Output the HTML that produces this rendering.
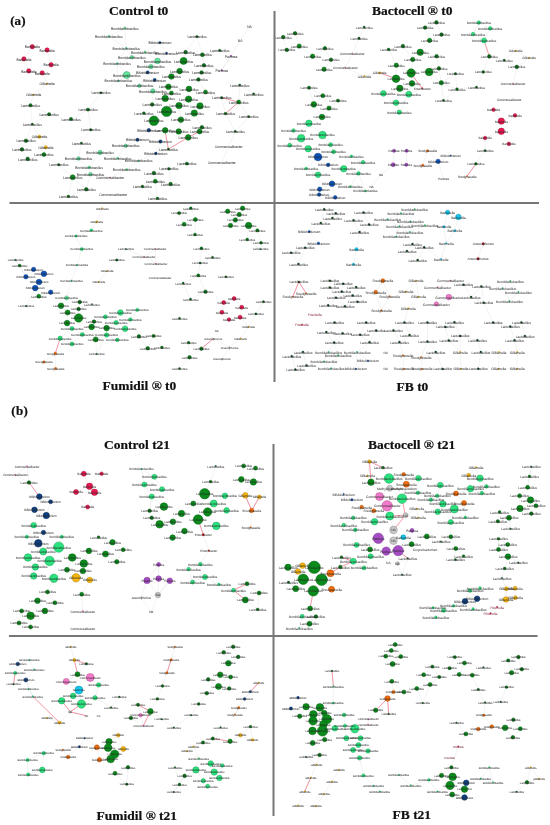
<!DOCTYPE html>
<html><head><meta charset="utf-8"><title>Network figure</title>
<style>html,body{margin:0;padding:0;background:#fff;width:550px;height:825px;overflow:hidden}svg{display:block}</style>
</head><body>
<svg width="550" height="825" viewBox="0 0 550 825">
<rect width="550" height="825" fill="#fff"/>
<g stroke="#d9d9d9" stroke-width="0.4" opacity="0.8">
<line x1="32.3" y1="46.7" x2="23.9" y2="58.9"/>
<line x1="32.3" y1="46.7" x2="47.1" y2="50"/>
<line x1="47.1" y1="50" x2="51.1" y2="64.8"/>
<line x1="23.9" y1="58.9" x2="28.8" y2="70.9"/>
<line x1="51.1" y1="64.8" x2="42.2" y2="72.9"/>
<line x1="28.8" y1="70.9" x2="42.2" y2="72.9"/>
<line x1="42.2" y1="72.9" x2="47.1" y2="83.6"/>
<line x1="47.1" y1="83.6" x2="33.6" y2="94.6"/>
<line x1="33.6" y1="94.6" x2="30.5" y2="105.2"/>
<line x1="39.4" y1="136.7" x2="45.8" y2="147.2"/>
<line x1="39.4" y1="136.7" x2="26" y2="140.8"/>
<line x1="45.8" y1="147.2" x2="43.9" y2="154.6"/>
<line x1="30.5" y1="105.2" x2="32.3" y2="124.2"/>
<line x1="49.1" y1="114.2" x2="32.3" y2="124.2"/>
<line x1="49.1" y1="114.2" x2="30.5" y2="105.2"/>
<line x1="88" y1="109.6" x2="71" y2="119"/>
<line x1="88" y1="109.6" x2="90.8" y2="129.8"/>
<line x1="101" y1="92.8" x2="118.4" y2="80.8"/>
<line x1="101" y1="92.8" x2="88" y2="109.6"/>
<line x1="32.3" y1="124.2" x2="39.4" y2="136.7"/>
<line x1="32.3" y1="124.2" x2="26" y2="140.8"/>
<line x1="90.8" y1="129.8" x2="81.4" y2="143.1"/>
<line x1="26" y1="140.8" x2="21.9" y2="149.4"/>
<line x1="21.9" y1="149.4" x2="27.7" y2="158.9"/>
<line x1="43.9" y1="154.6" x2="27.7" y2="158.9"/>
<line x1="81.4" y1="143.1" x2="78.5" y2="158.5"/>
<line x1="58.8" y1="164.7" x2="43.9" y2="154.6"/>
<line x1="58.8" y1="164.7" x2="72.7" y2="177.3"/>
<line x1="72.7" y1="177.3" x2="90.5" y2="174.2"/>
<line x1="72.7" y1="177.3" x2="86.3" y2="189.3"/>
<line x1="86.3" y1="189.3" x2="90.5" y2="174.2"/>
<line x1="68.4" y1="196.4" x2="86.3" y2="189.3"/>
<line x1="68.4" y1="196.4" x2="72.7" y2="177.3"/>
<line x1="124.8" y1="27.9" x2="108.9" y2="36.4"/>
<line x1="124.8" y1="27.9" x2="126.2" y2="48.2"/>
<line x1="108.9" y1="36.4" x2="126.2" y2="48.2"/>
<line x1="126.2" y1="48.2" x2="131.8" y2="57.3"/>
<line x1="126.2" y1="48.2" x2="117.1" y2="63.7"/>
<line x1="131.8" y1="57.3" x2="144.9" y2="51.9"/>
<line x1="117.1" y1="63.7" x2="126.7" y2="75"/>
<line x1="117.1" y1="63.7" x2="131.8" y2="57.3"/>
<line x1="126.7" y1="75" x2="118.4" y2="80.8"/>
<line x1="118.4" y1="80.8" x2="117.1" y2="63.7"/>
<line x1="144.9" y1="51.9" x2="157.5" y2="60.9"/>
<line x1="157.5" y1="60.9" x2="150.9" y2="66.6"/>
<line x1="157.5" y1="60.9" x2="166.5" y2="53.2"/>
<line x1="150.9" y1="66.6" x2="147.6" y2="72.4"/>
<line x1="139.5" y1="85.8" x2="152.9" y2="91"/>
<line x1="139.5" y1="85.8" x2="147.6" y2="72.4"/>
<line x1="152.9" y1="91" x2="154.7" y2="79.9"/>
<line x1="152.9" y1="91" x2="152.2" y2="104.5"/>
<line x1="100.1" y1="152.5" x2="89.1" y2="167.3"/>
<line x1="100.1" y1="152.5" x2="117.7" y2="158.2"/>
<line x1="78.5" y1="158.5" x2="89.1" y2="167.3"/>
<line x1="89.1" y1="167.3" x2="90.5" y2="174.2"/>
<line x1="117.7" y1="158.2" x2="126.6" y2="169.7"/>
<line x1="117.7" y1="158.2" x2="125.7" y2="145.8"/>
<line x1="125.7" y1="145.8" x2="137.5" y2="139.8"/>
<line x1="126.6" y1="169.7" x2="138.6" y2="160.8"/>
<line x1="138.6" y1="160.8" x2="155.8" y2="153.4"/>
<line x1="159.9" y1="42.6" x2="166.5" y2="53.2"/>
<line x1="159.9" y1="42.6" x2="144.9" y2="51.9"/>
<line x1="147.6" y1="72.4" x2="154.7" y2="79.9"/>
<line x1="148.8" y1="130.2" x2="153.9" y2="120.8"/>
<line x1="148.8" y1="130.2" x2="137.5" y2="139.8"/>
<line x1="160.4" y1="141.5" x2="168.4" y2="149.1"/>
<line x1="160.4" y1="141.5" x2="165.2" y2="130.3"/>
<line x1="155.8" y1="153.4" x2="160.4" y2="141.5"/>
<line x1="155.8" y1="153.4" x2="168.4" y2="149.1"/>
<line x1="197" y1="36.6" x2="202.4" y2="54.8"/>
<line x1="197" y1="36.6" x2="185.6" y2="52.1"/>
<line x1="185.6" y1="52.1" x2="183.6" y2="60.9"/>
<line x1="185.6" y1="52.1" x2="202.4" y2="54.8"/>
<line x1="183.6" y1="60.9" x2="179.6" y2="71.1"/>
<line x1="179.6" y1="71.1" x2="171.4" y2="76.5"/>
<line x1="171.4" y1="76.5" x2="168.4" y2="86.8"/>
<line x1="198.4" y1="79.5" x2="201.6" y2="72.5"/>
<line x1="198.4" y1="79.5" x2="189" y2="88.9"/>
<line x1="202.4" y1="54.8" x2="203.9" y2="65.3"/>
<line x1="219.8" y1="50.4" x2="231" y2="55.9"/>
<line x1="219.8" y1="50.4" x2="202.4" y2="54.8"/>
<line x1="203.9" y1="65.3" x2="201.6" y2="72.5"/>
<line x1="168.4" y1="86.8" x2="171.4" y2="93"/>
<line x1="189" y1="88.9" x2="188.6" y2="99.1"/>
<line x1="171.4" y1="93" x2="165.2" y2="98.4"/>
<line x1="165.2" y1="98.4" x2="168.4" y2="86.8"/>
<line x1="188.6" y1="99.1" x2="179" y2="105.6"/>
<line x1="152.2" y1="104.5" x2="143.9" y2="113.1"/>
<line x1="179" y1="105.6" x2="166.6" y2="111.4"/>
<line x1="166.6" y1="111.4" x2="165.2" y2="98.4"/>
<line x1="194.3" y1="113.1" x2="200" y2="105.9"/>
<line x1="194.3" y1="113.1" x2="180.9" y2="119.7"/>
<line x1="143.9" y1="113.1" x2="153.9" y2="120.8"/>
<line x1="180.9" y1="119.7" x2="178.7" y2="131.5"/>
<line x1="180.9" y1="119.7" x2="179" y2="105.6"/>
<line x1="165.2" y1="130.3" x2="178.7" y2="131.5"/>
<line x1="178.7" y1="131.5" x2="188.2" y2="137.4"/>
<line x1="205.5" y1="92" x2="198.4" y2="79.5"/>
<line x1="205.5" y1="92" x2="200" y2="105.9"/>
<line x1="200" y1="105.9" x2="188.6" y2="99.1"/>
<line x1="239.8" y1="85" x2="253.7" y2="93.9"/>
<line x1="239.8" y1="85" x2="238.7" y2="102"/>
<line x1="253.7" y1="93.9" x2="238.7" y2="102"/>
<line x1="221.7" y1="97.7" x2="225.5" y2="113.6"/>
<line x1="221.7" y1="97.7" x2="205.5" y2="92"/>
<line x1="225.5" y1="113.6" x2="238.7" y2="102"/>
<line x1="248.7" y1="116.7" x2="238.7" y2="102"/>
<line x1="248.7" y1="116.7" x2="235.3" y2="131.4"/>
<line x1="202" y1="127.2" x2="199.6" y2="131.4"/>
<line x1="202" y1="127.2" x2="194.3" y2="113.1"/>
<line x1="199.6" y1="131.4" x2="188.2" y2="137.4"/>
<line x1="235.3" y1="131.4" x2="225.5" y2="113.6"/>
<line x1="186.9" y1="163.6" x2="168.9" y2="168.8"/>
<line x1="168.9" y1="168.8" x2="170.6" y2="184"/>
<line x1="168.9" y1="168.8" x2="153.9" y2="173"/>
<line x1="153.9" y1="173" x2="155.3" y2="181.2"/>
<line x1="155.3" y1="181.2" x2="142.4" y2="186.5"/>
<line x1="170.6" y1="184" x2="155.3" y2="181.2"/>
<line x1="142.4" y1="186.5" x2="153.9" y2="173"/>
<line x1="157.5" y1="198.4" x2="155.3" y2="181.2"/>
<line x1="157.5" y1="198.4" x2="142.4" y2="186.5"/>
<line x1="231" y1="55.9" x2="221.7" y2="70.2"/>
<line x1="221.7" y1="70.2" x2="203.9" y2="65.3"/>
<line x1="110" y1="177.5" x2="126.6" y2="169.7"/>
<line x1="110" y1="177.5" x2="90.5" y2="174.2"/>
<line x1="295.1" y1="33.3" x2="283.2" y2="37.1"/>
<line x1="295.1" y1="33.3" x2="299.2" y2="46.1"/>
<line x1="283.2" y1="37.1" x2="286.8" y2="49.9"/>
<line x1="299.2" y1="46.1" x2="286.8" y2="49.9"/>
<line x1="324.9" y1="48.2" x2="331" y2="59.7"/>
<line x1="324.9" y1="48.2" x2="312.6" y2="56.2"/>
<line x1="312.6" y1="56.2" x2="299.2" y2="46.1"/>
<line x1="331" y1="59.7" x2="324.1" y2="69.3"/>
<line x1="324.1" y1="69.3" x2="312.6" y2="56.2"/>
<line x1="359" y1="38.2" x2="364.2" y2="27.1"/>
<line x1="359" y1="38.2" x2="352.3" y2="53.5"/>
<line x1="436.4" y1="22.4" x2="425.1" y2="27.6"/>
<line x1="436.4" y1="22.4" x2="441.5" y2="34.6"/>
<line x1="425.1" y1="27.6" x2="429.6" y2="40.4"/>
<line x1="441.5" y1="34.6" x2="429.6" y2="40.4"/>
<line x1="402.9" y1="46.1" x2="388.6" y2="49.4"/>
<line x1="402.9" y1="46.1" x2="412.7" y2="59.5"/>
<line x1="388.6" y1="49.4" x2="396.3" y2="65.2"/>
<line x1="420.2" y1="52.3" x2="412.7" y2="59.5"/>
<line x1="420.2" y1="52.3" x2="429.6" y2="40.4"/>
<line x1="436.6" y1="56.2" x2="438.9" y2="68.4"/>
<line x1="436.6" y1="56.2" x2="420.2" y2="52.3"/>
<line x1="412.7" y1="59.5" x2="411.1" y2="73"/>
<line x1="396.3" y1="65.2" x2="396" y2="78.7"/>
<line x1="396.3" y1="65.2" x2="411.1" y2="73"/>
<line x1="438.9" y1="68.4" x2="429.1" y2="72"/>
<line x1="411.1" y1="73" x2="412" y2="83.4"/>
<line x1="429.1" y1="72" x2="441.3" y2="82.8"/>
<line x1="396" y1="78.7" x2="399.8" y2="88.3"/>
<line x1="412" y1="83.4" x2="408.8" y2="94.2"/>
<line x1="399.8" y1="88.3" x2="408.8" y2="94.2"/>
<line x1="441.3" y1="82.8" x2="438.9" y2="68.4"/>
<line x1="443.5" y1="100.3" x2="457" y2="89.1"/>
<line x1="443.5" y1="100.3" x2="441.3" y2="82.8"/>
<line x1="489.3" y1="56.4" x2="504.2" y2="60.2"/>
<line x1="489.3" y1="56.4" x2="483.2" y2="72"/>
<line x1="504.2" y1="60.2" x2="516.8" y2="66.9"/>
<line x1="504.2" y1="60.2" x2="515.6" y2="50.9"/>
<line x1="516.8" y1="66.9" x2="529" y2="58"/>
<line x1="483.2" y1="72" x2="476.5" y2="87.2"/>
<line x1="455.5" y1="73.7" x2="457" y2="89.1"/>
<line x1="455.5" y1="73.7" x2="441.3" y2="82.8"/>
<line x1="457" y1="89.1" x2="441.3" y2="82.8"/>
<line x1="476.5" y1="87.2" x2="457" y2="89.1"/>
<line x1="309" y1="87.7" x2="322.8" y2="95.7"/>
<line x1="309" y1="87.7" x2="313.8" y2="104.4"/>
<line x1="322.8" y1="95.7" x2="313.8" y2="104.4"/>
<line x1="322.8" y1="95.7" x2="329" y2="108.1"/>
<line x1="338" y1="100.6" x2="329" y2="108.1"/>
<line x1="338" y1="100.6" x2="322.8" y2="95.7"/>
<line x1="313.8" y1="104.4" x2="322" y2="117"/>
<line x1="329" y1="108.1" x2="322" y2="117"/>
<line x1="322" y1="117" x2="308.9" y2="123.2"/>
<line x1="485.1" y1="150.6" x2="485.1" y2="138"/>
<line x1="485.1" y1="150.6" x2="475.9" y2="163.8"/>
<line x1="475.9" y1="163.8" x2="467" y2="176.2"/>
<line x1="478.8" y1="22.6" x2="490.2" y2="28.4"/>
<line x1="478.8" y1="22.6" x2="473.1" y2="34.1"/>
<line x1="490.2" y1="28.4" x2="484.1" y2="40.4"/>
<line x1="473.1" y1="34.1" x2="484.1" y2="40.4"/>
<line x1="308.9" y1="123.2" x2="301.2" y2="138.2"/>
<line x1="293.5" y1="130.5" x2="301.2" y2="138.2"/>
<line x1="293.5" y1="130.5" x2="289.7" y2="145.2"/>
<line x1="322.5" y1="135" x2="330.6" y2="144.7"/>
<line x1="322.5" y1="135" x2="308.9" y2="123.2"/>
<line x1="301.2" y1="138.2" x2="308.2" y2="148.8"/>
<line x1="289.7" y1="145.2" x2="301.2" y2="138.2"/>
<line x1="330.6" y1="144.7" x2="333.6" y2="151.8"/>
<line x1="308.2" y1="148.8" x2="318" y2="157"/>
<line x1="333.6" y1="151.8" x2="328.2" y2="164.9"/>
<line x1="351.4" y1="156.2" x2="363" y2="162.2"/>
<line x1="351.4" y1="156.2" x2="343.7" y2="168.8"/>
<line x1="306.1" y1="168.5" x2="318" y2="174.7"/>
<line x1="306.1" y1="168.5" x2="318" y2="157"/>
<line x1="343.7" y1="168.8" x2="358.5" y2="173.4"/>
<line x1="318" y1="174.7" x2="328.2" y2="164.9"/>
<line x1="358.5" y1="173.4" x2="363" y2="162.2"/>
<line x1="358.5" y1="173.4" x2="350.3" y2="186.5"/>
<line x1="350.3" y1="186.5" x2="365.4" y2="191"/>
<line x1="365.4" y1="191" x2="358.5" y2="173.4"/>
<line x1="383.4" y1="93.4" x2="396" y2="102.7"/>
<line x1="383.4" y1="93.4" x2="399.8" y2="88.3"/>
<line x1="396" y1="102.7" x2="399.3" y2="112.2"/>
<line x1="396" y1="102.7" x2="399.8" y2="88.3"/>
<line x1="399.3" y1="112.2" x2="408.8" y2="94.2"/>
<line x1="318" y1="157" x2="328.2" y2="164.9"/>
<line x1="332" y1="183.7" x2="319.7" y2="189.2"/>
<line x1="332" y1="183.7" x2="335.2" y2="197.4"/>
<line x1="319.7" y1="189.2" x2="319.2" y2="194.6"/>
<line x1="319.2" y1="194.6" x2="335.2" y2="197.4"/>
<line x1="438.1" y1="161.4" x2="450.7" y2="155.4"/>
<line x1="438.1" y1="161.4" x2="427.6" y2="150.8"/>
<line x1="394" y1="150.8" x2="406.6" y2="150.8"/>
<line x1="394" y1="150.8" x2="393.2" y2="164.7"/>
<line x1="406.6" y1="150.8" x2="406.3" y2="164.7"/>
<line x1="393.2" y1="164.7" x2="406.3" y2="164.7"/>
<line x1="427.6" y1="150.8" x2="422.7" y2="165.2"/>
<line x1="422.7" y1="165.2" x2="438.1" y2="161.4"/>
<line x1="379.6" y1="72.8" x2="364.5" y2="76.1"/>
<line x1="379.6" y1="72.8" x2="396" y2="78.7"/>
<line x1="364.5" y1="76.1" x2="345.4" y2="67.7"/>
<line x1="515.6" y1="50.9" x2="529" y2="58"/>
<line x1="493.5" y1="109.7" x2="501.3" y2="121.1"/>
<line x1="515" y1="115.4" x2="501.3" y2="121.1"/>
<line x1="515" y1="115.4" x2="501.3" y2="131.3"/>
<line x1="501.3" y1="121.1" x2="501.3" y2="131.3"/>
<line x1="501.3" y1="131.3" x2="508.9" y2="143.9"/>
<line x1="485.1" y1="138" x2="501.3" y2="131.3"/>
<line x1="352.3" y1="53.5" x2="345.4" y2="67.7"/>
<line x1="345.4" y1="67.7" x2="331" y2="59.7"/>
<line x1="513.1" y1="83.7" x2="516.8" y2="66.9"/>
<line x1="422.2" y1="88.3" x2="412" y2="83.4"/>
<line x1="422.2" y1="88.3" x2="408.8" y2="94.2"/>
<line x1="76.1" y1="236" x2="81.8" y2="249.1"/>
<line x1="76.1" y1="236" x2="91.3" y2="230.2"/>
<line x1="81.8" y1="249.1" x2="76.9" y2="265.1"/>
<line x1="91.3" y1="230.2" x2="96.7" y2="221.8"/>
<line x1="76.9" y1="265.1" x2="71.5" y2="280.7"/>
<line x1="71.5" y1="280.7" x2="66.6" y2="297.9"/>
<line x1="66.6" y1="297.9" x2="61" y2="305.7"/>
<line x1="66.6" y1="297.9" x2="79.7" y2="302.1"/>
<line x1="72" y1="328.5" x2="67.1" y2="323.1"/>
<line x1="72" y1="328.5" x2="82.3" y2="334.5"/>
<line x1="82.3" y1="334.5" x2="91.6" y2="326.9"/>
<line x1="60.1" y1="338.3" x2="72" y2="344"/>
<line x1="60.1" y1="338.3" x2="72" y2="328.5"/>
<line x1="72" y1="344" x2="82.3" y2="334.5"/>
<line x1="137.3" y1="309.9" x2="130.4" y2="319.5"/>
<line x1="137.3" y1="309.9" x2="120.4" y2="312.5"/>
<line x1="120.4" y1="312.5" x2="116.1" y2="322.6"/>
<line x1="120.4" y1="312.5" x2="130.4" y2="319.5"/>
<line x1="105.4" y1="316.8" x2="106.6" y2="328.1"/>
<line x1="105.4" y1="316.8" x2="116.1" y2="322.6"/>
<line x1="130.4" y1="319.5" x2="125.1" y2="328.7"/>
<line x1="116.1" y1="322.6" x2="125.1" y2="328.7"/>
<line x1="116.1" y1="322.6" x2="106.6" y2="328.1"/>
<line x1="106.6" y1="335" x2="106.6" y2="328.1"/>
<line x1="106.6" y1="335" x2="95.7" y2="339.4"/>
<line x1="117.3" y1="339.9" x2="106.6" y2="335"/>
<line x1="117.3" y1="339.9" x2="125.1" y2="328.7"/>
<line x1="15.5" y1="260" x2="19.6" y2="265.6"/>
<line x1="15.5" y1="260" x2="25.9" y2="276.8"/>
<line x1="19.6" y1="265.6" x2="25.9" y2="276.8"/>
<line x1="38.8" y1="296.2" x2="35.2" y2="288.1"/>
<line x1="38.8" y1="296.2" x2="50.7" y2="292.2"/>
<line x1="26.2" y1="306.1" x2="38.8" y2="296.2"/>
<line x1="26.2" y1="306.1" x2="35.2" y2="288.1"/>
<line x1="79.7" y1="302.1" x2="78.6" y2="309"/>
<line x1="79.7" y1="302.1" x2="91.9" y2="304.2"/>
<line x1="61" y1="305.7" x2="67.6" y2="312.5"/>
<line x1="78.6" y1="309" x2="78.6" y2="318"/>
<line x1="67.6" y1="312.5" x2="67.1" y2="323.1"/>
<line x1="78.6" y1="318" x2="67.6" y2="312.5"/>
<line x1="91.6" y1="326.9" x2="94" y2="321.6"/>
<line x1="94" y1="321.6" x2="105.4" y2="316.8"/>
<line x1="95.7" y1="339.4" x2="91.6" y2="326.9"/>
<line x1="138.9" y1="336.4" x2="153.6" y2="335.9"/>
<line x1="138.9" y1="336.4" x2="147.7" y2="348.3"/>
<line x1="153.6" y1="335.9" x2="147.7" y2="348.3"/>
<line x1="153.6" y1="335.9" x2="161.9" y2="347.5"/>
<line x1="147.7" y1="348.3" x2="161.9" y2="347.5"/>
<line x1="96.7" y1="354" x2="95.7" y2="339.4"/>
<line x1="96.7" y1="354" x2="106.6" y2="335"/>
<line x1="91.9" y1="304.2" x2="78.6" y2="309"/>
<line x1="126" y1="249.1" x2="116.8" y2="260"/>
<line x1="126" y1="249.1" x2="144" y2="256.9"/>
<line x1="116.8" y1="260" x2="107.1" y2="271.1"/>
<line x1="179.1" y1="213.1" x2="184.1" y2="224.2"/>
<line x1="179.1" y1="213.1" x2="190.8" y2="208.2"/>
<line x1="190.8" y1="208.2" x2="195.4" y2="219.6"/>
<line x1="195.4" y1="219.6" x2="184.1" y2="224.2"/>
<line x1="195" y1="234.5" x2="195.4" y2="219.6"/>
<line x1="195" y1="234.5" x2="184.1" y2="224.2"/>
<line x1="201.4" y1="248.2" x2="212.6" y2="257.3"/>
<line x1="201.4" y1="248.2" x2="200.1" y2="263"/>
<line x1="212.6" y1="257.3" x2="200.1" y2="263"/>
<line x1="200.1" y1="263" x2="198.3" y2="275.4"/>
<line x1="242.6" y1="208.2" x2="239.2" y2="214.5"/>
<line x1="242.6" y1="208.2" x2="235.4" y2="220"/>
<line x1="227.7" y1="211.3" x2="235.4" y2="220"/>
<line x1="227.7" y1="211.3" x2="239.2" y2="214.5"/>
<line x1="239.2" y1="214.5" x2="235.4" y2="220"/>
<line x1="235.4" y1="220" x2="230.5" y2="225.5"/>
<line x1="230.5" y1="225.5" x2="239.2" y2="214.5"/>
<line x1="248.6" y1="225.5" x2="257.4" y2="230.4"/>
<line x1="248.6" y1="225.5" x2="247.2" y2="239.5"/>
<line x1="257.4" y1="230.4" x2="261" y2="242.7"/>
<line x1="247.2" y1="239.5" x2="257.4" y2="230.4"/>
<line x1="261" y1="242.7" x2="260.5" y2="249.1"/>
<line x1="260.5" y1="249.1" x2="247.2" y2="239.5"/>
<line x1="198.3" y1="275.4" x2="183.2" y2="283.2"/>
<line x1="183.2" y1="283.2" x2="190.5" y2="299.2"/>
<line x1="205.5" y1="291.7" x2="190.5" y2="299.2"/>
<line x1="205.5" y1="291.7" x2="198.3" y2="275.4"/>
<line x1="263.5" y1="301.7" x2="255.9" y2="313.9"/>
<line x1="255.9" y1="313.9" x2="248.6" y2="326.7"/>
<line x1="188.6" y1="342.7" x2="201.4" y2="348.7"/>
<line x1="188.6" y1="342.7" x2="189.5" y2="357.3"/>
<line x1="201.4" y1="348.7" x2="189.5" y2="357.3"/>
<line x1="179.5" y1="368.5" x2="189.5" y2="357.3"/>
<line x1="33.6" y1="269.4" x2="25.9" y2="276.8"/>
<line x1="33.6" y1="269.4" x2="43.9" y2="273.8"/>
<line x1="43.9" y1="273.8" x2="39" y2="282"/>
<line x1="39" y1="282" x2="35.2" y2="288.1"/>
<line x1="50.7" y1="292.2" x2="39" y2="282"/>
<line x1="102.2" y1="208.2" x2="96.7" y2="221.8"/>
<line x1="107.1" y1="271.1" x2="98.8" y2="281.8"/>
<line x1="248.6" y1="326.7" x2="240.1" y2="317.2"/>
<line x1="248.6" y1="326.7" x2="240.5" y2="338.5"/>
<line x1="240.5" y1="338.5" x2="229.5" y2="347.3"/>
<line x1="155.1" y1="249.1" x2="144" y2="256.9"/>
<line x1="155.1" y1="249.1" x2="155.9" y2="263.8"/>
<line x1="144" y1="256.9" x2="155.9" y2="263.8"/>
<line x1="234.1" y1="298.6" x2="223.7" y2="302.6"/>
<line x1="234.1" y1="298.6" x2="241.7" y2="307.2"/>
<line x1="223.7" y1="302.6" x2="221.9" y2="312.3"/>
<line x1="241.7" y1="307.2" x2="240.1" y2="317.2"/>
<line x1="221.9" y1="312.3" x2="229" y2="319.6"/>
<line x1="240.1" y1="317.2" x2="229" y2="319.6"/>
<line x1="55.3" y1="353.4" x2="43.9" y2="362"/>
<line x1="55.3" y1="353.4" x2="55.6" y2="368.4"/>
<line x1="43.9" y1="362" x2="55.6" y2="368.4"/>
<line x1="213.2" y1="338.7" x2="201.4" y2="348.7"/>
<line x1="213.2" y1="338.7" x2="229.5" y2="347.3"/>
<line x1="229.5" y1="347.3" x2="221.9" y2="359.1"/>
<line x1="324.2" y1="209.2" x2="332.5" y2="218.1"/>
<line x1="324.2" y1="209.2" x2="335.8" y2="213.3"/>
<line x1="335.8" y1="213.3" x2="332.5" y2="218.1"/>
<line x1="320.8" y1="223" x2="332.5" y2="218.1"/>
<line x1="320.8" y1="223" x2="324.2" y2="209.2"/>
<line x1="353.6" y1="220.2" x2="363.6" y2="212.6"/>
<line x1="353.6" y1="220.2" x2="359.6" y2="232"/>
<line x1="363.6" y1="212.6" x2="369.1" y2="224.4"/>
<line x1="359.6" y1="232" x2="369.1" y2="224.4"/>
<line x1="305.2" y1="247.8" x2="318.5" y2="243.2"/>
<line x1="305.2" y1="247.8" x2="291.1" y2="252.7"/>
<line x1="291.1" y1="252.7" x2="298.5" y2="264"/>
<line x1="298.5" y1="264" x2="305.2" y2="247.8"/>
<line x1="412.5" y1="244" x2="407" y2="251"/>
<line x1="412.5" y1="244" x2="424.2" y2="247.2"/>
<line x1="424.2" y1="247.2" x2="417.7" y2="260.1"/>
<line x1="407" y1="251" x2="417.7" y2="260.1"/>
<line x1="298.8" y1="281.9" x2="306.1" y2="293.2"/>
<line x1="298.8" y1="281.9" x2="292.8" y2="296.6"/>
<line x1="329.9" y1="280.7" x2="329.9" y2="287.6"/>
<line x1="329.9" y1="280.7" x2="343.2" y2="283.7"/>
<line x1="343.2" y1="283.7" x2="341.8" y2="291.6"/>
<line x1="343.2" y1="283.7" x2="356.2" y2="287.1"/>
<line x1="329.9" y1="287.6" x2="336" y2="297.7"/>
<line x1="356.2" y1="287.1" x2="352.7" y2="295.4"/>
<line x1="341.8" y1="291.6" x2="336" y2="297.7"/>
<line x1="352.7" y1="295.4" x2="357.6" y2="301.8"/>
<line x1="336" y1="297.7" x2="328.2" y2="305.3"/>
<line x1="357.6" y1="301.8" x2="345" y2="306.3"/>
<line x1="328.2" y1="305.3" x2="345" y2="306.3"/>
<line x1="345" y1="306.3" x2="336" y2="297.7"/>
<line x1="345" y1="306.3" x2="352.7" y2="295.4"/>
<line x1="334.6" y1="322.5" x2="326.3" y2="332.1"/>
<line x1="334.6" y1="322.5" x2="342.7" y2="333.3"/>
<line x1="366.1" y1="322.4" x2="376.2" y2="330.4"/>
<line x1="366.1" y1="322.4" x2="360.1" y2="334.7"/>
<line x1="404.5" y1="322.4" x2="409.6" y2="335"/>
<line x1="404.5" y1="322.4" x2="393.5" y2="330.4"/>
<line x1="427.5" y1="322.4" x2="445.3" y2="326.9"/>
<line x1="427.5" y1="322.4" x2="427.5" y2="341.6"/>
<line x1="454.5" y1="322.2" x2="445.3" y2="326.9"/>
<line x1="454.5" y1="322.2" x2="460.2" y2="335.9"/>
<line x1="463.6" y1="284.7" x2="450.5" y2="280.7"/>
<line x1="463.6" y1="284.7" x2="471.1" y2="297.1"/>
<line x1="481.4" y1="286.4" x2="471.1" y2="297.1"/>
<line x1="481.4" y1="286.4" x2="483.8" y2="302.7"/>
<line x1="471.1" y1="297.1" x2="483.8" y2="302.7"/>
<line x1="493.2" y1="322.4" x2="510.3" y2="326.6"/>
<line x1="493.2" y1="322.4" x2="483.8" y2="302.7"/>
<line x1="521.5" y1="322.4" x2="510.3" y2="326.6"/>
<line x1="521.5" y1="322.4" x2="525" y2="336.1"/>
<line x1="445.3" y1="326.9" x2="448.8" y2="340.4"/>
<line x1="376.2" y1="330.4" x2="369.6" y2="342.2"/>
<line x1="393.5" y1="330.4" x2="399.5" y2="342.1"/>
<line x1="409.6" y1="335" x2="399.5" y2="342.1"/>
<line x1="369.6" y1="342.2" x2="360.1" y2="334.7"/>
<line x1="427.5" y1="341.6" x2="435.8" y2="352"/>
<line x1="427.5" y1="341.6" x2="421.1" y2="357.1"/>
<line x1="448.8" y1="340.4" x2="460.2" y2="335.9"/>
<line x1="435.8" y1="352" x2="421.1" y2="357.1"/>
<line x1="442.7" y1="368.9" x2="435.8" y2="352"/>
<line x1="442.7" y1="368.9" x2="461" y2="368.7"/>
<line x1="326.3" y1="332.1" x2="334.1" y2="342.5"/>
<line x1="342.7" y1="333.3" x2="334.1" y2="342.5"/>
<line x1="334.1" y1="342.5" x2="328.5" y2="352"/>
<line x1="303" y1="352" x2="291.8" y2="356.3"/>
<line x1="303" y1="352" x2="306.6" y2="365.4"/>
<line x1="291.8" y1="356.3" x2="295.4" y2="369.6"/>
<line x1="306.6" y1="365.4" x2="295.4" y2="369.6"/>
<line x1="510.3" y1="326.6" x2="514.6" y2="340.2"/>
<line x1="477.5" y1="340.2" x2="480.9" y2="352"/>
<line x1="477.5" y1="340.2" x2="460.2" y2="335.9"/>
<line x1="525" y1="336.1" x2="514.6" y2="340.2"/>
<line x1="514.6" y1="340.2" x2="517.2" y2="352"/>
<line x1="480.9" y1="352" x2="478.3" y2="368.7"/>
<line x1="478.3" y1="368.7" x2="461" y2="368.7"/>
<line x1="309.2" y1="231.6" x2="320.8" y2="223"/>
<line x1="309.2" y1="231.6" x2="318.5" y2="243.2"/>
<line x1="355.8" y1="368.9" x2="368" y2="360.6"/>
<line x1="355.8" y1="368.9" x2="357" y2="352"/>
<line x1="368" y1="360.6" x2="357" y2="352"/>
<line x1="356.5" y1="249.2" x2="353.6" y2="264.3"/>
<line x1="356.5" y1="249.2" x2="359.6" y2="232"/>
<line x1="447.6" y1="212.4" x2="458.4" y2="217"/>
<line x1="447.6" y1="212.4" x2="443.9" y2="226.8"/>
<line x1="458.4" y1="217" x2="454.8" y2="230.6"/>
<line x1="443.9" y1="226.8" x2="454.8" y2="230.6"/>
<line x1="446.2" y1="243.2" x2="454.8" y2="230.6"/>
<line x1="446.2" y1="243.2" x2="443.9" y2="226.8"/>
<line x1="441" y1="259.1" x2="446.2" y2="243.2"/>
<line x1="441" y1="259.1" x2="424.2" y2="247.2"/>
<line x1="414.6" y1="209.2" x2="410.4" y2="221.6"/>
<line x1="414.6" y1="209.2" x2="400.8" y2="213.3"/>
<line x1="400.8" y1="213.3" x2="410.4" y2="221.6"/>
<line x1="400.8" y1="213.3" x2="399.5" y2="226.3"/>
<line x1="387.5" y1="219.3" x2="399.5" y2="226.3"/>
<line x1="387.5" y1="219.3" x2="400.8" y2="213.3"/>
<line x1="410.4" y1="221.6" x2="409.9" y2="232"/>
<line x1="410.4" y1="221.6" x2="399.5" y2="226.3"/>
<line x1="399.5" y1="226.3" x2="396.1" y2="236.6"/>
<line x1="399.5" y1="226.3" x2="409.9" y2="232"/>
<line x1="424.9" y1="225.4" x2="410.4" y2="221.6"/>
<line x1="424.9" y1="225.4" x2="409.9" y2="232"/>
<line x1="396.1" y1="236.6" x2="409.9" y2="232"/>
<line x1="510.3" y1="281.1" x2="502.5" y2="288.2"/>
<line x1="510.3" y1="281.1" x2="518.4" y2="292"/>
<line x1="502.5" y1="288.2" x2="509.4" y2="301.1"/>
<line x1="518.4" y1="292" x2="509.4" y2="301.1"/>
<line x1="328.5" y1="352" x2="338" y2="355.4"/>
<line x1="328.5" y1="352" x2="323.9" y2="361.5"/>
<line x1="357" y1="352" x2="369.6" y2="342.2"/>
<line x1="338" y1="355.4" x2="334.1" y2="342.5"/>
<line x1="323.9" y1="361.5" x2="331.1" y2="368.4"/>
<line x1="331.1" y1="368.4" x2="338" y2="355.4"/>
<line x1="483.2" y1="243.7" x2="478" y2="258.7"/>
<line x1="306.1" y1="293.2" x2="292.8" y2="296.6"/>
<line x1="382.8" y1="280.7" x2="375.7" y2="292"/>
<line x1="382.8" y1="280.7" x2="389.5" y2="296.3"/>
<line x1="375.7" y1="292" x2="389.5" y2="296.3"/>
<line x1="389.5" y1="296.3" x2="381.4" y2="310.4"/>
<line x1="381.4" y1="310.4" x2="375.7" y2="292"/>
<line x1="403" y1="355.4" x2="403.9" y2="368.9"/>
<line x1="403" y1="355.4" x2="399.5" y2="342.1"/>
<line x1="421.1" y1="357.1" x2="422" y2="368.9"/>
<line x1="403.9" y1="368.9" x2="422" y2="368.9"/>
<line x1="416" y1="280.7" x2="405.9" y2="291.6"/>
<line x1="416" y1="280.7" x2="418.5" y2="296.8"/>
<line x1="405.9" y1="291.6" x2="418.5" y2="296.8"/>
<line x1="418.5" y1="296.8" x2="408.2" y2="308.4"/>
<line x1="408.2" y1="308.4" x2="404.5" y2="322.4"/>
<line x1="460.2" y1="352" x2="460.2" y2="335.9"/>
<line x1="460.2" y1="352" x2="448.8" y2="340.4"/>
<line x1="499" y1="352" x2="498.7" y2="368.7"/>
<line x1="499" y1="352" x2="480.9" y2="352"/>
<line x1="517.2" y1="352" x2="517.2" y2="368.7"/>
<line x1="461" y1="368.7" x2="460.2" y2="352"/>
<line x1="498.7" y1="368.7" x2="517.2" y2="368.7"/>
<line x1="448.8" y1="297.1" x2="436.3" y2="304"/>
<line x1="448.8" y1="297.1" x2="437.5" y2="287.3"/>
<line x1="436.3" y1="304" x2="437.5" y2="287.3"/>
<line x1="450.5" y1="280.7" x2="437.5" y2="287.3"/>
<line x1="27.1" y1="466.4" x2="15.5" y2="475"/>
<line x1="27.1" y1="466.4" x2="29" y2="482.5"/>
<line x1="15.5" y1="475" x2="29" y2="482.5"/>
<line x1="82.9" y1="611.1" x2="81.7" y2="594.2"/>
<line x1="163.9" y1="506.6" x2="149.6" y2="510.8"/>
<line x1="163.9" y1="506.6" x2="151.7" y2="496.6"/>
<line x1="149.6" y1="510.8" x2="151.7" y2="517.8"/>
<line x1="149.6" y1="510.8" x2="151.7" y2="496.6"/>
<line x1="181.5" y1="513.5" x2="172.9" y2="521.7"/>
<line x1="181.5" y1="513.5" x2="193.3" y2="503.5"/>
<line x1="215.8" y1="466.1" x2="210.6" y2="481.6"/>
<line x1="243.6" y1="465.9" x2="255.5" y2="468.1"/>
<line x1="243.6" y1="465.9" x2="241.3" y2="479.4"/>
<line x1="255.5" y1="468.1" x2="253.4" y2="482"/>
<line x1="210.6" y1="481.6" x2="204.7" y2="493.7"/>
<line x1="241.3" y1="479.4" x2="253.4" y2="482"/>
<line x1="204.7" y1="493.7" x2="213.7" y2="503.5"/>
<line x1="193.3" y1="503.5" x2="204.7" y2="493.7"/>
<line x1="207.6" y1="512" x2="213.7" y2="503.5"/>
<line x1="207.6" y1="512" x2="198.1" y2="519.5"/>
<line x1="198.1" y1="519.5" x2="203.3" y2="534.7"/>
<line x1="184.5" y1="531.1" x2="172.6" y2="537.6"/>
<line x1="184.5" y1="531.1" x2="172.9" y2="521.7"/>
<line x1="151.7" y1="517.8" x2="159.6" y2="524.3"/>
<line x1="159.6" y1="524.3" x2="172.9" y2="521.7"/>
<line x1="172.6" y1="537.6" x2="172.9" y2="521.7"/>
<line x1="98.6" y1="537.1" x2="112.5" y2="542.3"/>
<line x1="98.6" y1="537.1" x2="88.9" y2="550.9"/>
<line x1="112.5" y1="542.3" x2="123.2" y2="549.7"/>
<line x1="112.5" y1="542.3" x2="105.5" y2="554"/>
<line x1="123.2" y1="549.7" x2="116.8" y2="561.8"/>
<line x1="88.9" y1="550.9" x2="83.8" y2="563.5"/>
<line x1="105.5" y1="554" x2="116.8" y2="561.8"/>
<line x1="72.2" y1="557.5" x2="83.8" y2="563.5"/>
<line x1="72.2" y1="557.5" x2="67" y2="569.8"/>
<line x1="83.8" y1="563.5" x2="82.9" y2="571"/>
<line x1="67" y1="569.8" x2="76" y2="577.8"/>
<line x1="82.9" y1="571" x2="76" y2="577.8"/>
<line x1="81.7" y1="594.2" x2="89.8" y2="580"/>
<line x1="47.5" y1="591.9" x2="54.9" y2="602.8"/>
<line x1="47.5" y1="591.9" x2="37.5" y2="600.7"/>
<line x1="37.5" y1="600.7" x2="44.9" y2="610.9"/>
<line x1="54.9" y1="602.8" x2="44.9" y2="610.9"/>
<line x1="21.6" y1="610.9" x2="30.6" y2="615.8"/>
<line x1="21.6" y1="610.9" x2="19" y2="623"/>
<line x1="30.6" y1="615.8" x2="30.6" y2="627"/>
<line x1="19" y1="623" x2="30.6" y2="627"/>
<line x1="247" y1="583.8" x2="233.5" y2="590.2"/>
<line x1="247" y1="583.8" x2="259.1" y2="593"/>
<line x1="259.1" y1="593" x2="245.3" y2="599.9"/>
<line x1="245.3" y1="599.9" x2="233.5" y2="590.2"/>
<line x1="257.7" y1="609.4" x2="245.3" y2="599.9"/>
<line x1="257.7" y1="609.4" x2="259.1" y2="593"/>
<line x1="39.4" y1="496.6" x2="50.6" y2="501.8"/>
<line x1="39.4" y1="496.6" x2="34.5" y2="509.8"/>
<line x1="50.6" y1="501.8" x2="46.3" y2="515.5"/>
<line x1="34.5" y1="509.8" x2="46.3" y2="515.5"/>
<line x1="43.5" y1="532.5" x2="38.3" y2="543.3"/>
<line x1="43.5" y1="532.5" x2="33.7" y2="525.2"/>
<line x1="38.3" y1="543.3" x2="43.2" y2="551.5"/>
<line x1="83.8" y1="473.7" x2="89.5" y2="486.3"/>
<line x1="83.8" y1="473.7" x2="101.6" y2="473.7"/>
<line x1="89.5" y1="486.3" x2="94.5" y2="492.3"/>
<line x1="76" y1="492" x2="89.5" y2="486.3"/>
<line x1="76" y1="492" x2="94.5" y2="492.3"/>
<line x1="94.5" y1="492.3" x2="87.6" y2="507"/>
<line x1="87.6" y1="507" x2="76" y2="492"/>
<line x1="101.6" y1="473.7" x2="89.5" y2="486.3"/>
<line x1="141.5" y1="469" x2="154.4" y2="476.8"/>
<line x1="141.5" y1="469" x2="144.4" y2="484.5"/>
<line x1="154.4" y1="476.8" x2="144.4" y2="484.5"/>
<line x1="154.4" y1="476.8" x2="162" y2="489.2"/>
<line x1="144.4" y1="484.5" x2="151.7" y2="496.6"/>
<line x1="162" y1="489.2" x2="151.7" y2="496.6"/>
<line x1="224.9" y1="495.8" x2="213.7" y2="503.5"/>
<line x1="224.9" y1="495.8" x2="226.6" y2="510.4"/>
<line x1="226.6" y1="510.4" x2="213.7" y2="503.5"/>
<line x1="216.3" y1="525.9" x2="203.3" y2="534.7"/>
<line x1="216.3" y1="525.9" x2="207.6" y2="512"/>
<line x1="33.7" y1="525.2" x2="26.8" y2="536.8"/>
<line x1="26.8" y1="536.8" x2="38.3" y2="543.3"/>
<line x1="61.8" y1="536.8" x2="58.7" y2="547.1"/>
<line x1="61.8" y1="536.8" x2="43.5" y2="532.5"/>
<line x1="58.7" y1="547.1" x2="43.2" y2="551.5"/>
<line x1="43.2" y1="551.5" x2="49.6" y2="561"/>
<line x1="28" y1="557.5" x2="35.4" y2="567"/>
<line x1="28" y1="557.5" x2="43.2" y2="551.5"/>
<line x1="49.6" y1="561" x2="35.4" y2="567"/>
<line x1="35.4" y1="567" x2="33.7" y2="576"/>
<line x1="33.7" y1="576" x2="28" y2="557.5"/>
<line x1="53.9" y1="578.3" x2="47.5" y2="591.9"/>
<line x1="53.9" y1="578.3" x2="67" y2="569.8"/>
<line x1="200.4" y1="564.1" x2="188.6" y2="569.1"/>
<line x1="200.4" y1="564.1" x2="205" y2="577"/>
<line x1="188.6" y1="569.1" x2="192.6" y2="582.1"/>
<line x1="205" y1="577" x2="192.6" y2="582.1"/>
<line x1="218.9" y1="584.3" x2="205" y2="577"/>
<line x1="218.9" y1="584.3" x2="233.5" y2="590.2"/>
<line x1="245.3" y1="495.4" x2="259.4" y2="497"/>
<line x1="245.3" y1="495.4" x2="253.4" y2="482"/>
<line x1="259.4" y1="497" x2="251.7" y2="510.4"/>
<line x1="89.8" y1="580" x2="82.9" y2="571"/>
<line x1="89.8" y1="580" x2="76" y2="577.8"/>
<line x1="251.7" y1="510.4" x2="245.3" y2="495.4"/>
<line x1="250.8" y1="527.3" x2="251.7" y2="510.4"/>
<line x1="208.8" y1="550.6" x2="200.4" y2="564.1"/>
<line x1="208.8" y1="550.6" x2="203.3" y2="534.7"/>
<line x1="158.6" y1="564.4" x2="158.6" y2="578.6"/>
<line x1="158.6" y1="564.4" x2="147" y2="580.4"/>
<line x1="147" y1="580.4" x2="158.6" y2="578.6"/>
<line x1="147" y1="580.4" x2="141.3" y2="597.3"/>
<line x1="158.6" y1="578.6" x2="169.8" y2="580.7"/>
<line x1="169.8" y1="580.7" x2="157.9" y2="595"/>
<line x1="157.9" y1="595" x2="158.6" y2="578.6"/>
<line x1="157.9" y1="595" x2="141.3" y2="597.3"/>
<line x1="343.6" y1="494" x2="351.9" y2="499.7"/>
<line x1="351.9" y1="499.7" x2="361.7" y2="507"/>
<line x1="465" y1="601.3" x2="473.1" y2="609"/>
<line x1="465" y1="601.3" x2="470" y2="590.6"/>
<line x1="477.1" y1="598.7" x2="470" y2="590.6"/>
<line x1="477.1" y1="598.7" x2="473.1" y2="609"/>
<line x1="361.7" y1="507" x2="373.8" y2="510.8"/>
<line x1="403.7" y1="474.2" x2="406.3" y2="484.2"/>
<line x1="403.7" y1="474.2" x2="418.4" y2="478.2"/>
<line x1="406.3" y1="484.2" x2="418.4" y2="478.2"/>
<line x1="373.8" y1="510.8" x2="374.5" y2="521.7"/>
<line x1="456" y1="493.5" x2="464" y2="503.1"/>
<line x1="456" y1="493.5" x2="470.5" y2="488.7"/>
<line x1="464" y1="503.1" x2="454.3" y2="509"/>
<line x1="330.5" y1="573.3" x2="321.6" y2="579.7"/>
<line x1="330.5" y1="573.3" x2="340.3" y2="567"/>
<line x1="331.6" y1="589.2" x2="321.6" y2="579.7"/>
<line x1="331.6" y1="589.2" x2="330.5" y2="573.3"/>
<line x1="369.5" y1="461.6" x2="367.4" y2="475.9"/>
<line x1="369.5" y1="461.6" x2="383" y2="467.6"/>
<line x1="367.4" y1="475.9" x2="371" y2="482.2"/>
<line x1="416.7" y1="508.7" x2="418.2" y2="517.8"/>
<line x1="416.7" y1="508.7" x2="405.6" y2="515.2"/>
<line x1="418.2" y1="517.8" x2="405.6" y2="515.2"/>
<line x1="476" y1="467.3" x2="468.7" y2="475.1"/>
<line x1="476" y1="467.3" x2="480" y2="478.2"/>
<line x1="468.7" y1="475.1" x2="480" y2="478.2"/>
<line x1="302.6" y1="565.6" x2="298" y2="571.5"/>
<line x1="302.6" y1="565.6" x2="314.2" y2="567.3"/>
<line x1="298" y1="571.5" x2="303.2" y2="579.2"/>
<line x1="506.3" y1="588.8" x2="515.1" y2="588.3"/>
<line x1="506.3" y1="588.8" x2="506" y2="599.5"/>
<line x1="515.1" y1="588.3" x2="515.4" y2="597.8"/>
<line x1="506" y1="599.5" x2="515.4" y2="597.8"/>
<line x1="371" y1="482.2" x2="379.5" y2="496.6"/>
<line x1="383" y1="467.6" x2="389" y2="478.5"/>
<line x1="531.3" y1="466.7" x2="529.5" y2="476.4"/>
<line x1="531.3" y1="466.7" x2="527.6" y2="487.3"/>
<line x1="529.5" y1="476.4" x2="527.6" y2="487.3"/>
<line x1="527.6" y1="487.3" x2="519.6" y2="495.8"/>
<line x1="519.6" y1="495.8" x2="530.5" y2="500"/>
<line x1="530.5" y1="500" x2="536" y2="505.8"/>
<line x1="536" y1="505.8" x2="531.3" y2="513.6"/>
<line x1="520" y1="508.5" x2="531.3" y2="513.6"/>
<line x1="520" y1="508.5" x2="519.6" y2="495.8"/>
<line x1="499.6" y1="512" x2="497.8" y2="521.2"/>
<line x1="499.6" y1="512" x2="509" y2="517.8"/>
<line x1="509" y1="517.8" x2="510.6" y2="528.7"/>
<line x1="497.8" y1="521.2" x2="509" y2="517.8"/>
<line x1="510.6" y1="528.7" x2="497.8" y2="521.2"/>
<line x1="498.5" y1="538.8" x2="498.5" y2="549.4"/>
<line x1="498.5" y1="538.8" x2="507.7" y2="544.5"/>
<line x1="507.7" y1="544.5" x2="498.5" y2="549.4"/>
<line x1="508" y1="556.6" x2="498.5" y2="549.4"/>
<line x1="508" y1="556.6" x2="518.4" y2="562.7"/>
<line x1="518.4" y1="562.7" x2="504.7" y2="568.4"/>
<line x1="504.7" y1="568.4" x2="502" y2="578"/>
<line x1="504.7" y1="568.4" x2="508" y2="556.6"/>
<line x1="463.6" y1="556.1" x2="455.5" y2="559.7"/>
<line x1="463.6" y1="556.1" x2="455.8" y2="548.6"/>
<line x1="455.8" y1="548.6" x2="455.5" y2="559.7"/>
<line x1="426.8" y1="536.4" x2="441" y2="541.6"/>
<line x1="426.8" y1="536.4" x2="412" y2="530.4"/>
<line x1="450.8" y1="536.8" x2="441" y2="541.6"/>
<line x1="450.8" y1="536.8" x2="455.8" y2="548.6"/>
<line x1="411.6" y1="544.2" x2="403.3" y2="537.3"/>
<line x1="411.6" y1="544.2" x2="412" y2="530.4"/>
<line x1="370" y1="549.4" x2="370.6" y2="556.3"/>
<line x1="370" y1="549.4" x2="378.3" y2="538.2"/>
<line x1="407.8" y1="558.4" x2="397.5" y2="563.5"/>
<line x1="407.8" y1="558.4" x2="398.2" y2="550.6"/>
<line x1="341.5" y1="557.2" x2="340.3" y2="567"/>
<line x1="341.5" y1="557.2" x2="353.2" y2="561.3"/>
<line x1="288" y1="567.3" x2="298" y2="571.5"/>
<line x1="288" y1="567.3" x2="302.6" y2="565.6"/>
<line x1="314.2" y1="567.3" x2="321.6" y2="579.7"/>
<line x1="303.2" y1="579.2" x2="295.7" y2="588.7"/>
<line x1="288.5" y1="582.3" x2="295.7" y2="588.7"/>
<line x1="288.5" y1="582.3" x2="298" y2="571.5"/>
<line x1="313.3" y1="590.9" x2="321.6" y2="579.7"/>
<line x1="313.3" y1="590.9" x2="303.2" y2="579.2"/>
<line x1="310.1" y1="608.5" x2="315.9" y2="616.5"/>
<line x1="310.1" y1="608.5" x2="302.1" y2="616.3"/>
<line x1="315.9" y1="616.5" x2="309.5" y2="623.7"/>
<line x1="309.5" y1="623.7" x2="302.1" y2="616.3"/>
<line x1="402.1" y1="574.8" x2="397.5" y2="563.5"/>
<line x1="402.1" y1="574.8" x2="407.8" y2="558.4"/>
<line x1="502" y1="578" x2="506.3" y2="588.8"/>
<line x1="389" y1="478.5" x2="389.7" y2="488.3"/>
<line x1="418.4" y1="478.2" x2="417.9" y2="492.8"/>
<line x1="440.3" y1="485.1" x2="437.2" y2="495.8"/>
<line x1="440.3" y1="485.1" x2="430.8" y2="499.7"/>
<line x1="417.9" y1="492.8" x2="406.3" y2="484.2"/>
<line x1="437.2" y1="495.8" x2="430.8" y2="499.7"/>
<line x1="437.2" y1="495.8" x2="442.9" y2="503.9"/>
<line x1="430.8" y1="499.7" x2="442.9" y2="503.9"/>
<line x1="402" y1="498.7" x2="406.3" y2="484.2"/>
<line x1="402" y1="498.7" x2="389.7" y2="488.3"/>
<line x1="442.9" y1="503.9" x2="437.7" y2="511.8"/>
<line x1="437.7" y1="511.8" x2="430.8" y2="499.7"/>
<line x1="454.3" y1="509" x2="442.9" y2="503.9"/>
<line x1="480" y1="478.2" x2="486.4" y2="486.4"/>
<line x1="486.4" y1="486.4" x2="481.8" y2="493.1"/>
<line x1="470.5" y1="488.7" x2="481.8" y2="493.1"/>
<line x1="470.5" y1="488.7" x2="468.7" y2="475.1"/>
<line x1="389.8" y1="516" x2="387.1" y2="505.8"/>
<line x1="389.8" y1="516" x2="393.5" y2="529.9"/>
<line x1="374.5" y1="521.7" x2="389.8" y2="516"/>
<line x1="450.8" y1="522.1" x2="454.3" y2="509"/>
<line x1="450.8" y1="522.1" x2="450.8" y2="536.8"/>
<line x1="465.4" y1="517.4" x2="454.3" y2="509"/>
<line x1="465.4" y1="517.4" x2="464" y2="503.1"/>
<line x1="353.2" y1="517.8" x2="343.7" y2="525"/>
<line x1="353.2" y1="517.8" x2="355.3" y2="529.9"/>
<line x1="343.7" y1="525" x2="355.3" y2="529.9"/>
<line x1="356.5" y1="544.9" x2="370" y2="549.4"/>
<line x1="356.5" y1="544.9" x2="355.3" y2="529.9"/>
<line x1="370.6" y1="556.3" x2="364" y2="567.9"/>
<line x1="353.2" y1="561.3" x2="364" y2="567.9"/>
<line x1="299.2" y1="628" x2="309.5" y2="623.7"/>
<line x1="299.2" y1="628" x2="302.1" y2="616.3"/>
<line x1="432.9" y1="607.7" x2="435.8" y2="617.3"/>
<line x1="432.9" y1="607.7" x2="443.6" y2="610.4"/>
<line x1="453.6" y1="605.9" x2="443.6" y2="610.4"/>
<line x1="453.6" y1="605.9" x2="465" y2="601.3"/>
<line x1="443.6" y1="610.4" x2="435.8" y2="617.3"/>
<line x1="480" y1="588" x2="470" y2="590.6"/>
<line x1="480" y1="588" x2="477.1" y2="598.7"/>
<line x1="379.5" y1="496.6" x2="387.1" y2="505.8"/>
<line x1="379.5" y1="496.6" x2="389.7" y2="488.3"/>
<line x1="393.5" y1="529.9" x2="393.5" y2="540.7"/>
<line x1="393.5" y1="529.9" x2="403.3" y2="537.3"/>
<line x1="393.5" y1="540.7" x2="403.3" y2="537.3"/>
<line x1="412" y1="530.4" x2="403.3" y2="537.3"/>
<line x1="378.3" y1="538.2" x2="386.2" y2="551.1"/>
<line x1="386.2" y1="551.1" x2="398.2" y2="550.6"/>
<line x1="386.2" y1="551.1" x2="393.5" y2="540.7"/>
<line x1="398.2" y1="550.6" x2="393.5" y2="540.7"/>
<line x1="497" y1="607" x2="490.4" y2="613.4"/>
<line x1="497" y1="607" x2="506" y2="599.5"/>
<line x1="490.4" y1="613.4" x2="473.1" y2="609"/>
<line x1="70.8" y1="646.7" x2="74.3" y2="660"/>
<line x1="74.3" y1="660" x2="86.4" y2="663.8"/>
<line x1="59.6" y1="722.6" x2="47" y2="718"/>
<line x1="59.6" y1="722.6" x2="70.3" y2="711.9"/>
<line x1="118.2" y1="735.2" x2="109" y2="741.6"/>
<line x1="118.2" y1="735.2" x2="123.3" y2="748.9"/>
<line x1="123.3" y1="748.9" x2="114.7" y2="754.1"/>
<line x1="258.6" y1="682.8" x2="250.3" y2="691.6"/>
<line x1="258.6" y1="682.8" x2="244.6" y2="699"/>
<line x1="240.4" y1="735.2" x2="230.1" y2="741.3"/>
<line x1="240.4" y1="735.2" x2="252.5" y2="739.9"/>
<line x1="252.5" y1="739.9" x2="250.5" y2="726.6"/>
<line x1="193.5" y1="746.5" x2="186.9" y2="751.1"/>
<line x1="193.5" y1="746.5" x2="203" y2="742.5"/>
<line x1="186.9" y1="751.1" x2="198.7" y2="758.4"/>
<line x1="86.4" y1="663.8" x2="77.5" y2="674.3"/>
<line x1="77.5" y1="674.3" x2="90.2" y2="677.4"/>
<line x1="77.5" y1="674.3" x2="66.2" y2="681.4"/>
<line x1="13.5" y1="684.2" x2="15.2" y2="673"/>
<line x1="13.5" y1="684.2" x2="25.9" y2="679.9"/>
<line x1="162.5" y1="686" x2="157.4" y2="698.9"/>
<line x1="162.5" y1="686" x2="166.9" y2="672.7"/>
<line x1="157.4" y1="698.9" x2="150.4" y2="711.4"/>
<line x1="119.4" y1="696.9" x2="111.1" y2="707.4"/>
<line x1="119.4" y1="696.9" x2="138" y2="704.8"/>
<line x1="233.2" y1="646.7" x2="223.7" y2="652.3"/>
<line x1="233.2" y1="646.7" x2="238.2" y2="656.9"/>
<line x1="223.7" y1="652.3" x2="228.4" y2="663.2"/>
<line x1="238.2" y1="656.9" x2="228.4" y2="663.2"/>
<line x1="220.2" y1="674.7" x2="230.6" y2="677"/>
<line x1="220.2" y1="674.7" x2="218.5" y2="686.5"/>
<line x1="230.6" y1="677" x2="229.2" y2="688.5"/>
<line x1="208.2" y1="679.4" x2="218.5" y2="686.5"/>
<line x1="208.2" y1="679.4" x2="220.2" y2="674.7"/>
<line x1="218.5" y1="686.5" x2="229.2" y2="688.5"/>
<line x1="206.8" y1="693.2" x2="218.5" y2="686.5"/>
<line x1="206.8" y1="693.2" x2="198.7" y2="704"/>
<line x1="111.1" y1="707.4" x2="95" y2="697.8"/>
<line x1="138" y1="704.8" x2="140.6" y2="715.2"/>
<line x1="138" y1="704.8" x2="150.4" y2="711.4"/>
<line x1="150.4" y1="711.4" x2="140.6" y2="715.2"/>
<line x1="150.4" y1="711.4" x2="161.7" y2="719.2"/>
<line x1="130.9" y1="718" x2="140.6" y2="715.2"/>
<line x1="130.9" y1="718" x2="143.5" y2="725.6"/>
<line x1="161.7" y1="719.2" x2="173.8" y2="727.5"/>
<line x1="173.8" y1="727.5" x2="191.2" y2="715.2"/>
<line x1="109" y1="741.6" x2="108.1" y2="747.7"/>
<line x1="108.1" y1="747.7" x2="114.7" y2="754.1"/>
<line x1="114.7" y1="754.1" x2="110.7" y2="759"/>
<line x1="110.7" y1="759" x2="99.5" y2="759.8"/>
<line x1="128" y1="767.3" x2="115" y2="773.3"/>
<line x1="128" y1="767.3" x2="126.8" y2="784.2"/>
<line x1="115" y1="773.3" x2="110.7" y2="759"/>
<line x1="126.8" y1="784.2" x2="115" y2="773.3"/>
<line x1="175.1" y1="767.3" x2="184.6" y2="775.9"/>
<line x1="175.1" y1="767.3" x2="179.5" y2="784.5"/>
<line x1="184.6" y1="775.9" x2="179.5" y2="784.5"/>
<line x1="184.6" y1="775.9" x2="195.9" y2="769.9"/>
<line x1="179.5" y1="784.5" x2="173.8" y2="792"/>
<line x1="173.8" y1="792" x2="184.6" y2="775.9"/>
<line x1="198.7" y1="704" x2="191.2" y2="715.2"/>
<line x1="220.6" y1="727.3" x2="212.8" y2="738.5"/>
<line x1="220.6" y1="727.3" x2="230.1" y2="741.3"/>
<line x1="250.5" y1="726.6" x2="240.4" y2="735.2"/>
<line x1="212.8" y1="738.5" x2="203" y2="742.5"/>
<line x1="90.2" y1="677.4" x2="98.6" y2="684.9"/>
<line x1="66.2" y1="681.4" x2="78.9" y2="690.1"/>
<line x1="143.5" y1="725.6" x2="140.6" y2="715.2"/>
<line x1="78.9" y1="690.1" x2="73.1" y2="695.9"/>
<line x1="78.9" y1="690.1" x2="81.5" y2="704"/>
<line x1="73.1" y1="695.9" x2="81.5" y2="704"/>
<line x1="61.7" y1="700.8" x2="73.1" y2="695.9"/>
<line x1="61.7" y1="700.8" x2="70.3" y2="711.9"/>
<line x1="81.5" y1="704" x2="70.3" y2="711.9"/>
<line x1="95" y1="697.8" x2="98.6" y2="684.9"/>
<line x1="95" y1="697.8" x2="81.5" y2="704"/>
<line x1="29.4" y1="660" x2="34.2" y2="669.5"/>
<line x1="29.4" y1="660" x2="17.8" y2="664"/>
<line x1="34.2" y1="669.5" x2="25.9" y2="679.9"/>
<line x1="15.2" y1="673" x2="17.8" y2="664"/>
<line x1="28.5" y1="689.1" x2="32.8" y2="696.4"/>
<line x1="28.5" y1="689.1" x2="25.9" y2="679.9"/>
<line x1="32.8" y1="696.4" x2="25.9" y2="679.9"/>
<line x1="43.7" y1="753.2" x2="42.3" y2="769.9"/>
<line x1="43.7" y1="753.2" x2="27.6" y2="760"/>
<line x1="27.6" y1="760" x2="28.2" y2="774.5"/>
<line x1="42.3" y1="769.9" x2="28.2" y2="774.5"/>
<line x1="198.7" y1="758.4" x2="195.9" y2="769.9"/>
<line x1="198.7" y1="758.4" x2="193.5" y2="746.5"/>
<line x1="210.7" y1="763.5" x2="214.2" y2="772.1"/>
<line x1="210.7" y1="763.5" x2="222.3" y2="765.5"/>
<line x1="222.3" y1="765.5" x2="214.2" y2="772.1"/>
<line x1="214.2" y1="772.1" x2="219.4" y2="778"/>
<line x1="219.4" y1="778" x2="222.3" y2="765.5"/>
<line x1="203.3" y1="780.7" x2="207.6" y2="786.3"/>
<line x1="203.3" y1="780.7" x2="195.9" y2="769.9"/>
<line x1="207.6" y1="786.3" x2="219.4" y2="778"/>
<line x1="25.9" y1="679.9" x2="15.2" y2="673"/>
<line x1="84.6" y1="738.2" x2="79.4" y2="746.8"/>
<line x1="84.6" y1="738.2" x2="96.9" y2="747.3"/>
<line x1="79.4" y1="746.8" x2="68.2" y2="757"/>
<line x1="250.3" y1="691.6" x2="244.6" y2="699"/>
<line x1="244.6" y1="699" x2="238.7" y2="707.6"/>
<line x1="175" y1="646.7" x2="171.2" y2="659.7"/>
<line x1="171.2" y1="659.7" x2="166.9" y2="672.7"/>
<line x1="63" y1="749.8" x2="68.2" y2="757"/>
<line x1="63" y1="749.8" x2="79.4" y2="746.8"/>
<line x1="96.9" y1="747.3" x2="108.1" y2="747.7"/>
<line x1="96.9" y1="747.3" x2="99.5" y2="759.8"/>
<line x1="238.7" y1="707.6" x2="234.9" y2="714.5"/>
<line x1="234.9" y1="714.5" x2="244.6" y2="699"/>
<line x1="332" y1="670.9" x2="333.4" y2="686.3"/>
<line x1="395.2" y1="644.5" x2="391.3" y2="650.5"/>
<line x1="395.2" y1="644.5" x2="400.8" y2="656.6"/>
<line x1="391.3" y1="650.5" x2="385.7" y2="656.2"/>
<line x1="385.7" y1="656.2" x2="392.6" y2="664"/>
<line x1="400.8" y1="656.6" x2="392.6" y2="664"/>
<line x1="400.8" y1="656.6" x2="391.3" y2="650.5"/>
<line x1="391.8" y1="681.3" x2="393.5" y2="692"/>
<line x1="391.8" y1="681.3" x2="403.9" y2="692"/>
<line x1="432.4" y1="666.6" x2="423.7" y2="674.7"/>
<line x1="432.4" y1="666.6" x2="439.3" y2="677"/>
<line x1="423.7" y1="674.7" x2="430.1" y2="684.6"/>
<line x1="439.3" y1="677" x2="430.1" y2="684.6"/>
<line x1="416.8" y1="688.5" x2="403.9" y2="692"/>
<line x1="416.8" y1="688.5" x2="430.1" y2="684.6"/>
<line x1="403.9" y1="692" x2="393.5" y2="692"/>
<line x1="454.8" y1="657.1" x2="464.5" y2="663"/>
<line x1="454.8" y1="657.1" x2="449.6" y2="668.2"/>
<line x1="449.6" y1="668.2" x2="459.2" y2="674.4"/>
<line x1="459.2" y1="674.4" x2="464.5" y2="663"/>
<line x1="483.5" y1="667.3" x2="472.3" y2="675.2"/>
<line x1="483.5" y1="667.3" x2="464.5" y2="663"/>
<line x1="472.3" y1="675.2" x2="459.2" y2="674.4"/>
<line x1="478.3" y1="689.4" x2="485.2" y2="702.4"/>
<line x1="478.3" y1="689.4" x2="472.3" y2="675.2"/>
<line x1="518.4" y1="657.1" x2="508.2" y2="660.4"/>
<line x1="518.4" y1="657.1" x2="521.8" y2="669.2"/>
<line x1="508.2" y1="660.4" x2="511.6" y2="672.7"/>
<line x1="521.8" y1="669.2" x2="511.6" y2="672.7"/>
<line x1="506.5" y1="687.2" x2="511.6" y2="672.7"/>
<line x1="506.5" y1="687.2" x2="500.8" y2="701.9"/>
<line x1="306.1" y1="706.7" x2="313.3" y2="714.3"/>
<line x1="306.1" y1="706.7" x2="299.7" y2="716.2"/>
<line x1="319.9" y1="707.4" x2="324.2" y2="713.1"/>
<line x1="319.9" y1="707.4" x2="313.3" y2="714.3"/>
<line x1="299.7" y1="716.2" x2="290.9" y2="708.5"/>
<line x1="313.3" y1="714.3" x2="313" y2="720.9"/>
<line x1="324.2" y1="713.1" x2="326.8" y2="719.2"/>
<line x1="313" y1="720.9" x2="312.5" y2="730.9"/>
<line x1="326.8" y1="719.2" x2="323.4" y2="724.4"/>
<line x1="323.4" y1="724.4" x2="322.5" y2="730.9"/>
<line x1="312.5" y1="730.9" x2="322.5" y2="730.9"/>
<line x1="322.5" y1="730.9" x2="324.7" y2="739.6"/>
<line x1="324.7" y1="739.6" x2="312.7" y2="743"/>
<line x1="312.7" y1="743" x2="312.5" y2="730.9"/>
<line x1="319.6" y1="755" x2="316.5" y2="764.7"/>
<line x1="319.6" y1="755" x2="306.1" y2="757"/>
<line x1="306.1" y1="757" x2="316.5" y2="764.7"/>
<line x1="375.7" y1="710.2" x2="368.3" y2="719.2"/>
<line x1="375.7" y1="710.2" x2="388.7" y2="714"/>
<line x1="388.7" y1="714" x2="387.5" y2="698.5"/>
<line x1="422.9" y1="703.1" x2="416.8" y2="688.5"/>
<line x1="422.9" y1="703.1" x2="430.1" y2="684.6"/>
<line x1="456.6" y1="722.8" x2="465.9" y2="733.9"/>
<line x1="485.2" y1="702.4" x2="483.8" y2="715.2"/>
<line x1="500.8" y1="701.9" x2="485.2" y2="702.4"/>
<line x1="505.1" y1="727.8" x2="513.4" y2="719.7"/>
<line x1="505.1" y1="727.8" x2="512.9" y2="737.3"/>
<line x1="513.4" y1="719.7" x2="520.3" y2="728.7"/>
<line x1="520.3" y1="728.7" x2="512.9" y2="737.3"/>
<line x1="465.9" y1="733.9" x2="478.3" y2="729"/>
<line x1="451.4" y1="767.3" x2="452.6" y2="776.8"/>
<line x1="451.4" y1="767.3" x2="441.5" y2="775.4"/>
<line x1="441.5" y1="775.4" x2="452.6" y2="776.8"/>
<line x1="452.6" y1="776.8" x2="450" y2="785.4"/>
<line x1="450" y1="785.4" x2="452.2" y2="794.6"/>
<line x1="452.2" y1="794.6" x2="464.5" y2="797.5"/>
<line x1="464.5" y1="789.2" x2="466.2" y2="782.8"/>
<line x1="464.5" y1="789.2" x2="464.5" y2="797.5"/>
<line x1="516.7" y1="791.8" x2="527" y2="782.3"/>
<line x1="527" y1="782.3" x2="539.1" y2="778.8"/>
<line x1="333.4" y1="686.3" x2="333.2" y2="703.1"/>
<line x1="333.2" y1="703.1" x2="324.2" y2="713.1"/>
<line x1="333.2" y1="703.1" x2="319.9" y2="707.4"/>
<line x1="344.1" y1="714.9" x2="344.9" y2="725.7"/>
<line x1="344.1" y1="714.9" x2="333.2" y2="703.1"/>
<line x1="334.9" y1="728.3" x2="344.9" y2="725.7"/>
<line x1="334.9" y1="728.3" x2="323.4" y2="724.4"/>
<line x1="344.9" y1="725.7" x2="354.8" y2="728.7"/>
<line x1="354.8" y1="728.7" x2="360.5" y2="738.2"/>
<line x1="346.3" y1="738.2" x2="344.9" y2="725.7"/>
<line x1="346.3" y1="738.2" x2="354.8" y2="728.7"/>
<line x1="360.5" y1="738.2" x2="358.4" y2="745.1"/>
<line x1="358.4" y1="745.1" x2="353.1" y2="749.9"/>
<line x1="353.1" y1="749.9" x2="359.6" y2="757.9"/>
<line x1="368" y1="751" x2="359.6" y2="757.9"/>
<line x1="368" y1="751" x2="358.4" y2="745.1"/>
<line x1="363.4" y1="775.4" x2="373.6" y2="785.9"/>
<line x1="363.4" y1="775.4" x2="359.6" y2="757.9"/>
<line x1="398.7" y1="775" x2="410.8" y2="785.4"/>
<line x1="428.9" y1="779.9" x2="441.5" y2="775.4"/>
<line x1="428.9" y1="779.9" x2="437.5" y2="791.5"/>
<line x1="373.6" y1="785.9" x2="379.7" y2="791.5"/>
<line x1="410.8" y1="785.4" x2="428.9" y2="779.9"/>
<line x1="437.5" y1="791.5" x2="450" y2="785.4"/>
<line x1="489.2" y1="767.3" x2="480.6" y2="778.5"/>
<line x1="489.2" y1="767.3" x2="493" y2="782.3"/>
<line x1="480.6" y1="778.5" x2="493" y2="782.3"/>
<line x1="298" y1="697.7" x2="306.1" y2="706.7"/>
<line x1="298" y1="697.7" x2="290.9" y2="708.5"/>
<line x1="466.2" y1="782.8" x2="464.5" y2="797.5"/>
<line x1="393.5" y1="692" x2="387.5" y2="698.5"/>
<line x1="483.8" y1="715.2" x2="491.8" y2="726.6"/>
<line x1="478.3" y1="729" x2="491.8" y2="726.6"/>
<line x1="491.8" y1="726.6" x2="505.1" y2="727.8"/>
<line x1="368.3" y1="719.2" x2="368.1" y2="724.7"/>
<line x1="368.1" y1="724.7" x2="354.8" y2="728.7"/>
<line x1="458.3" y1="746.5" x2="465.9" y2="733.9"/>
<line x1="458.3" y1="746.5" x2="451.4" y2="767.3"/>
<line x1="338.9" y1="769.9" x2="332" y2="781.6"/>
<line x1="310.8" y1="777.6" x2="316.5" y2="764.7"/>
<line x1="310.8" y1="777.6" x2="304.7" y2="791.5"/>
<line x1="332" y1="781.6" x2="323.9" y2="794"/>
<line x1="304.7" y1="791.5" x2="298" y2="805.6"/>
<line x1="323.9" y1="794" x2="315.9" y2="806.1"/>
<line x1="298" y1="805.6" x2="315.9" y2="806.1"/>
<line x1="530.6" y1="767.3" x2="539.1" y2="778.8"/>
<line x1="530.6" y1="767.3" x2="527" y2="782.3"/>
<line x1="249.5" y1="26.5" x2="240.2" y2="40.6"/>
<line x1="240.2" y1="40.6" x2="231" y2="55.9"/>
<line x1="231" y1="55.9" x2="221.7" y2="70.2"/>
<line x1="228.6" y1="146.7" x2="235.3" y2="131.4"/>
<line x1="221.7" y1="162.8" x2="228.6" y2="146.7"/>
<line x1="381" y1="174.5" x2="393.2" y2="164.7"/>
<line x1="371.5" y1="186.1" x2="381" y2="174.5"/>
<line x1="443.5" y1="178.8" x2="438.1" y2="161.4"/>
<line x1="151.3" y1="611.8" x2="141.3" y2="597.3"/>
<line x1="151.3" y1="611.8" x2="157.9" y2="595"/>
<line x1="157.9" y1="595" x2="147" y2="580.4"/>
<line x1="157.9" y1="595" x2="169.8" y2="580.7"/>
<line x1="86.4" y1="715.7" x2="70.3" y2="711.9"/>
</g>
<g stroke="#f0506a" stroke-width="0.6">
<line x1="221.7" y1="97.7" x2="238.7" y2="102"/>
<line x1="225.5" y1="113.6" x2="238.7" y2="102"/>
<line x1="168.4" y1="149.1" x2="165.2" y2="131.6"/>
<line x1="168.4" y1="149.1" x2="188.2" y2="137.4"/>
<line x1="188.2" y1="137.4" x2="199.6" y2="131.4"/>
<line x1="484.1" y1="40.4" x2="489.3" y2="56.4"/>
<line x1="379.6" y1="72.8" x2="396" y2="78.7"/>
<line x1="412" y1="75" x2="422.2" y2="88.3"/>
<line x1="475.9" y1="163.8" x2="467" y2="176.2"/>
<line x1="60.1" y1="338.3" x2="55.3" y2="353.4"/>
<line x1="201.4" y1="348.7" x2="213.2" y2="338.7"/>
<line x1="298.8" y1="281.9" x2="306.1" y2="293.2"/>
<line x1="298.8" y1="281.9" x2="292.8" y2="296.6"/>
<line x1="29" y1="482.5" x2="39.4" y2="496.6"/>
<line x1="245.3" y1="495.4" x2="251.7" y2="510.4"/>
<line x1="259.4" y1="497" x2="251.7" y2="510.4"/>
<line x1="198.1" y1="519.5" x2="203.3" y2="534.7"/>
<line x1="233.5" y1="590.2" x2="247" y2="583.8"/>
<line x1="233.5" y1="590.2" x2="245.3" y2="599.9"/>
<line x1="369.5" y1="461.6" x2="383" y2="467.6"/>
<line x1="369.5" y1="461.6" x2="371" y2="482.2"/>
<line x1="402" y1="498.7" x2="405.2" y2="514.2"/>
<line x1="389.8" y1="516" x2="405.6" y2="515.2"/>
<line x1="405.6" y1="515.2" x2="393.5" y2="529.9"/>
<line x1="398.2" y1="550.6" x2="407.8" y2="558.4"/>
<line x1="341.5" y1="557.2" x2="353.2" y2="561.3"/>
<line x1="340.3" y1="567" x2="353.2" y2="561.3"/>
<line x1="330.5" y1="573.3" x2="340.3" y2="567"/>
<line x1="313.3" y1="590.9" x2="310.1" y2="608.5"/>
<line x1="74.3" y1="660" x2="86.4" y2="663.8"/>
<line x1="74.3" y1="660" x2="77.5" y2="674.3"/>
<line x1="15.2" y1="673" x2="13.5" y2="684.2"/>
<line x1="32.8" y1="696.4" x2="59.6" y2="722.6"/>
<line x1="61.7" y1="700.8" x2="70.3" y2="711.9"/>
<line x1="81.5" y1="704" x2="70.3" y2="711.9"/>
<line x1="70.3" y1="711.9" x2="86.4" y2="715.7"/>
<line x1="171.2" y1="659.7" x2="166.9" y2="672.7"/>
<line x1="250.3" y1="691.6" x2="258.6" y2="682.8"/>
<line x1="138" y1="704.8" x2="150.4" y2="711.4"/>
<line x1="150.4" y1="711.4" x2="143.5" y2="725.6"/>
<line x1="212.8" y1="738.5" x2="230.1" y2="741.3"/>
<line x1="332" y1="670.9" x2="333.4" y2="686.3"/>
<line x1="387.5" y1="698.5" x2="375.7" y2="710.2"/>
<line x1="387.5" y1="698.5" x2="388.7" y2="714"/>
<line x1="310.8" y1="777.6" x2="304.7" y2="791.5"/>
</g>
<g>
<circle cx="32.3" cy="46.7" r="2.2" fill="#e8174f" stroke="#a71038" stroke-width="0.5"/>
<circle cx="47.1" cy="50" r="2.2" fill="#e8174f" stroke="#a71038" stroke-width="0.5"/>
<circle cx="23.9" cy="58.9" r="2.2" fill="#e8174f" stroke="#a71038" stroke-width="0.5"/>
<circle cx="51.1" cy="64.8" r="2.2" fill="#e8174f" stroke="#a71038" stroke-width="0.5"/>
<circle cx="28.8" cy="70.9" r="2.2" fill="#e8174f" stroke="#a71038" stroke-width="0.5"/>
<circle cx="42.2" cy="72.9" r="2.2" fill="#e8174f" stroke="#a71038" stroke-width="0.5"/>
<circle cx="47.1" cy="83.6" r="0.8" fill="#f6b611" stroke="#b1830c" stroke-width="0.3"/>
<circle cx="33.6" cy="94.6" r="0.8" fill="#f6b611" stroke="#b1830c" stroke-width="0.3"/>
<circle cx="39.4" cy="136.7" r="1.7" fill="#f6b611" stroke="#b1830c" stroke-width="0.3"/>
<circle cx="45.8" cy="147.2" r="1.7" fill="#f6b611" stroke="#b1830c" stroke-width="0.3"/>
<circle cx="30.5" cy="105.2" r="1.7" fill="#0a7218" stroke="#075211" stroke-width="0.3"/>
<circle cx="49.1" cy="114.2" r="1.7" fill="#0a7218" stroke="#075211" stroke-width="0.3"/>
<circle cx="88" cy="109.6" r="1.7" fill="#0a7218" stroke="#075211" stroke-width="0.3"/>
<circle cx="101" cy="92.8" r="1.1" fill="#0a5a18" stroke="#074011" stroke-width="0.3"/>
<circle cx="71" cy="119" r="1.7" fill="#0a7218" stroke="#075211" stroke-width="0.3"/>
<circle cx="32.3" cy="124.2" r="1.1" fill="#0a5a18" stroke="#074011" stroke-width="0.3"/>
<circle cx="90.8" cy="129.8" r="1.2" fill="#0a5a18" stroke="#074011" stroke-width="0.3"/>
<circle cx="26" cy="140.8" r="1.8" fill="#0a7218" stroke="#075211" stroke-width="0.5"/>
<circle cx="21.9" cy="149.4" r="1.8" fill="#0a7218" stroke="#075211" stroke-width="0.5"/>
<circle cx="43.9" cy="154.6" r="2" fill="#0b8a1c" stroke="#076314" stroke-width="0.5"/>
<circle cx="27.7" cy="158.9" r="1.8" fill="#0a7218" stroke="#075211" stroke-width="0.5"/>
<circle cx="81.4" cy="143.1" r="1.1" fill="#0a5a18" stroke="#074011" stroke-width="0.3"/>
<circle cx="58.8" cy="164.7" r="1.2" fill="#0a5a18" stroke="#074011" stroke-width="0.3"/>
<circle cx="72.7" cy="177.3" r="2.5" fill="#0b8a1c" stroke="#076314" stroke-width="0.5"/>
<circle cx="86.3" cy="189.3" r="1.8" fill="#0a7218" stroke="#075211" stroke-width="0.5"/>
<circle cx="68.4" cy="196.4" r="1.4" fill="#0a7218" stroke="#075211" stroke-width="0.3"/>
<circle cx="124.8" cy="27.9" r="1.1" fill="#62e29c" stroke="#46a270" stroke-width="0.3"/>
<circle cx="108.9" cy="36.4" r="1.1" fill="#62e29c" stroke="#46a270" stroke-width="0.3"/>
<circle cx="126.2" cy="48.2" r="1.1" fill="#62e29c" stroke="#46a270" stroke-width="0.3"/>
<circle cx="131.8" cy="57.3" r="1.8" fill="#62e29c" stroke="#46a270" stroke-width="0.5"/>
<circle cx="117.1" cy="63.7" r="1.1" fill="#62e29c" stroke="#46a270" stroke-width="0.3"/>
<circle cx="126.7" cy="75" r="3.5" fill="#62e29c" stroke="#46a270" stroke-width="0.5"/>
<circle cx="118.4" cy="80.8" r="1.1" fill="#62e29c" stroke="#46a270" stroke-width="0.3"/>
<circle cx="144.9" cy="51.9" r="1.1" fill="#62e29c" stroke="#46a270" stroke-width="0.3"/>
<circle cx="157.5" cy="60.9" r="2.8" fill="#62e29c" stroke="#46a270" stroke-width="0.5"/>
<circle cx="150.9" cy="66.6" r="2.2" fill="#62e29c" stroke="#46a270" stroke-width="0.5"/>
<circle cx="139.5" cy="85.8" r="1.8" fill="#62e29c" stroke="#46a270" stroke-width="0.5"/>
<circle cx="152.9" cy="91" r="2.2" fill="#62e29c" stroke="#46a270" stroke-width="0.5"/>
<circle cx="100.1" cy="152.5" r="2.2" fill="#62e29c" stroke="#46a270" stroke-width="0.5"/>
<circle cx="78.5" cy="158.5" r="1.8" fill="#62e29c" stroke="#46a270" stroke-width="0.5"/>
<circle cx="89.1" cy="167.3" r="1.4" fill="#62e29c" stroke="#46a270" stroke-width="0.3"/>
<circle cx="90.5" cy="174.2" r="1.8" fill="#62e29c" stroke="#46a270" stroke-width="0.5"/>
<circle cx="117.7" cy="158.2" r="1.1" fill="#62e29c" stroke="#46a270" stroke-width="0.3"/>
<circle cx="125.7" cy="145.8" r="1.8" fill="#62e29c" stroke="#46a270" stroke-width="0.5"/>
<circle cx="126.6" cy="169.7" r="1.1" fill="#62e29c" stroke="#46a270" stroke-width="0.3"/>
<circle cx="138.6" cy="160.8" r="1.1" fill="#62e29c" stroke="#46a270" stroke-width="0.3"/>
<circle cx="159.9" cy="42.6" r="1.2" fill="#0f3f7d" stroke="#0a2d5a" stroke-width="0.3"/>
<circle cx="166.5" cy="53.2" r="1.1" fill="#0f3f7d" stroke="#0a2d5a" stroke-width="0.3"/>
<circle cx="147.6" cy="72.4" r="1.7" fill="#0f3f7d" stroke="#0a2d5a" stroke-width="0.3"/>
<circle cx="154.7" cy="79.9" r="1.7" fill="#0f3f7d" stroke="#0a2d5a" stroke-width="0.3"/>
<circle cx="148.8" cy="130.2" r="1.8" fill="#0f3f7d" stroke="#0a2d5a" stroke-width="0.5"/>
<circle cx="137.5" cy="139.8" r="1.7" fill="#0f3f7d" stroke="#0a2d5a" stroke-width="0.3"/>
<circle cx="160.4" cy="141.5" r="1.7" fill="#0f3f7d" stroke="#0a2d5a" stroke-width="0.3"/>
<circle cx="155.8" cy="153.4" r="1.4" fill="#0f3f7d" stroke="#0a2d5a" stroke-width="0.3"/>
<circle cx="197" cy="36.6" r="1.2" fill="#0a5a18" stroke="#074011" stroke-width="0.3"/>
<circle cx="185.6" cy="52.1" r="1.8" fill="#0a7218" stroke="#075211" stroke-width="0.5"/>
<circle cx="183.6" cy="60.9" r="3.5" fill="#0b8a1c" stroke="#076314" stroke-width="0.5"/>
<circle cx="179.6" cy="71.1" r="2.8" fill="#0b8a1c" stroke="#076314" stroke-width="0.5"/>
<circle cx="171.4" cy="76.5" r="2.8" fill="#0b8a1c" stroke="#076314" stroke-width="0.5"/>
<circle cx="198.4" cy="79.5" r="1.8" fill="#0a7218" stroke="#075211" stroke-width="0.5"/>
<circle cx="202.4" cy="54.8" r="2" fill="#0b8a1c" stroke="#076314" stroke-width="0.5"/>
<circle cx="219.8" cy="50.4" r="1.2" fill="#0a5a18" stroke="#074011" stroke-width="0.3"/>
<circle cx="203.9" cy="65.3" r="1.8" fill="#0a7218" stroke="#075211" stroke-width="0.5"/>
<circle cx="201.6" cy="72.5" r="1.8" fill="#0a7218" stroke="#075211" stroke-width="0.5"/>
<circle cx="168.4" cy="86.8" r="2.8" fill="#0b8a1c" stroke="#076314" stroke-width="0.5"/>
<circle cx="189" cy="88.9" r="2.8" fill="#0b8a1c" stroke="#076314" stroke-width="0.5"/>
<circle cx="171.4" cy="93" r="2" fill="#0b8a1c" stroke="#076314" stroke-width="0.5"/>
<circle cx="165.2" cy="98.4" r="3.2" fill="#0b8a1c" stroke="#076314" stroke-width="0.5"/>
<circle cx="188.6" cy="99.1" r="3.2" fill="#0b8a1c" stroke="#076314" stroke-width="0.5"/>
<circle cx="152.2" cy="104.5" r="1.8" fill="#0a7218" stroke="#075211" stroke-width="0.5"/>
<circle cx="179" cy="105.6" r="3.2" fill="#0b8a1c" stroke="#076314" stroke-width="0.5"/>
<circle cx="166.6" cy="111.4" r="5.2" fill="#0b8a1c" stroke="#076314" stroke-width="0.5"/>
<circle cx="194.3" cy="113.1" r="3.2" fill="#0b8a1c" stroke="#076314" stroke-width="0.5"/>
<circle cx="143.9" cy="113.1" r="1.4" fill="#0a7218" stroke="#075211" stroke-width="0.3"/>
<circle cx="153.9" cy="120.8" r="4.8" fill="#0b8a1c" stroke="#076314" stroke-width="0.5"/>
<circle cx="180.9" cy="119.7" r="2.8" fill="#0b8a1c" stroke="#076314" stroke-width="0.5"/>
<circle cx="165.2" cy="130.3" r="2.8" fill="#0b8a1c" stroke="#076314" stroke-width="0.5"/>
<circle cx="178.7" cy="131.5" r="2.8" fill="#0b8a1c" stroke="#076314" stroke-width="0.5"/>
<circle cx="205.5" cy="92" r="2" fill="#0b8a1c" stroke="#076314" stroke-width="0.5"/>
<circle cx="200" cy="105.9" r="3.2" fill="#0b8a1c" stroke="#076314" stroke-width="0.5"/>
<circle cx="239.8" cy="85" r="1.1" fill="#0a5a18" stroke="#074011" stroke-width="0.3"/>
<circle cx="253.7" cy="93.9" r="1.1" fill="#0a5a18" stroke="#074011" stroke-width="0.3"/>
<circle cx="221.7" cy="97.7" r="1.2" fill="#0a5a18" stroke="#074011" stroke-width="0.3"/>
<circle cx="238.7" cy="102" r="2" fill="#0b8a1c" stroke="#076314" stroke-width="0.5"/>
<circle cx="225.5" cy="113.6" r="1.4" fill="#0a7218" stroke="#075211" stroke-width="0.3"/>
<circle cx="248.7" cy="116.7" r="1.1" fill="#0a5a18" stroke="#074011" stroke-width="0.3"/>
<circle cx="202" cy="127.2" r="1.8" fill="#0a7218" stroke="#075211" stroke-width="0.5"/>
<circle cx="199.6" cy="131.4" r="2.5" fill="#0b8a1c" stroke="#076314" stroke-width="0.5"/>
<circle cx="235.3" cy="131.4" r="1.1" fill="#0a5a18" stroke="#074011" stroke-width="0.3"/>
<circle cx="188.2" cy="137.4" r="2.8" fill="#0b8a1c" stroke="#076314" stroke-width="0.5"/>
<circle cx="168.4" cy="149.1" r="1.1" fill="#0a5a18" stroke="#074011" stroke-width="0.3"/>
<circle cx="186.9" cy="163.6" r="1.7" fill="#0a7218" stroke="#075211" stroke-width="0.3"/>
<circle cx="168.9" cy="168.8" r="1.4" fill="#0a7218" stroke="#075211" stroke-width="0.3"/>
<circle cx="153.9" cy="173" r="1.8" fill="#0a7218" stroke="#075211" stroke-width="0.5"/>
<circle cx="155.3" cy="181.2" r="2" fill="#0b8a1c" stroke="#076314" stroke-width="0.5"/>
<circle cx="170.6" cy="184" r="1.8" fill="#0a7218" stroke="#075211" stroke-width="0.5"/>
<circle cx="142.4" cy="186.5" r="1.4" fill="#0a7218" stroke="#075211" stroke-width="0.3"/>
<circle cx="157.5" cy="198.4" r="1.4" fill="#0a7218" stroke="#075211" stroke-width="0.3"/>
<circle cx="231" cy="55.9" r="0.8" fill="#a54cc4" stroke="#76368d" stroke-width="0.3"/>
<circle cx="221.7" cy="70.2" r="0.8" fill="#a54cc4" stroke="#76368d" stroke-width="0.3"/>
<circle cx="110" cy="177.5" r="0.7" fill="#f27acb" stroke="#ae5792" stroke-width="0.3"/>
<circle cx="295.1" cy="33.3" r="1.8" fill="#0a7218" stroke="#075211" stroke-width="0.5"/>
<circle cx="283.2" cy="37.1" r="1.8" fill="#0a7218" stroke="#075211" stroke-width="0.5"/>
<circle cx="299.2" cy="46.1" r="2.2" fill="#0b8a1c" stroke="#076314" stroke-width="0.5"/>
<circle cx="286.8" cy="49.9" r="1.8" fill="#0a7218" stroke="#075211" stroke-width="0.5"/>
<circle cx="324.9" cy="48.2" r="1.8" fill="#0a7218" stroke="#075211" stroke-width="0.5"/>
<circle cx="312.6" cy="56.2" r="2.2" fill="#0b8a1c" stroke="#076314" stroke-width="0.5"/>
<circle cx="331" cy="59.7" r="1.8" fill="#0a7218" stroke="#075211" stroke-width="0.5"/>
<circle cx="324.1" cy="69.3" r="2.2" fill="#0b8a1c" stroke="#076314" stroke-width="0.5"/>
<circle cx="359" cy="38.2" r="1.2" fill="#0a5a18" stroke="#074011" stroke-width="0.3"/>
<circle cx="364.2" cy="27.1" r="1.1" fill="#0a5a18" stroke="#074011" stroke-width="0.3"/>
<circle cx="436.4" cy="22.4" r="1.8" fill="#0a7218" stroke="#075211" stroke-width="0.5"/>
<circle cx="425.1" cy="27.6" r="1.8" fill="#0a7218" stroke="#075211" stroke-width="0.5"/>
<circle cx="441.5" cy="34.6" r="1.8" fill="#0a7218" stroke="#075211" stroke-width="0.5"/>
<circle cx="429.6" cy="40.4" r="2.2" fill="#0b8a1c" stroke="#076314" stroke-width="0.5"/>
<circle cx="402.9" cy="46.1" r="1.8" fill="#0a7218" stroke="#075211" stroke-width="0.5"/>
<circle cx="388.6" cy="49.4" r="1.4" fill="#0a7218" stroke="#075211" stroke-width="0.3"/>
<circle cx="420.2" cy="52.3" r="3.2" fill="#0b8a1c" stroke="#076314" stroke-width="0.5"/>
<circle cx="436.6" cy="56.2" r="1.8" fill="#0a7218" stroke="#075211" stroke-width="0.5"/>
<circle cx="412.7" cy="59.5" r="2.2" fill="#0b8a1c" stroke="#076314" stroke-width="0.5"/>
<circle cx="396.3" cy="65.2" r="2.2" fill="#0b8a1c" stroke="#076314" stroke-width="0.5"/>
<circle cx="438.9" cy="68.4" r="1.8" fill="#0a7218" stroke="#075211" stroke-width="0.5"/>
<circle cx="411.1" cy="73" r="4.2" fill="#0b8a1c" stroke="#076314" stroke-width="0.5"/>
<circle cx="429.1" cy="72" r="3.8" fill="#0b8a1c" stroke="#076314" stroke-width="0.5"/>
<circle cx="396" cy="78.7" r="3.8" fill="#0b8a1c" stroke="#076314" stroke-width="0.5"/>
<circle cx="412" cy="83.4" r="2.8" fill="#0b8a1c" stroke="#076314" stroke-width="0.5"/>
<circle cx="399.8" cy="88.3" r="3.2" fill="#0b8a1c" stroke="#076314" stroke-width="0.5"/>
<circle cx="441.3" cy="82.8" r="2.2" fill="#0b8a1c" stroke="#076314" stroke-width="0.5"/>
<circle cx="443.5" cy="100.3" r="1.1" fill="#0a5a18" stroke="#074011" stroke-width="0.3"/>
<circle cx="489.3" cy="56.4" r="1.8" fill="#0a7218" stroke="#075211" stroke-width="0.5"/>
<circle cx="504.2" cy="60.2" r="1.1" fill="#0a5a18" stroke="#074011" stroke-width="0.3"/>
<circle cx="516.8" cy="66.9" r="1.8" fill="#0a7218" stroke="#075211" stroke-width="0.5"/>
<circle cx="483.2" cy="72" r="1.4" fill="#0a7218" stroke="#075211" stroke-width="0.3"/>
<circle cx="455.5" cy="73.7" r="1.2" fill="#0a5a18" stroke="#074011" stroke-width="0.3"/>
<circle cx="457" cy="89.1" r="1.4" fill="#0a7218" stroke="#075211" stroke-width="0.3"/>
<circle cx="476.5" cy="87.2" r="1.1" fill="#0a5a18" stroke="#074011" stroke-width="0.3"/>
<circle cx="309" cy="87.7" r="1.7" fill="#0a7218" stroke="#075211" stroke-width="0.3"/>
<circle cx="322.8" cy="95.7" r="2" fill="#0b8a1c" stroke="#076314" stroke-width="0.5"/>
<circle cx="338" cy="100.6" r="1.7" fill="#0a7218" stroke="#075211" stroke-width="0.3"/>
<circle cx="313.8" cy="104.4" r="2.8" fill="#0b8a1c" stroke="#076314" stroke-width="0.5"/>
<circle cx="329" cy="108.1" r="2.2" fill="#0b8a1c" stroke="#076314" stroke-width="0.5"/>
<circle cx="322" cy="117" r="2.8" fill="#0b8a1c" stroke="#076314" stroke-width="0.5"/>
<circle cx="485.1" cy="150.6" r="1.1" fill="#0a5a18" stroke="#074011" stroke-width="0.3"/>
<circle cx="475.9" cy="163.8" r="1.4" fill="#0a7218" stroke="#075211" stroke-width="0.3"/>
<circle cx="478.8" cy="22.6" r="1.8" fill="#2be27e" stroke="#1ea25a" stroke-width="0.5"/>
<circle cx="490.2" cy="28.4" r="1.8" fill="#2be27e" stroke="#1ea25a" stroke-width="0.5"/>
<circle cx="473.1" cy="34.1" r="1.8" fill="#2be27e" stroke="#1ea25a" stroke-width="0.5"/>
<circle cx="484.1" cy="40.4" r="2.5" fill="#2be27e" stroke="#1ea25a" stroke-width="0.5"/>
<circle cx="308.9" cy="123.2" r="3.2" fill="#2be27e" stroke="#1ea25a" stroke-width="0.5"/>
<circle cx="293.5" cy="130.5" r="1.8" fill="#2be27e" stroke="#1ea25a" stroke-width="0.5"/>
<circle cx="322.5" cy="135" r="3.8" fill="#2be27e" stroke="#1ea25a" stroke-width="0.5"/>
<circle cx="301.2" cy="138.2" r="3.8" fill="#2be27e" stroke="#1ea25a" stroke-width="0.5"/>
<circle cx="289.7" cy="145.2" r="2" fill="#2be27e" stroke="#1ea25a" stroke-width="0.5"/>
<circle cx="330.6" cy="144.7" r="2" fill="#2be27e" stroke="#1ea25a" stroke-width="0.5"/>
<circle cx="308.2" cy="148.8" r="3.2" fill="#2be27e" stroke="#1ea25a" stroke-width="0.5"/>
<circle cx="333.6" cy="151.8" r="2" fill="#2be27e" stroke="#1ea25a" stroke-width="0.5"/>
<circle cx="351.4" cy="156.2" r="1.4" fill="#2be27e" stroke="#1ea25a" stroke-width="0.3"/>
<circle cx="306.1" cy="168.5" r="1.4" fill="#2be27e" stroke="#1ea25a" stroke-width="0.3"/>
<circle cx="343.7" cy="168.8" r="3.2" fill="#2be27e" stroke="#1ea25a" stroke-width="0.5"/>
<circle cx="318" cy="174.7" r="2.8" fill="#2be27e" stroke="#1ea25a" stroke-width="0.5"/>
<circle cx="358.5" cy="173.4" r="1.8" fill="#2be27e" stroke="#1ea25a" stroke-width="0.5"/>
<circle cx="350.3" cy="186.5" r="1.1" fill="#2be27e" stroke="#1ea25a" stroke-width="0.3"/>
<circle cx="363" cy="162.2" r="1.8" fill="#2be27e" stroke="#1ea25a" stroke-width="0.5"/>
<circle cx="365.4" cy="191" r="1.1" fill="#2be27e" stroke="#1ea25a" stroke-width="0.3"/>
<circle cx="383.4" cy="93.4" r="2.8" fill="#2be27e" stroke="#1ea25a" stroke-width="0.5"/>
<circle cx="408.8" cy="94.2" r="3" fill="#2be27e" stroke="#1ea25a" stroke-width="0.5"/>
<circle cx="396" cy="102.7" r="2.8" fill="#2be27e" stroke="#1ea25a" stroke-width="0.5"/>
<circle cx="399.3" cy="112.2" r="2.2" fill="#2be27e" stroke="#1ea25a" stroke-width="0.5"/>
<circle cx="318" cy="157" r="3.8" fill="#0d52b8" stroke="#093b84" stroke-width="0.5"/>
<circle cx="328.2" cy="164.9" r="1.8" fill="#0d52b8" stroke="#093b84" stroke-width="0.5"/>
<circle cx="332" cy="183.7" r="2.8" fill="#0d52b8" stroke="#093b84" stroke-width="0.5"/>
<circle cx="319.7" cy="189.2" r="2.2" fill="#0d52b8" stroke="#093b84" stroke-width="0.5"/>
<circle cx="319.2" cy="194.6" r="1.8" fill="#0d52b8" stroke="#093b84" stroke-width="0.5"/>
<circle cx="335.2" cy="197.4" r="1.8" fill="#0d52b8" stroke="#093b84" stroke-width="0.5"/>
<circle cx="438.1" cy="161.4" r="2.2" fill="#0d52b8" stroke="#093b84" stroke-width="0.5"/>
<circle cx="450.7" cy="155.4" r="0.7" fill="#0d52b8" stroke="#093b84" stroke-width="0.3"/>
<circle cx="394" cy="150.8" r="1.7" fill="#a54cc4" stroke="#76368d" stroke-width="0.3"/>
<circle cx="406.6" cy="150.8" r="1.7" fill="#a54cc4" stroke="#76368d" stroke-width="0.3"/>
<circle cx="393.2" cy="164.7" r="2" fill="#a54cc4" stroke="#76368d" stroke-width="0.5"/>
<circle cx="406.3" cy="164.7" r="1.7" fill="#a54cc4" stroke="#76368d" stroke-width="0.3"/>
<circle cx="427.6" cy="150.8" r="1.2" fill="#f26d0d" stroke="#ae4e09" stroke-width="0.3"/>
<circle cx="422.7" cy="165.2" r="1.2" fill="#f26d0d" stroke="#ae4e09" stroke-width="0.3"/>
<circle cx="467" cy="176.2" r="0.7" fill="#f26d0d" stroke="#ae4e09" stroke-width="0.3"/>
<circle cx="379.6" cy="72.8" r="1.1" fill="#f6b611" stroke="#b1830c" stroke-width="0.3"/>
<circle cx="364.5" cy="76.1" r="0.8" fill="#f6b611" stroke="#b1830c" stroke-width="0.3"/>
<circle cx="515.6" cy="50.9" r="0.8" fill="#f6b611" stroke="#b1830c" stroke-width="0.3"/>
<circle cx="529" cy="58" r="0.8" fill="#f6b611" stroke="#b1830c" stroke-width="0.3"/>
<circle cx="493.5" cy="109.7" r="1.8" fill="#e8174f" stroke="#a71038" stroke-width="0.5"/>
<circle cx="515" cy="115.4" r="1.8" fill="#e8174f" stroke="#a71038" stroke-width="0.5"/>
<circle cx="501.3" cy="121.1" r="3.2" fill="#e8174f" stroke="#a71038" stroke-width="0.5"/>
<circle cx="501.3" cy="131.3" r="3.2" fill="#e8174f" stroke="#a71038" stroke-width="0.5"/>
<circle cx="485.1" cy="138" r="1.8" fill="#e8174f" stroke="#a71038" stroke-width="0.5"/>
<circle cx="508.9" cy="143.9" r="1.8" fill="#e8174f" stroke="#a71038" stroke-width="0.5"/>
<circle cx="352.3" cy="53.5" r="0.7" fill="#f27acb" stroke="#ae5792" stroke-width="0.3"/>
<circle cx="345.4" cy="67.7" r="0.7" fill="#f27acb" stroke="#ae5792" stroke-width="0.3"/>
<circle cx="513.1" cy="83.7" r="0.7" fill="#f27acb" stroke="#ae5792" stroke-width="0.3"/>
<circle cx="422.2" cy="88.3" r="0.7" fill="#e01b1b" stroke="#a11313" stroke-width="0.3"/>
<circle cx="76.1" cy="236" r="1.2" fill="#2be27e" stroke="#1ea25a" stroke-width="0.3"/>
<circle cx="81.8" cy="249.1" r="1.7" fill="#2be27e" stroke="#1ea25a" stroke-width="0.3"/>
<circle cx="91.3" cy="230.2" r="1.4" fill="#2be27e" stroke="#1ea25a" stroke-width="0.3"/>
<circle cx="76.9" cy="265.1" r="0.8" fill="#2be27e" stroke="#1ea25a" stroke-width="0.3"/>
<circle cx="71.5" cy="280.7" r="0.8" fill="#2be27e" stroke="#1ea25a" stroke-width="0.3"/>
<circle cx="66.6" cy="297.9" r="2" fill="#62e29c" stroke="#46a270" stroke-width="0.5"/>
<circle cx="72" cy="328.5" r="2" fill="#2be27e" stroke="#1ea25a" stroke-width="0.5"/>
<circle cx="82.3" cy="334.5" r="2" fill="#2be27e" stroke="#1ea25a" stroke-width="0.5"/>
<circle cx="60.1" cy="338.3" r="2.2" fill="#2be27e" stroke="#1ea25a" stroke-width="0.5"/>
<circle cx="72" cy="344" r="2" fill="#2be27e" stroke="#1ea25a" stroke-width="0.5"/>
<circle cx="137.3" cy="309.9" r="1.7" fill="#2be27e" stroke="#1ea25a" stroke-width="0.3"/>
<circle cx="120.4" cy="312.5" r="2.8" fill="#2be27e" stroke="#1ea25a" stroke-width="0.5"/>
<circle cx="105.4" cy="316.8" r="2" fill="#2be27e" stroke="#1ea25a" stroke-width="0.5"/>
<circle cx="130.4" cy="319.5" r="1.8" fill="#2be27e" stroke="#1ea25a" stroke-width="0.5"/>
<circle cx="116.1" cy="322.6" r="2.2" fill="#2be27e" stroke="#1ea25a" stroke-width="0.5"/>
<circle cx="125.1" cy="328.7" r="2.8" fill="#2be27e" stroke="#1ea25a" stroke-width="0.5"/>
<circle cx="106.6" cy="335" r="2.2" fill="#2be27e" stroke="#1ea25a" stroke-width="0.5"/>
<circle cx="117.3" cy="339.9" r="1.8" fill="#2be27e" stroke="#1ea25a" stroke-width="0.5"/>
<circle cx="15.5" cy="260" r="0.8" fill="#0a5a18" stroke="#074011" stroke-width="0.3"/>
<circle cx="19.6" cy="265.6" r="1.5" fill="#0a7218" stroke="#075211" stroke-width="0.3"/>
<circle cx="38.8" cy="296.2" r="2" fill="#0b8a1c" stroke="#076314" stroke-width="0.5"/>
<circle cx="26.2" cy="306.1" r="0.8" fill="#0a5a18" stroke="#074011" stroke-width="0.3"/>
<circle cx="79.7" cy="302.1" r="1.8" fill="#0a7218" stroke="#075211" stroke-width="0.5"/>
<circle cx="61" cy="305.7" r="2.8" fill="#0b8a1c" stroke="#076314" stroke-width="0.5"/>
<circle cx="78.6" cy="309" r="1.8" fill="#0a7218" stroke="#075211" stroke-width="0.5"/>
<circle cx="67.6" cy="312.5" r="2.5" fill="#0b8a1c" stroke="#076314" stroke-width="0.5"/>
<circle cx="78.6" cy="318" r="4.2" fill="#0b8a1c" stroke="#076314" stroke-width="0.5"/>
<circle cx="67.1" cy="323.1" r="2.8" fill="#0b8a1c" stroke="#076314" stroke-width="0.5"/>
<circle cx="91.6" cy="326.9" r="2.8" fill="#0b8a1c" stroke="#076314" stroke-width="0.5"/>
<circle cx="94" cy="321.6" r="1.8" fill="#0a7218" stroke="#075211" stroke-width="0.5"/>
<circle cx="106.6" cy="328.1" r="2.8" fill="#0b8a1c" stroke="#076314" stroke-width="0.5"/>
<circle cx="95.7" cy="339.4" r="2.5" fill="#0b8a1c" stroke="#076314" stroke-width="0.5"/>
<circle cx="138.9" cy="336.4" r="1.8" fill="#0a7218" stroke="#075211" stroke-width="0.5"/>
<circle cx="153.6" cy="335.9" r="1.7" fill="#0a7218" stroke="#075211" stroke-width="0.3"/>
<circle cx="147.7" cy="348.3" r="1.8" fill="#0a7218" stroke="#075211" stroke-width="0.5"/>
<circle cx="161.9" cy="347.5" r="1.4" fill="#0a7218" stroke="#075211" stroke-width="0.3"/>
<circle cx="96.7" cy="354" r="0.7" fill="#0a5a18" stroke="#074011" stroke-width="0.3"/>
<circle cx="91.9" cy="304.2" r="0.7" fill="#0a5a18" stroke="#074011" stroke-width="0.3"/>
<circle cx="126" cy="249.1" r="0.7" fill="#0a5a18" stroke="#074011" stroke-width="0.3"/>
<circle cx="116.8" cy="260" r="1.2" fill="#0a5a18" stroke="#074011" stroke-width="0.3"/>
<circle cx="179.1" cy="213.1" r="1.7" fill="#0a7218" stroke="#075211" stroke-width="0.3"/>
<circle cx="190.8" cy="208.2" r="1.4" fill="#0a7218" stroke="#075211" stroke-width="0.3"/>
<circle cx="195.4" cy="219.6" r="2" fill="#0b8a1c" stroke="#076314" stroke-width="0.5"/>
<circle cx="184.1" cy="224.2" r="2" fill="#0b8a1c" stroke="#076314" stroke-width="0.5"/>
<circle cx="195" cy="234.5" r="1.5" fill="#0a7218" stroke="#075211" stroke-width="0.3"/>
<circle cx="201.4" cy="248.2" r="1.5" fill="#0a7218" stroke="#075211" stroke-width="0.3"/>
<circle cx="212.6" cy="257.3" r="1.1" fill="#0a5a18" stroke="#074011" stroke-width="0.3"/>
<circle cx="200.1" cy="263" r="1.1" fill="#0a5a18" stroke="#074011" stroke-width="0.3"/>
<circle cx="242.6" cy="208.2" r="2.2" fill="#0b8a1c" stroke="#076314" stroke-width="0.5"/>
<circle cx="227.7" cy="211.3" r="2.2" fill="#0b8a1c" stroke="#076314" stroke-width="0.5"/>
<circle cx="239.2" cy="214.5" r="2.2" fill="#0b8a1c" stroke="#076314" stroke-width="0.5"/>
<circle cx="235.4" cy="220" r="2.2" fill="#0b8a1c" stroke="#076314" stroke-width="0.5"/>
<circle cx="230.5" cy="225.5" r="2.2" fill="#0b8a1c" stroke="#076314" stroke-width="0.5"/>
<circle cx="248.6" cy="225.5" r="3.2" fill="#0b8a1c" stroke="#076314" stroke-width="0.5"/>
<circle cx="257.4" cy="230.4" r="1.7" fill="#0a7218" stroke="#075211" stroke-width="0.3"/>
<circle cx="247.2" cy="239.5" r="1.4" fill="#0a7218" stroke="#075211" stroke-width="0.3"/>
<circle cx="261" cy="242.7" r="1.5" fill="#0a7218" stroke="#075211" stroke-width="0.3"/>
<circle cx="260.5" cy="249.1" r="0.7" fill="#0a5a18" stroke="#074011" stroke-width="0.3"/>
<circle cx="198.3" cy="275.4" r="1.7" fill="#0a7218" stroke="#075211" stroke-width="0.3"/>
<circle cx="225.9" cy="276.8" r="1.1" fill="#0a5a18" stroke="#074011" stroke-width="0.3"/>
<circle cx="183.2" cy="283.2" r="1.1" fill="#0a5a18" stroke="#074011" stroke-width="0.3"/>
<circle cx="205.5" cy="291.7" r="1.8" fill="#0a7218" stroke="#075211" stroke-width="0.5"/>
<circle cx="190.5" cy="299.2" r="1.1" fill="#0a5a18" stroke="#074011" stroke-width="0.3"/>
<circle cx="179.5" cy="318.3" r="1.1" fill="#0a5a18" stroke="#074011" stroke-width="0.3"/>
<circle cx="263.5" cy="301.7" r="1.1" fill="#0a5a18" stroke="#074011" stroke-width="0.3"/>
<circle cx="255.9" cy="313.9" r="1.1" fill="#0a5a18" stroke="#074011" stroke-width="0.3"/>
<circle cx="188.6" cy="342.7" r="1.4" fill="#0a7218" stroke="#075211" stroke-width="0.3"/>
<circle cx="201.4" cy="348.7" r="1.8" fill="#0a7218" stroke="#075211" stroke-width="0.5"/>
<circle cx="189.5" cy="357.3" r="1.8" fill="#0a7218" stroke="#075211" stroke-width="0.5"/>
<circle cx="179.5" cy="368.5" r="1.1" fill="#0a5a18" stroke="#074011" stroke-width="0.3"/>
<circle cx="33.6" cy="269.4" r="2.2" fill="#0d52b8" stroke="#093b84" stroke-width="0.5"/>
<circle cx="43.9" cy="273.8" r="2.8" fill="#0d52b8" stroke="#093b84" stroke-width="0.5"/>
<circle cx="25.9" cy="276.8" r="2.2" fill="#0d52b8" stroke="#093b84" stroke-width="0.5"/>
<circle cx="39" cy="282" r="2.8" fill="#0d52b8" stroke="#093b84" stroke-width="0.5"/>
<circle cx="35.2" cy="288.1" r="2.8" fill="#0d52b8" stroke="#093b84" stroke-width="0.5"/>
<circle cx="50.7" cy="292.2" r="2.2" fill="#0d52b8" stroke="#093b84" stroke-width="0.5"/>
<circle cx="102.2" cy="208.2" r="0.7" fill="#f6b611" stroke="#b1830c" stroke-width="0.3"/>
<circle cx="96.7" cy="221.8" r="1.1" fill="#f6b611" stroke="#b1830c" stroke-width="0.3"/>
<circle cx="107.1" cy="271.1" r="0.7" fill="#f6b611" stroke="#b1830c" stroke-width="0.3"/>
<circle cx="98.8" cy="281.8" r="0.7" fill="#f6b611" stroke="#b1830c" stroke-width="0.3"/>
<circle cx="248.6" cy="326.7" r="0.7" fill="#f6b611" stroke="#b1830c" stroke-width="0.3"/>
<circle cx="240.5" cy="338.5" r="0.7" fill="#f6b611" stroke="#b1830c" stroke-width="0.3"/>
<circle cx="155.1" cy="249.1" r="0.7" fill="#f27acb" stroke="#ae5792" stroke-width="0.3"/>
<circle cx="144" cy="256.9" r="0.7" fill="#f27acb" stroke="#ae5792" stroke-width="0.3"/>
<circle cx="155.9" cy="263.8" r="0.7" fill="#f27acb" stroke="#ae5792" stroke-width="0.3"/>
<circle cx="234.1" cy="298.6" r="2" fill="#e8174f" stroke="#a71038" stroke-width="0.5"/>
<circle cx="223.7" cy="302.6" r="2" fill="#e8174f" stroke="#a71038" stroke-width="0.5"/>
<circle cx="241.7" cy="307.2" r="2" fill="#e8174f" stroke="#a71038" stroke-width="0.5"/>
<circle cx="221.9" cy="312.3" r="2" fill="#e8174f" stroke="#a71038" stroke-width="0.5"/>
<circle cx="240.1" cy="317.2" r="2" fill="#e8174f" stroke="#a71038" stroke-width="0.5"/>
<circle cx="229" cy="319.6" r="1.8" fill="#e8174f" stroke="#a71038" stroke-width="0.5"/>
<circle cx="55.3" cy="353.4" r="1.4" fill="#f26d0d" stroke="#ae4e09" stroke-width="0.3"/>
<circle cx="43.9" cy="362" r="1.2" fill="#f26d0d" stroke="#ae4e09" stroke-width="0.3"/>
<circle cx="55.6" cy="368.4" r="1.2" fill="#f26d0d" stroke="#ae4e09" stroke-width="0.3"/>
<circle cx="213.2" cy="338.7" r="0.7" fill="#bdbdbd" stroke="#888888" stroke-width="0.3"/>
<circle cx="229.5" cy="347.3" r="0.7" fill="#bdbdbd" stroke="#888888" stroke-width="0.3"/>
<circle cx="221.9" cy="359.1" r="0.7" fill="#bdbdbd" stroke="#888888" stroke-width="0.3"/>
<circle cx="324.2" cy="209.2" r="1" fill="#073f14" stroke="#052d0e" stroke-width="0.3"/>
<circle cx="335.8" cy="213.3" r="1" fill="#073f14" stroke="#052d0e" stroke-width="0.3"/>
<circle cx="332.5" cy="218.1" r="1" fill="#073f14" stroke="#052d0e" stroke-width="0.3"/>
<circle cx="320.8" cy="223" r="1" fill="#073f14" stroke="#052d0e" stroke-width="0.3"/>
<circle cx="353.6" cy="220.2" r="1" fill="#073f14" stroke="#052d0e" stroke-width="0.3"/>
<circle cx="363.6" cy="212.6" r="1" fill="#073f14" stroke="#052d0e" stroke-width="0.3"/>
<circle cx="359.6" cy="232" r="1" fill="#073f14" stroke="#052d0e" stroke-width="0.3"/>
<circle cx="369.1" cy="224.4" r="1" fill="#073f14" stroke="#052d0e" stroke-width="0.3"/>
<circle cx="305.2" cy="247.8" r="1" fill="#073f14" stroke="#052d0e" stroke-width="0.3"/>
<circle cx="291.1" cy="252.7" r="1" fill="#073f14" stroke="#052d0e" stroke-width="0.3"/>
<circle cx="298.5" cy="264" r="1" fill="#073f14" stroke="#052d0e" stroke-width="0.3"/>
<circle cx="412.5" cy="244" r="1" fill="#073f14" stroke="#052d0e" stroke-width="0.3"/>
<circle cx="424.2" cy="247.2" r="1" fill="#073f14" stroke="#052d0e" stroke-width="0.3"/>
<circle cx="407" cy="251" r="1" fill="#073f14" stroke="#052d0e" stroke-width="0.3"/>
<circle cx="417.7" cy="260.1" r="1" fill="#073f14" stroke="#052d0e" stroke-width="0.3"/>
<circle cx="298.8" cy="281.9" r="1" fill="#073f14" stroke="#052d0e" stroke-width="0.3"/>
<circle cx="329.9" cy="280.7" r="1" fill="#073f14" stroke="#052d0e" stroke-width="0.3"/>
<circle cx="343.2" cy="283.7" r="1" fill="#073f14" stroke="#052d0e" stroke-width="0.3"/>
<circle cx="329.9" cy="287.6" r="1" fill="#073f14" stroke="#052d0e" stroke-width="0.3"/>
<circle cx="356.2" cy="287.1" r="1" fill="#073f14" stroke="#052d0e" stroke-width="0.3"/>
<circle cx="341.8" cy="291.6" r="1" fill="#073f14" stroke="#052d0e" stroke-width="0.3"/>
<circle cx="352.7" cy="295.4" r="1" fill="#073f14" stroke="#052d0e" stroke-width="0.3"/>
<circle cx="336" cy="297.7" r="1" fill="#073f14" stroke="#052d0e" stroke-width="0.3"/>
<circle cx="357.6" cy="301.8" r="1" fill="#073f14" stroke="#052d0e" stroke-width="0.3"/>
<circle cx="328.2" cy="305.3" r="1" fill="#073f14" stroke="#052d0e" stroke-width="0.3"/>
<circle cx="345" cy="306.3" r="1" fill="#073f14" stroke="#052d0e" stroke-width="0.3"/>
<circle cx="334.6" cy="322.5" r="1" fill="#073f14" stroke="#052d0e" stroke-width="0.3"/>
<circle cx="366.1" cy="322.4" r="1" fill="#073f14" stroke="#052d0e" stroke-width="0.3"/>
<circle cx="404.5" cy="322.4" r="1" fill="#073f14" stroke="#052d0e" stroke-width="0.3"/>
<circle cx="427.5" cy="322.4" r="1" fill="#073f14" stroke="#052d0e" stroke-width="0.3"/>
<circle cx="454.5" cy="322.2" r="1" fill="#073f14" stroke="#052d0e" stroke-width="0.3"/>
<circle cx="463.6" cy="284.7" r="1" fill="#073f14" stroke="#052d0e" stroke-width="0.3"/>
<circle cx="481.4" cy="286.4" r="1" fill="#073f14" stroke="#052d0e" stroke-width="0.3"/>
<circle cx="471.1" cy="297.1" r="1" fill="#073f14" stroke="#052d0e" stroke-width="0.3"/>
<circle cx="483.8" cy="302.7" r="1" fill="#073f14" stroke="#052d0e" stroke-width="0.3"/>
<circle cx="493.2" cy="322.4" r="1" fill="#073f14" stroke="#052d0e" stroke-width="0.3"/>
<circle cx="521.5" cy="322.4" r="1" fill="#073f14" stroke="#052d0e" stroke-width="0.3"/>
<circle cx="445.3" cy="326.9" r="1" fill="#073f14" stroke="#052d0e" stroke-width="0.3"/>
<circle cx="376.2" cy="330.4" r="1" fill="#073f14" stroke="#052d0e" stroke-width="0.3"/>
<circle cx="393.5" cy="330.4" r="1" fill="#073f14" stroke="#052d0e" stroke-width="0.3"/>
<circle cx="409.6" cy="335" r="1" fill="#073f14" stroke="#052d0e" stroke-width="0.3"/>
<circle cx="369.6" cy="342.2" r="1" fill="#073f14" stroke="#052d0e" stroke-width="0.3"/>
<circle cx="399.5" cy="342.1" r="1" fill="#073f14" stroke="#052d0e" stroke-width="0.3"/>
<circle cx="427.5" cy="341.6" r="1" fill="#073f14" stroke="#052d0e" stroke-width="0.3"/>
<circle cx="448.8" cy="340.4" r="1" fill="#073f14" stroke="#052d0e" stroke-width="0.3"/>
<circle cx="435.8" cy="352" r="1" fill="#073f14" stroke="#052d0e" stroke-width="0.3"/>
<circle cx="442.7" cy="368.9" r="1" fill="#073f14" stroke="#052d0e" stroke-width="0.3"/>
<circle cx="326.3" cy="332.1" r="1" fill="#073f14" stroke="#052d0e" stroke-width="0.3"/>
<circle cx="342.7" cy="333.3" r="1" fill="#073f14" stroke="#052d0e" stroke-width="0.3"/>
<circle cx="360.1" cy="334.7" r="1" fill="#073f14" stroke="#052d0e" stroke-width="0.3"/>
<circle cx="334.1" cy="342.5" r="1" fill="#073f14" stroke="#052d0e" stroke-width="0.3"/>
<circle cx="303" cy="352" r="1" fill="#073f14" stroke="#052d0e" stroke-width="0.3"/>
<circle cx="291.8" cy="356.3" r="1" fill="#073f14" stroke="#052d0e" stroke-width="0.3"/>
<circle cx="306.6" cy="365.4" r="1" fill="#073f14" stroke="#052d0e" stroke-width="0.3"/>
<circle cx="295.4" cy="369.6" r="1" fill="#073f14" stroke="#052d0e" stroke-width="0.3"/>
<circle cx="510.3" cy="326.6" r="1" fill="#073f14" stroke="#052d0e" stroke-width="0.3"/>
<circle cx="460.2" cy="335.9" r="1" fill="#073f14" stroke="#052d0e" stroke-width="0.3"/>
<circle cx="477.5" cy="340.2" r="1" fill="#073f14" stroke="#052d0e" stroke-width="0.3"/>
<circle cx="525" cy="336.1" r="1" fill="#073f14" stroke="#052d0e" stroke-width="0.3"/>
<circle cx="514.6" cy="340.2" r="1" fill="#073f14" stroke="#052d0e" stroke-width="0.3"/>
<circle cx="480.9" cy="352" r="1" fill="#073f14" stroke="#052d0e" stroke-width="0.3"/>
<circle cx="478.3" cy="368.7" r="1" fill="#073f14" stroke="#052d0e" stroke-width="0.3"/>
<circle cx="309.2" cy="231.6" r="1.2" fill="#0d52b8" stroke="#093b84" stroke-width="0.3"/>
<circle cx="318.5" cy="243.2" r="1.2" fill="#0d52b8" stroke="#093b84" stroke-width="0.3"/>
<circle cx="355.8" cy="368.9" r="0.8" fill="#0d52b8" stroke="#093b84" stroke-width="0.3"/>
<circle cx="368" cy="360.6" r="0.8" fill="#0d52b8" stroke="#093b84" stroke-width="0.3"/>
<circle cx="356.5" cy="249.2" r="1.7" fill="#14c6ec" stroke="#0e8ea9" stroke-width="0.3"/>
<circle cx="353.6" cy="264.3" r="1.2" fill="#14c6ec" stroke="#0e8ea9" stroke-width="0.3"/>
<circle cx="447.6" cy="212.4" r="2.2" fill="#14c6ec" stroke="#0e8ea9" stroke-width="0.5"/>
<circle cx="458.4" cy="217" r="2.8" fill="#14c6ec" stroke="#0e8ea9" stroke-width="0.5"/>
<circle cx="443.9" cy="226.8" r="1.2" fill="#14c6ec" stroke="#0e8ea9" stroke-width="0.3"/>
<circle cx="454.8" cy="230.6" r="1.2" fill="#14c6ec" stroke="#0e8ea9" stroke-width="0.3"/>
<circle cx="446.2" cy="243.2" r="0.8" fill="#14c6ec" stroke="#0e8ea9" stroke-width="0.3"/>
<circle cx="441" cy="259.1" r="0.8" fill="#14c6ec" stroke="#0e8ea9" stroke-width="0.3"/>
<circle cx="414.6" cy="209.2" r="0.8" fill="#2be27e" stroke="#1ea25a" stroke-width="0.3"/>
<circle cx="400.8" cy="213.3" r="0.8" fill="#2be27e" stroke="#1ea25a" stroke-width="0.3"/>
<circle cx="387.5" cy="219.3" r="0.8" fill="#2be27e" stroke="#1ea25a" stroke-width="0.3"/>
<circle cx="410.4" cy="221.6" r="0.8" fill="#2be27e" stroke="#1ea25a" stroke-width="0.3"/>
<circle cx="399.5" cy="226.3" r="0.8" fill="#2be27e" stroke="#1ea25a" stroke-width="0.3"/>
<circle cx="424.9" cy="225.4" r="0.8" fill="#2be27e" stroke="#1ea25a" stroke-width="0.3"/>
<circle cx="409.9" cy="232" r="0.8" fill="#2be27e" stroke="#1ea25a" stroke-width="0.3"/>
<circle cx="396.1" cy="236.6" r="0.8" fill="#2be27e" stroke="#1ea25a" stroke-width="0.3"/>
<circle cx="510.3" cy="281.1" r="0.8" fill="#2be27e" stroke="#1ea25a" stroke-width="0.3"/>
<circle cx="502.5" cy="288.2" r="0.8" fill="#2be27e" stroke="#1ea25a" stroke-width="0.3"/>
<circle cx="518.4" cy="292" r="0.8" fill="#2be27e" stroke="#1ea25a" stroke-width="0.3"/>
<circle cx="509.4" cy="301.1" r="0.8" fill="#2be27e" stroke="#1ea25a" stroke-width="0.3"/>
<circle cx="328.5" cy="352" r="0.8" fill="#2be27e" stroke="#1ea25a" stroke-width="0.3"/>
<circle cx="357" cy="352" r="0.8" fill="#2be27e" stroke="#1ea25a" stroke-width="0.3"/>
<circle cx="338" cy="355.4" r="0.8" fill="#2be27e" stroke="#1ea25a" stroke-width="0.3"/>
<circle cx="323.9" cy="361.5" r="0.8" fill="#2be27e" stroke="#1ea25a" stroke-width="0.3"/>
<circle cx="331.1" cy="368.4" r="0.8" fill="#2be27e" stroke="#1ea25a" stroke-width="0.3"/>
<circle cx="483.2" cy="243.7" r="1.2" fill="#a3101c" stroke="#750b14" stroke-width="0.3"/>
<circle cx="478" cy="258.7" r="1.2" fill="#a3101c" stroke="#750b14" stroke-width="0.3"/>
<circle cx="306.1" cy="293.2" r="0.7" fill="#f26d0d" stroke="#ae4e09" stroke-width="0.3"/>
<circle cx="292.8" cy="296.6" r="0.7" fill="#f26d0d" stroke="#ae4e09" stroke-width="0.3"/>
<circle cx="382.8" cy="280.7" r="2" fill="#f26d0d" stroke="#ae4e09" stroke-width="0.5"/>
<circle cx="375.7" cy="292" r="1.8" fill="#f26d0d" stroke="#ae4e09" stroke-width="0.5"/>
<circle cx="389.5" cy="296.3" r="0.8" fill="#f26d0d" stroke="#ae4e09" stroke-width="0.3"/>
<circle cx="381.4" cy="310.4" r="0.8" fill="#f26d0d" stroke="#ae4e09" stroke-width="0.3"/>
<circle cx="403" cy="355.4" r="0.8" fill="#f26d0d" stroke="#ae4e09" stroke-width="0.3"/>
<circle cx="421.1" cy="357.1" r="0.8" fill="#f26d0d" stroke="#ae4e09" stroke-width="0.3"/>
<circle cx="403.9" cy="368.9" r="0.8" fill="#f26d0d" stroke="#ae4e09" stroke-width="0.3"/>
<circle cx="422" cy="368.9" r="0.8" fill="#f26d0d" stroke="#ae4e09" stroke-width="0.3"/>
<circle cx="416" cy="280.7" r="0.8" fill="#f6b611" stroke="#b1830c" stroke-width="0.3"/>
<circle cx="405.9" cy="291.6" r="0.8" fill="#f6b611" stroke="#b1830c" stroke-width="0.3"/>
<circle cx="418.5" cy="296.8" r="0.8" fill="#f6b611" stroke="#b1830c" stroke-width="0.3"/>
<circle cx="408.2" cy="308.4" r="0.8" fill="#f6b611" stroke="#b1830c" stroke-width="0.3"/>
<circle cx="460.2" cy="352" r="0.8" fill="#f6b611" stroke="#b1830c" stroke-width="0.3"/>
<circle cx="499" cy="352" r="0.8" fill="#f6b611" stroke="#b1830c" stroke-width="0.3"/>
<circle cx="517.2" cy="352" r="0.8" fill="#f6b611" stroke="#b1830c" stroke-width="0.3"/>
<circle cx="461" cy="368.7" r="0.8" fill="#f6b611" stroke="#b1830c" stroke-width="0.3"/>
<circle cx="498.7" cy="368.7" r="0.8" fill="#f6b611" stroke="#b1830c" stroke-width="0.3"/>
<circle cx="517.2" cy="368.7" r="0.8" fill="#f6b611" stroke="#b1830c" stroke-width="0.3"/>
<circle cx="448.8" cy="297.1" r="2.8" fill="#f27acb" stroke="#ae5792" stroke-width="0.5"/>
<circle cx="436.3" cy="304" r="2.2" fill="#f27acb" stroke="#ae5792" stroke-width="0.5"/>
<circle cx="450.5" cy="280.7" r="0.7" fill="#f27acb" stroke="#ae5792" stroke-width="0.3"/>
<circle cx="437.5" cy="287.3" r="0.7" fill="#f27acb" stroke="#ae5792" stroke-width="0.3"/>
<circle cx="301.8" cy="324.8" r="0.7" fill="#e03060" stroke="#a12245" stroke-width="0.3"/>
<circle cx="27.1" cy="466.4" r="0.8" fill="#f27acb" stroke="#ae5792" stroke-width="0.3"/>
<circle cx="15.5" cy="475" r="0.8" fill="#f27acb" stroke="#ae5792" stroke-width="0.3"/>
<circle cx="82.9" cy="611.1" r="0.8" fill="#f27acb" stroke="#ae5792" stroke-width="0.3"/>
<circle cx="29" cy="482.5" r="1.8" fill="#0a7218" stroke="#075211" stroke-width="0.5"/>
<circle cx="163.9" cy="506.6" r="3.8" fill="#0b8a1c" stroke="#076314" stroke-width="0.5"/>
<circle cx="149.6" cy="510.8" r="1.8" fill="#0a7218" stroke="#075211" stroke-width="0.5"/>
<circle cx="181.5" cy="513.5" r="3.2" fill="#0b8a1c" stroke="#076314" stroke-width="0.5"/>
<circle cx="215.8" cy="466.1" r="0.8" fill="#0a5a18" stroke="#074011" stroke-width="0.3"/>
<circle cx="243.6" cy="465.9" r="2" fill="#0b8a1c" stroke="#076314" stroke-width="0.5"/>
<circle cx="255.5" cy="468.1" r="2" fill="#0b8a1c" stroke="#076314" stroke-width="0.5"/>
<circle cx="210.6" cy="481.6" r="1.4" fill="#0a7218" stroke="#075211" stroke-width="0.3"/>
<circle cx="241.3" cy="479.4" r="2.8" fill="#0b8a1c" stroke="#076314" stroke-width="0.5"/>
<circle cx="253.4" cy="482" r="3.2" fill="#0b8a1c" stroke="#076314" stroke-width="0.5"/>
<circle cx="204.7" cy="493.7" r="5.2" fill="#0b8a1c" stroke="#076314" stroke-width="0.5"/>
<circle cx="193.3" cy="503.5" r="2.5" fill="#0b8a1c" stroke="#076314" stroke-width="0.5"/>
<circle cx="207.6" cy="512" r="4.2" fill="#0b8a1c" stroke="#076314" stroke-width="0.5"/>
<circle cx="198.1" cy="519.5" r="4.8" fill="#0b8a1c" stroke="#076314" stroke-width="0.5"/>
<circle cx="184.5" cy="531.1" r="2.8" fill="#0b8a1c" stroke="#076314" stroke-width="0.5"/>
<circle cx="151.7" cy="517.8" r="1.8" fill="#0a7218" stroke="#075211" stroke-width="0.5"/>
<circle cx="159.6" cy="524.3" r="3.8" fill="#0b8a1c" stroke="#076314" stroke-width="0.5"/>
<circle cx="172.9" cy="521.7" r="2.8" fill="#0b8a1c" stroke="#076314" stroke-width="0.5"/>
<circle cx="172.6" cy="537.6" r="2.8" fill="#0b8a1c" stroke="#076314" stroke-width="0.5"/>
<circle cx="98.6" cy="537.1" r="1.4" fill="#0a7218" stroke="#075211" stroke-width="0.3"/>
<circle cx="112.5" cy="542.3" r="2.8" fill="#0b8a1c" stroke="#076314" stroke-width="0.5"/>
<circle cx="123.2" cy="549.7" r="2" fill="#0b8a1c" stroke="#076314" stroke-width="0.5"/>
<circle cx="88.9" cy="550.9" r="2.8" fill="#0b8a1c" stroke="#076314" stroke-width="0.5"/>
<circle cx="105.5" cy="554" r="3" fill="#0b8a1c" stroke="#076314" stroke-width="0.5"/>
<circle cx="116.8" cy="561.8" r="2.2" fill="#0b8a1c" stroke="#076314" stroke-width="0.5"/>
<circle cx="72.2" cy="557.5" r="3.8" fill="#0b8a1c" stroke="#076314" stroke-width="0.5"/>
<circle cx="83.8" cy="563.5" r="3.8" fill="#0b8a1c" stroke="#076314" stroke-width="0.5"/>
<circle cx="67" cy="569.8" r="2.5" fill="#0b8a1c" stroke="#076314" stroke-width="0.5"/>
<circle cx="82.9" cy="571" r="2.8" fill="#0b8a1c" stroke="#076314" stroke-width="0.5"/>
<circle cx="81.7" cy="594.2" r="2" fill="#0b8a1c" stroke="#076314" stroke-width="0.5"/>
<circle cx="47.5" cy="591.9" r="2" fill="#0b8a1c" stroke="#076314" stroke-width="0.5"/>
<circle cx="37.5" cy="600.7" r="2.8" fill="#0b8a1c" stroke="#076314" stroke-width="0.5"/>
<circle cx="54.9" cy="602.8" r="2" fill="#0b8a1c" stroke="#076314" stroke-width="0.5"/>
<circle cx="21.6" cy="610.9" r="2" fill="#0b8a1c" stroke="#076314" stroke-width="0.5"/>
<circle cx="44.9" cy="610.9" r="2.8" fill="#0b8a1c" stroke="#076314" stroke-width="0.5"/>
<circle cx="30.6" cy="615.8" r="3.8" fill="#0b8a1c" stroke="#076314" stroke-width="0.5"/>
<circle cx="19" cy="623" r="2" fill="#0b8a1c" stroke="#076314" stroke-width="0.5"/>
<circle cx="30.6" cy="627" r="2" fill="#0b8a1c" stroke="#076314" stroke-width="0.5"/>
<circle cx="247" cy="583.8" r="2" fill="#0b8a1c" stroke="#076314" stroke-width="0.5"/>
<circle cx="259.1" cy="593" r="2" fill="#0b8a1c" stroke="#076314" stroke-width="0.5"/>
<circle cx="245.3" cy="599.9" r="3" fill="#0b8a1c" stroke="#076314" stroke-width="0.5"/>
<circle cx="257.7" cy="609.4" r="1.4" fill="#0a7218" stroke="#075211" stroke-width="0.3"/>
<circle cx="39.4" cy="496.6" r="2.8" fill="#0f3f7d" stroke="#0a2d5a" stroke-width="0.5"/>
<circle cx="50.6" cy="501.8" r="2" fill="#0f3f7d" stroke="#0a2d5a" stroke-width="0.5"/>
<circle cx="34.5" cy="509.8" r="2.8" fill="#0f3f7d" stroke="#0a2d5a" stroke-width="0.5"/>
<circle cx="46.3" cy="515.5" r="3.2" fill="#0f3f7d" stroke="#0a2d5a" stroke-width="0.5"/>
<circle cx="43.5" cy="532.5" r="2.2" fill="#0f3f7d" stroke="#0a2d5a" stroke-width="0.5"/>
<circle cx="38.3" cy="543.3" r="3.8" fill="#0f3f7d" stroke="#0a2d5a" stroke-width="0.5"/>
<circle cx="83.8" cy="473.7" r="2.5" fill="#e8174f" stroke="#a71038" stroke-width="0.5"/>
<circle cx="89.5" cy="486.3" r="3.2" fill="#e8174f" stroke="#a71038" stroke-width="0.5"/>
<circle cx="76" cy="492" r="2.5" fill="#e8174f" stroke="#a71038" stroke-width="0.5"/>
<circle cx="94.5" cy="492.3" r="3.2" fill="#e8174f" stroke="#a71038" stroke-width="0.5"/>
<circle cx="87.6" cy="507" r="2" fill="#e8174f" stroke="#a71038" stroke-width="0.5"/>
<circle cx="101.6" cy="473.7" r="1.8" fill="#e8174f" stroke="#a71038" stroke-width="0.5"/>
<circle cx="141.5" cy="469" r="0.8" fill="#2be27e" stroke="#1ea25a" stroke-width="0.3"/>
<circle cx="154.4" cy="476.8" r="2.5" fill="#2be27e" stroke="#1ea25a" stroke-width="0.5"/>
<circle cx="144.4" cy="484.5" r="2.5" fill="#2be27e" stroke="#1ea25a" stroke-width="0.5"/>
<circle cx="162" cy="489.2" r="2.5" fill="#2be27e" stroke="#1ea25a" stroke-width="0.5"/>
<circle cx="151.7" cy="496.6" r="2.5" fill="#2be27e" stroke="#1ea25a" stroke-width="0.5"/>
<circle cx="224.9" cy="495.8" r="2.8" fill="#2be27e" stroke="#1ea25a" stroke-width="0.5"/>
<circle cx="213.7" cy="503.5" r="3.5" fill="#2be27e" stroke="#1ea25a" stroke-width="0.5"/>
<circle cx="226.6" cy="510.4" r="2.8" fill="#2be27e" stroke="#1ea25a" stroke-width="0.5"/>
<circle cx="216.3" cy="525.9" r="3.8" fill="#2be27e" stroke="#1ea25a" stroke-width="0.5"/>
<circle cx="33.7" cy="525.2" r="2.8" fill="#2be27e" stroke="#1ea25a" stroke-width="0.5"/>
<circle cx="26.8" cy="536.8" r="1.7" fill="#2be27e" stroke="#1ea25a" stroke-width="0.3"/>
<circle cx="61.8" cy="536.8" r="1.7" fill="#2be27e" stroke="#1ea25a" stroke-width="0.3"/>
<circle cx="58.7" cy="547.1" r="5.2" fill="#2be27e" stroke="#1ea25a" stroke-width="0.5"/>
<circle cx="43.2" cy="551.5" r="3.5" fill="#2be27e" stroke="#1ea25a" stroke-width="0.5"/>
<circle cx="28" cy="557.5" r="3.8" fill="#2be27e" stroke="#1ea25a" stroke-width="0.5"/>
<circle cx="49.6" cy="561" r="4.8" fill="#2be27e" stroke="#1ea25a" stroke-width="0.5"/>
<circle cx="35.4" cy="567" r="3.2" fill="#2be27e" stroke="#1ea25a" stroke-width="0.5"/>
<circle cx="33.7" cy="576" r="3.2" fill="#2be27e" stroke="#1ea25a" stroke-width="0.5"/>
<circle cx="53.9" cy="578.3" r="4.2" fill="#2be27e" stroke="#1ea25a" stroke-width="0.5"/>
<circle cx="200.4" cy="564.1" r="1.8" fill="#2be27e" stroke="#1ea25a" stroke-width="0.5"/>
<circle cx="188.6" cy="569.1" r="1.8" fill="#2be27e" stroke="#1ea25a" stroke-width="0.5"/>
<circle cx="205" cy="577" r="2.5" fill="#2be27e" stroke="#1ea25a" stroke-width="0.5"/>
<circle cx="192.6" cy="582.1" r="2" fill="#2be27e" stroke="#1ea25a" stroke-width="0.5"/>
<circle cx="218.9" cy="584.3" r="1.4" fill="#2be27e" stroke="#1ea25a" stroke-width="0.3"/>
<circle cx="233.5" cy="590.2" r="2" fill="#2be27e" stroke="#1ea25a" stroke-width="0.5"/>
<circle cx="245.3" cy="495.4" r="2.8" fill="#f6b611" stroke="#b1830c" stroke-width="0.5"/>
<circle cx="259.4" cy="497" r="2" fill="#f6b611" stroke="#b1830c" stroke-width="0.5"/>
<circle cx="76" cy="577.8" r="4.2" fill="#f6b611" stroke="#b1830c" stroke-width="0.5"/>
<circle cx="89.8" cy="580" r="2.8" fill="#f6b611" stroke="#b1830c" stroke-width="0.5"/>
<circle cx="251.7" cy="510.4" r="2.2" fill="#f26d0d" stroke="#ae4e09" stroke-width="0.5"/>
<circle cx="250.8" cy="527.3" r="0.8" fill="#f26d0d" stroke="#ae4e09" stroke-width="0.3"/>
<circle cx="203.3" cy="534.7" r="1.2" fill="#e01b1b" stroke="#a11313" stroke-width="0.3"/>
<circle cx="208.8" cy="550.6" r="0.8" fill="#e01b1b" stroke="#a11313" stroke-width="0.3"/>
<circle cx="158.6" cy="564.4" r="2" fill="#a54cc4" stroke="#76368d" stroke-width="0.5"/>
<circle cx="147" cy="580.4" r="3.2" fill="#a54cc4" stroke="#76368d" stroke-width="0.5"/>
<circle cx="158.6" cy="578.6" r="2.8" fill="#a54cc4" stroke="#76368d" stroke-width="0.5"/>
<circle cx="169.8" cy="580.7" r="2.8" fill="#a54cc4" stroke="#76368d" stroke-width="0.5"/>
<circle cx="157.9" cy="595" r="2.8" fill="#c9c9c9" stroke="#909090" stroke-width="0.5"/>
<circle cx="141.3" cy="597.3" r="0.7" fill="#bdbdbd" stroke="#888888" stroke-width="0.3"/>
<circle cx="343.6" cy="494" r="0.8" fill="#0d52b8" stroke="#093b84" stroke-width="0.3"/>
<circle cx="351.9" cy="499.7" r="1.2" fill="#0d52b8" stroke="#093b84" stroke-width="0.3"/>
<circle cx="465" cy="601.3" r="2.8" fill="#0f3f7d" stroke="#0a2d5a" stroke-width="0.5"/>
<circle cx="477.1" cy="598.7" r="2.8" fill="#0f3f7d" stroke="#0a2d5a" stroke-width="0.5"/>
<circle cx="361.7" cy="507" r="1.8" fill="#f26d0d" stroke="#ae4e09" stroke-width="0.5"/>
<circle cx="403.7" cy="474.2" r="1.8" fill="#f26d0d" stroke="#ae4e09" stroke-width="0.5"/>
<circle cx="406.3" cy="484.2" r="3" fill="#f26d0d" stroke="#ae4e09" stroke-width="0.5"/>
<circle cx="373.8" cy="510.8" r="2" fill="#f26d0d" stroke="#ae4e09" stroke-width="0.5"/>
<circle cx="456" cy="493.5" r="2.5" fill="#f26d0d" stroke="#ae4e09" stroke-width="0.5"/>
<circle cx="464" cy="503.1" r="2.5" fill="#f26d0d" stroke="#ae4e09" stroke-width="0.5"/>
<circle cx="330.5" cy="573.3" r="3.5" fill="#f26d0d" stroke="#ae4e09" stroke-width="0.5"/>
<circle cx="331.6" cy="589.2" r="3" fill="#f26d0d" stroke="#ae4e09" stroke-width="0.5"/>
<circle cx="369.5" cy="461.6" r="1.8" fill="#f6b611" stroke="#b1830c" stroke-width="0.5"/>
<circle cx="367.4" cy="475.9" r="0.8" fill="#f6b611" stroke="#b1830c" stroke-width="0.3"/>
<circle cx="416.7" cy="508.7" r="0.8" fill="#f6b611" stroke="#b1830c" stroke-width="0.3"/>
<circle cx="418.2" cy="517.8" r="0.8" fill="#f6b611" stroke="#b1830c" stroke-width="0.3"/>
<circle cx="476" cy="467.3" r="0.8" fill="#f6b611" stroke="#b1830c" stroke-width="0.3"/>
<circle cx="468.7" cy="475.1" r="1.8" fill="#f6b611" stroke="#b1830c" stroke-width="0.5"/>
<circle cx="302.6" cy="565.6" r="2.8" fill="#f6b611" stroke="#b1830c" stroke-width="0.5"/>
<circle cx="298" cy="571.5" r="2.8" fill="#f6b611" stroke="#b1830c" stroke-width="0.5"/>
<circle cx="506.3" cy="588.8" r="2" fill="#f6b611" stroke="#b1830c" stroke-width="0.5"/>
<circle cx="515.1" cy="588.3" r="2" fill="#f6b611" stroke="#b1830c" stroke-width="0.5"/>
<circle cx="506" cy="599.5" r="2.8" fill="#f6b611" stroke="#b1830c" stroke-width="0.5"/>
<circle cx="515.4" cy="597.8" r="2" fill="#f6b611" stroke="#b1830c" stroke-width="0.5"/>
<circle cx="371" cy="482.2" r="3.2" fill="#0b8a1c" stroke="#076314" stroke-width="0.5"/>
<circle cx="383" cy="467.6" r="1.4" fill="#0a7218" stroke="#075211" stroke-width="0.3"/>
<circle cx="531.3" cy="466.7" r="0.8" fill="#0a5a18" stroke="#074011" stroke-width="0.3"/>
<circle cx="529.5" cy="476.4" r="1.4" fill="#0a7218" stroke="#075211" stroke-width="0.3"/>
<circle cx="527.6" cy="487.3" r="2" fill="#0b8a1c" stroke="#076314" stroke-width="0.5"/>
<circle cx="519.6" cy="495.8" r="2" fill="#0b8a1c" stroke="#076314" stroke-width="0.5"/>
<circle cx="530.5" cy="500" r="3.2" fill="#0b8a1c" stroke="#076314" stroke-width="0.5"/>
<circle cx="536" cy="505.8" r="2" fill="#0b8a1c" stroke="#076314" stroke-width="0.5"/>
<circle cx="520" cy="508.5" r="3.2" fill="#0b8a1c" stroke="#076314" stroke-width="0.5"/>
<circle cx="499.6" cy="512" r="1.4" fill="#0a7218" stroke="#075211" stroke-width="0.3"/>
<circle cx="531.3" cy="513.6" r="1.8" fill="#0a7218" stroke="#075211" stroke-width="0.5"/>
<circle cx="509" cy="517.8" r="2.5" fill="#0b8a1c" stroke="#076314" stroke-width="0.5"/>
<circle cx="497.8" cy="521.2" r="1.7" fill="#0a7218" stroke="#075211" stroke-width="0.3"/>
<circle cx="510.6" cy="528.7" r="0.8" fill="#0a5a18" stroke="#074011" stroke-width="0.3"/>
<circle cx="498.5" cy="538.8" r="1.4" fill="#0a7218" stroke="#075211" stroke-width="0.3"/>
<circle cx="507.7" cy="544.5" r="2" fill="#0b8a1c" stroke="#076314" stroke-width="0.5"/>
<circle cx="498.5" cy="549.4" r="2" fill="#0b8a1c" stroke="#076314" stroke-width="0.5"/>
<circle cx="508" cy="556.6" r="2.8" fill="#0b8a1c" stroke="#076314" stroke-width="0.5"/>
<circle cx="518.4" cy="562.7" r="0.8" fill="#0a5a18" stroke="#074011" stroke-width="0.3"/>
<circle cx="504.7" cy="568.4" r="1.4" fill="#0a7218" stroke="#075211" stroke-width="0.3"/>
<circle cx="463.6" cy="556.1" r="1.4" fill="#0a7218" stroke="#075211" stroke-width="0.3"/>
<circle cx="455.8" cy="548.6" r="2" fill="#0b8a1c" stroke="#076314" stroke-width="0.5"/>
<circle cx="455.5" cy="559.7" r="1.1" fill="#0a5a18" stroke="#074011" stroke-width="0.3"/>
<circle cx="426.8" cy="536.4" r="2.5" fill="#0b8a1c" stroke="#076314" stroke-width="0.5"/>
<circle cx="450.8" cy="536.8" r="2" fill="#0b8a1c" stroke="#076314" stroke-width="0.5"/>
<circle cx="441" cy="541.6" r="0.8" fill="#0a5a18" stroke="#074011" stroke-width="0.3"/>
<circle cx="411.6" cy="544.2" r="2.5" fill="#0b8a1c" stroke="#076314" stroke-width="0.5"/>
<circle cx="370" cy="549.4" r="2.5" fill="#0b8a1c" stroke="#076314" stroke-width="0.5"/>
<circle cx="407.8" cy="558.4" r="0.8" fill="#0a5a18" stroke="#074011" stroke-width="0.3"/>
<circle cx="341.5" cy="557.2" r="1.4" fill="#0a7218" stroke="#075211" stroke-width="0.3"/>
<circle cx="340.3" cy="567" r="1.8" fill="#0a7218" stroke="#075211" stroke-width="0.5"/>
<circle cx="288" cy="567.3" r="3.2" fill="#0b8a1c" stroke="#076314" stroke-width="0.5"/>
<circle cx="314.2" cy="567.3" r="6.2" fill="#0b8a1c" stroke="#076314" stroke-width="0.5"/>
<circle cx="303.2" cy="579.2" r="5.2" fill="#0b8a1c" stroke="#076314" stroke-width="0.5"/>
<circle cx="321.6" cy="579.7" r="5.8" fill="#0b8a1c" stroke="#076314" stroke-width="0.5"/>
<circle cx="288.5" cy="582.3" r="1.2" fill="#0a5a18" stroke="#074011" stroke-width="0.3"/>
<circle cx="295.7" cy="588.7" r="3" fill="#0b8a1c" stroke="#076314" stroke-width="0.5"/>
<circle cx="313.3" cy="590.9" r="5.2" fill="#0b8a1c" stroke="#076314" stroke-width="0.5"/>
<circle cx="310.1" cy="608.5" r="2.5" fill="#0b8a1c" stroke="#076314" stroke-width="0.5"/>
<circle cx="315.9" cy="616.5" r="1.8" fill="#0a7218" stroke="#075211" stroke-width="0.5"/>
<circle cx="309.5" cy="623.7" r="2.5" fill="#0b8a1c" stroke="#076314" stroke-width="0.5"/>
<circle cx="402.1" cy="574.8" r="0.8" fill="#0a5a18" stroke="#074011" stroke-width="0.3"/>
<circle cx="502" cy="578" r="0.8" fill="#0a5a18" stroke="#074011" stroke-width="0.3"/>
<circle cx="389" cy="478.5" r="4.8" fill="#2be27e" stroke="#1ea25a" stroke-width="0.5"/>
<circle cx="418.4" cy="478.2" r="2.8" fill="#2be27e" stroke="#1ea25a" stroke-width="0.5"/>
<circle cx="440.3" cy="485.1" r="2.8" fill="#2be27e" stroke="#1ea25a" stroke-width="0.5"/>
<circle cx="417.9" cy="492.8" r="1.8" fill="#2be27e" stroke="#1ea25a" stroke-width="0.5"/>
<circle cx="437.2" cy="495.8" r="1.8" fill="#2be27e" stroke="#1ea25a" stroke-width="0.5"/>
<circle cx="430.8" cy="499.7" r="1.8" fill="#2be27e" stroke="#1ea25a" stroke-width="0.5"/>
<circle cx="402" cy="498.7" r="4.8" fill="#2be27e" stroke="#1ea25a" stroke-width="0.5"/>
<circle cx="442.9" cy="503.9" r="3.2" fill="#2be27e" stroke="#1ea25a" stroke-width="0.5"/>
<circle cx="437.7" cy="511.8" r="2.8" fill="#2be27e" stroke="#1ea25a" stroke-width="0.5"/>
<circle cx="454.3" cy="509" r="4" fill="#2be27e" stroke="#1ea25a" stroke-width="0.5"/>
<circle cx="480" cy="478.2" r="3.2" fill="#2be27e" stroke="#1ea25a" stroke-width="0.5"/>
<circle cx="486.4" cy="486.4" r="1.8" fill="#2be27e" stroke="#1ea25a" stroke-width="0.5"/>
<circle cx="470.5" cy="488.7" r="3.2" fill="#2be27e" stroke="#1ea25a" stroke-width="0.5"/>
<circle cx="481.8" cy="493.1" r="1.8" fill="#2be27e" stroke="#1ea25a" stroke-width="0.5"/>
<circle cx="389.8" cy="516" r="4" fill="#2be27e" stroke="#1ea25a" stroke-width="0.5"/>
<circle cx="374.5" cy="521.7" r="3.2" fill="#2be27e" stroke="#1ea25a" stroke-width="0.5"/>
<circle cx="450.8" cy="522.1" r="2.5" fill="#2be27e" stroke="#1ea25a" stroke-width="0.5"/>
<circle cx="465.4" cy="517.4" r="1.4" fill="#2be27e" stroke="#1ea25a" stroke-width="0.3"/>
<circle cx="353.2" cy="517.8" r="1.8" fill="#2be27e" stroke="#1ea25a" stroke-width="0.5"/>
<circle cx="343.7" cy="525" r="1.8" fill="#2be27e" stroke="#1ea25a" stroke-width="0.5"/>
<circle cx="355.3" cy="529.9" r="1.8" fill="#2be27e" stroke="#1ea25a" stroke-width="0.5"/>
<circle cx="356.5" cy="544.9" r="2.5" fill="#2be27e" stroke="#1ea25a" stroke-width="0.5"/>
<circle cx="370.6" cy="556.3" r="2.5" fill="#2be27e" stroke="#1ea25a" stroke-width="0.5"/>
<circle cx="353.2" cy="561.3" r="3" fill="#2be27e" stroke="#1ea25a" stroke-width="0.5"/>
<circle cx="364" cy="567.9" r="2" fill="#2be27e" stroke="#1ea25a" stroke-width="0.5"/>
<circle cx="302.1" cy="616.3" r="2" fill="#2be27e" stroke="#1ea25a" stroke-width="0.5"/>
<circle cx="299.2" cy="628" r="0.8" fill="#2be27e" stroke="#1ea25a" stroke-width="0.3"/>
<circle cx="432.9" cy="607.7" r="1.2" fill="#2be27e" stroke="#1ea25a" stroke-width="0.3"/>
<circle cx="453.6" cy="605.9" r="1.4" fill="#2be27e" stroke="#1ea25a" stroke-width="0.3"/>
<circle cx="443.6" cy="610.4" r="2" fill="#2be27e" stroke="#1ea25a" stroke-width="0.5"/>
<circle cx="435.8" cy="617.3" r="1.4" fill="#2be27e" stroke="#1ea25a" stroke-width="0.3"/>
<circle cx="480" cy="588" r="1.4" fill="#2be27e" stroke="#1ea25a" stroke-width="0.3"/>
<circle cx="470" cy="590.6" r="1.8" fill="#2be27e" stroke="#1ea25a" stroke-width="0.5"/>
<circle cx="473.1" cy="609" r="1.4" fill="#2be27e" stroke="#1ea25a" stroke-width="0.3"/>
<circle cx="379.5" cy="496.6" r="4" fill="#f27acb" stroke="#ae5792" stroke-width="0.5"/>
<circle cx="387.1" cy="505.8" r="5.2" fill="#f27acb" stroke="#ae5792" stroke-width="0.5"/>
<circle cx="389.7" cy="488.3" r="3" fill="#c9c9c9" stroke="#909090" stroke-width="0.5"/>
<circle cx="405.6" cy="515.2" r="2.5" fill="#c9c9c9" stroke="#909090" stroke-width="0.5"/>
<circle cx="393.5" cy="529.9" r="3.8" fill="#c9c9c9" stroke="#909090" stroke-width="0.5"/>
<circle cx="393.5" cy="540.7" r="3.8" fill="#c9c9c9" stroke="#909090" stroke-width="0.5"/>
<circle cx="397.5" cy="563.5" r="1.8" fill="#c9c9c9" stroke="#909090" stroke-width="0.5"/>
<circle cx="412" cy="530.4" r="2" fill="#a54cc4" stroke="#76368d" stroke-width="0.5"/>
<circle cx="378.3" cy="538.2" r="5.2" fill="#a54cc4" stroke="#76368d" stroke-width="0.5"/>
<circle cx="386.2" cy="551.1" r="4.2" fill="#a54cc4" stroke="#76368d" stroke-width="0.5"/>
<circle cx="398.2" cy="550.6" r="5.2" fill="#a54cc4" stroke="#76368d" stroke-width="0.5"/>
<circle cx="403.3" cy="537.3" r="2.5" fill="#14c6ec" stroke="#0e8ea9" stroke-width="0.5"/>
<circle cx="497" cy="607" r="0.8" fill="#e03060" stroke="#a12245" stroke-width="0.3"/>
<circle cx="490.4" cy="613.4" r="0.8" fill="#e03060" stroke="#a12245" stroke-width="0.3"/>
<circle cx="70.8" cy="646.7" r="0.8" fill="#f6b611" stroke="#b1830c" stroke-width="0.3"/>
<circle cx="74.3" cy="660" r="1.7" fill="#f6b611" stroke="#b1830c" stroke-width="0.3"/>
<circle cx="59.6" cy="722.6" r="1.7" fill="#f6b611" stroke="#b1830c" stroke-width="0.3"/>
<circle cx="47" cy="718" r="0.8" fill="#f6b611" stroke="#b1830c" stroke-width="0.3"/>
<circle cx="118.2" cy="735.2" r="1.8" fill="#f6b611" stroke="#b1830c" stroke-width="0.5"/>
<circle cx="123.3" cy="748.9" r="2.5" fill="#f6b611" stroke="#b1830c" stroke-width="0.5"/>
<circle cx="258.6" cy="682.8" r="0.8" fill="#f6b611" stroke="#b1830c" stroke-width="0.3"/>
<circle cx="240.4" cy="735.2" r="1.8" fill="#f6b611" stroke="#b1830c" stroke-width="0.5"/>
<circle cx="252.5" cy="739.9" r="1.4" fill="#f6b611" stroke="#b1830c" stroke-width="0.3"/>
<circle cx="193.5" cy="746.5" r="0.8" fill="#f6b611" stroke="#b1830c" stroke-width="0.3"/>
<circle cx="186.9" cy="751.1" r="0.8" fill="#f6b611" stroke="#b1830c" stroke-width="0.3"/>
<circle cx="86.4" cy="663.8" r="1.2" fill="#0a5a18" stroke="#074011" stroke-width="0.3"/>
<circle cx="77.5" cy="674.3" r="2.5" fill="#0b8a1c" stroke="#076314" stroke-width="0.5"/>
<circle cx="13.5" cy="684.2" r="0.8" fill="#0a5a18" stroke="#074011" stroke-width="0.3"/>
<circle cx="162.5" cy="686" r="1.4" fill="#0a7218" stroke="#075211" stroke-width="0.3"/>
<circle cx="157.4" cy="698.9" r="1.4" fill="#0a7218" stroke="#075211" stroke-width="0.3"/>
<circle cx="119.4" cy="696.9" r="0.8" fill="#0a5a18" stroke="#074011" stroke-width="0.3"/>
<circle cx="233.2" cy="646.7" r="1.8" fill="#0a7218" stroke="#075211" stroke-width="0.5"/>
<circle cx="223.7" cy="652.3" r="1.8" fill="#0a7218" stroke="#075211" stroke-width="0.5"/>
<circle cx="238.2" cy="656.9" r="1.8" fill="#0a7218" stroke="#075211" stroke-width="0.5"/>
<circle cx="228.4" cy="663.2" r="2.8" fill="#0b8a1c" stroke="#076314" stroke-width="0.5"/>
<circle cx="220.2" cy="674.7" r="2.8" fill="#0b8a1c" stroke="#076314" stroke-width="0.5"/>
<circle cx="230.6" cy="677" r="2" fill="#0b8a1c" stroke="#076314" stroke-width="0.5"/>
<circle cx="208.2" cy="679.4" r="1.8" fill="#0a7218" stroke="#075211" stroke-width="0.5"/>
<circle cx="218.5" cy="686.5" r="3" fill="#0b8a1c" stroke="#076314" stroke-width="0.5"/>
<circle cx="229.2" cy="688.5" r="1.8" fill="#0a7218" stroke="#075211" stroke-width="0.5"/>
<circle cx="206.8" cy="693.2" r="1.8" fill="#0a7218" stroke="#075211" stroke-width="0.5"/>
<circle cx="111.1" cy="707.4" r="0.8" fill="#0a5a18" stroke="#074011" stroke-width="0.3"/>
<circle cx="138" cy="704.8" r="1.7" fill="#0a7218" stroke="#075211" stroke-width="0.3"/>
<circle cx="150.4" cy="711.4" r="2.8" fill="#0b8a1c" stroke="#076314" stroke-width="0.5"/>
<circle cx="130.9" cy="718" r="1.8" fill="#0a7218" stroke="#075211" stroke-width="0.5"/>
<circle cx="161.7" cy="719.2" r="0.8" fill="#0a5a18" stroke="#074011" stroke-width="0.3"/>
<circle cx="173.8" cy="727.5" r="0.8" fill="#0a5a18" stroke="#074011" stroke-width="0.3"/>
<circle cx="109" cy="741.6" r="3.2" fill="#0b8a1c" stroke="#076314" stroke-width="0.5"/>
<circle cx="108.1" cy="747.7" r="3.8" fill="#0b8a1c" stroke="#076314" stroke-width="0.5"/>
<circle cx="114.7" cy="754.1" r="4.2" fill="#0b8a1c" stroke="#076314" stroke-width="0.5"/>
<circle cx="110.7" cy="759" r="3.8" fill="#0b8a1c" stroke="#076314" stroke-width="0.5"/>
<circle cx="128" cy="767.3" r="1.8" fill="#0a7218" stroke="#075211" stroke-width="0.5"/>
<circle cx="115" cy="773.3" r="2" fill="#0b8a1c" stroke="#076314" stroke-width="0.5"/>
<circle cx="126.8" cy="784.2" r="1.2" fill="#0a5a18" stroke="#074011" stroke-width="0.3"/>
<circle cx="175.1" cy="767.3" r="0.8" fill="#0a5a18" stroke="#074011" stroke-width="0.3"/>
<circle cx="184.6" cy="775.9" r="1.8" fill="#0a7218" stroke="#075211" stroke-width="0.5"/>
<circle cx="179.5" cy="784.5" r="1.4" fill="#0a7218" stroke="#075211" stroke-width="0.3"/>
<circle cx="173.8" cy="792" r="0.8" fill="#0a5a18" stroke="#074011" stroke-width="0.3"/>
<circle cx="198.7" cy="704" r="1.4" fill="#0a7218" stroke="#075211" stroke-width="0.3"/>
<circle cx="191.2" cy="715.2" r="0.8" fill="#0a5a18" stroke="#074011" stroke-width="0.3"/>
<circle cx="220.6" cy="727.3" r="0.8" fill="#0a5a18" stroke="#074011" stroke-width="0.3"/>
<circle cx="250.5" cy="726.6" r="1.4" fill="#0a7218" stroke="#075211" stroke-width="0.3"/>
<circle cx="212.8" cy="738.5" r="1.7" fill="#0a7218" stroke="#075211" stroke-width="0.3"/>
<circle cx="230.1" cy="741.3" r="2.2" fill="#0b8a1c" stroke="#076314" stroke-width="0.5"/>
<circle cx="203" cy="742.5" r="1.7" fill="#0a7218" stroke="#075211" stroke-width="0.3"/>
<circle cx="90.2" cy="677.4" r="4" fill="#f27acb" stroke="#ae5792" stroke-width="0.5"/>
<circle cx="66.2" cy="681.4" r="3" fill="#f27acb" stroke="#ae5792" stroke-width="0.5"/>
<circle cx="140.6" cy="715.2" r="1.8" fill="#f27acb" stroke="#ae5792" stroke-width="0.5"/>
<circle cx="143.5" cy="725.6" r="0.8" fill="#f27acb" stroke="#ae5792" stroke-width="0.3"/>
<circle cx="78.9" cy="690.1" r="4" fill="#14c6ec" stroke="#0e8ea9" stroke-width="0.5"/>
<circle cx="73.1" cy="695.9" r="2.8" fill="#2be27e" stroke="#1ea25a" stroke-width="0.5"/>
<circle cx="61.7" cy="700.8" r="3.2" fill="#2be27e" stroke="#1ea25a" stroke-width="0.5"/>
<circle cx="81.5" cy="704" r="4.2" fill="#2be27e" stroke="#1ea25a" stroke-width="0.5"/>
<circle cx="95" cy="697.8" r="2.2" fill="#2be27e" stroke="#1ea25a" stroke-width="0.5"/>
<circle cx="98.6" cy="684.9" r="2.2" fill="#2be27e" stroke="#1ea25a" stroke-width="0.5"/>
<circle cx="29.4" cy="660" r="0.8" fill="#2be27e" stroke="#1ea25a" stroke-width="0.3"/>
<circle cx="34.2" cy="669.5" r="0.8" fill="#2be27e" stroke="#1ea25a" stroke-width="0.3"/>
<circle cx="15.2" cy="673" r="1.7" fill="#2be27e" stroke="#1ea25a" stroke-width="0.3"/>
<circle cx="28.5" cy="689.1" r="0.8" fill="#2be27e" stroke="#1ea25a" stroke-width="0.3"/>
<circle cx="32.8" cy="696.4" r="0.8" fill="#2be27e" stroke="#1ea25a" stroke-width="0.3"/>
<circle cx="43.7" cy="753.2" r="1.8" fill="#2be27e" stroke="#1ea25a" stroke-width="0.5"/>
<circle cx="27.6" cy="760" r="1.7" fill="#2be27e" stroke="#1ea25a" stroke-width="0.3"/>
<circle cx="42.3" cy="769.9" r="2.8" fill="#2be27e" stroke="#1ea25a" stroke-width="0.5"/>
<circle cx="28.2" cy="774.5" r="1.7" fill="#2be27e" stroke="#1ea25a" stroke-width="0.3"/>
<circle cx="198.7" cy="758.4" r="0.8" fill="#2be27e" stroke="#1ea25a" stroke-width="0.3"/>
<circle cx="210.7" cy="763.5" r="2.8" fill="#2be27e" stroke="#1ea25a" stroke-width="0.5"/>
<circle cx="222.3" cy="765.5" r="1.8" fill="#2be27e" stroke="#1ea25a" stroke-width="0.5"/>
<circle cx="195.9" cy="769.9" r="3.2" fill="#2be27e" stroke="#1ea25a" stroke-width="0.5"/>
<circle cx="214.2" cy="772.1" r="3.2" fill="#2be27e" stroke="#1ea25a" stroke-width="0.5"/>
<circle cx="219.4" cy="778" r="2.8" fill="#2be27e" stroke="#1ea25a" stroke-width="0.5"/>
<circle cx="203.3" cy="780.7" r="2.2" fill="#2be27e" stroke="#1ea25a" stroke-width="0.5"/>
<circle cx="207.6" cy="786.3" r="2" fill="#2be27e" stroke="#1ea25a" stroke-width="0.5"/>
<circle cx="17.8" cy="664" r="1.8" fill="#0f3f7d" stroke="#0a2d5a" stroke-width="0.5"/>
<circle cx="25.9" cy="679.9" r="2" fill="#0f3f7d" stroke="#0a2d5a" stroke-width="0.5"/>
<circle cx="84.6" cy="738.2" r="0.8" fill="#0f3f7d" stroke="#0a2d5a" stroke-width="0.3"/>
<circle cx="79.4" cy="746.8" r="1.2" fill="#0f3f7d" stroke="#0a2d5a" stroke-width="0.3"/>
<circle cx="250.3" cy="691.6" r="1.2" fill="#0f3f7d" stroke="#0a2d5a" stroke-width="0.3"/>
<circle cx="244.6" cy="699" r="1.4" fill="#0f3f7d" stroke="#0a2d5a" stroke-width="0.3"/>
<circle cx="70.3" cy="711.9" r="1.4" fill="#c9c9c9" stroke="#909090" stroke-width="0.3"/>
<circle cx="175" cy="646.7" r="0.8" fill="#f26d0d" stroke="#ae4e09" stroke-width="0.3"/>
<circle cx="171.2" cy="659.7" r="1.2" fill="#f26d0d" stroke="#ae4e09" stroke-width="0.3"/>
<circle cx="166.9" cy="672.7" r="1.2" fill="#f26d0d" stroke="#ae4e09" stroke-width="0.3"/>
<circle cx="63" cy="749.8" r="0.8" fill="#f26d0d" stroke="#ae4e09" stroke-width="0.3"/>
<circle cx="68.2" cy="757" r="1.8" fill="#f26d0d" stroke="#ae4e09" stroke-width="0.5"/>
<circle cx="96.9" cy="747.3" r="2.5" fill="#f26d0d" stroke="#ae4e09" stroke-width="0.5"/>
<circle cx="99.5" cy="759.8" r="2.2" fill="#f26d0d" stroke="#ae4e09" stroke-width="0.5"/>
<circle cx="238.7" cy="707.6" r="1.2" fill="#f26d0d" stroke="#ae4e09" stroke-width="0.3"/>
<circle cx="234.9" cy="714.5" r="0.8" fill="#f26d0d" stroke="#ae4e09" stroke-width="0.3"/>
<circle cx="332" cy="670.9" r="0.8" fill="#0a5a18" stroke="#074011" stroke-width="0.3"/>
<circle cx="395.2" cy="644.5" r="2" fill="#0b8a1c" stroke="#076314" stroke-width="0.5"/>
<circle cx="391.3" cy="650.5" r="2" fill="#0b8a1c" stroke="#076314" stroke-width="0.5"/>
<circle cx="385.7" cy="656.2" r="2" fill="#0b8a1c" stroke="#076314" stroke-width="0.5"/>
<circle cx="400.8" cy="656.6" r="2" fill="#0b8a1c" stroke="#076314" stroke-width="0.5"/>
<circle cx="392.6" cy="664" r="2.5" fill="#0b8a1c" stroke="#076314" stroke-width="0.5"/>
<circle cx="391.8" cy="681.3" r="2" fill="#0b8a1c" stroke="#076314" stroke-width="0.5"/>
<circle cx="432.4" cy="666.6" r="1.7" fill="#0a7218" stroke="#075211" stroke-width="0.3"/>
<circle cx="423.7" cy="674.7" r="2" fill="#0b8a1c" stroke="#076314" stroke-width="0.5"/>
<circle cx="439.3" cy="677" r="1.7" fill="#0a7218" stroke="#075211" stroke-width="0.3"/>
<circle cx="430.1" cy="684.6" r="2" fill="#0b8a1c" stroke="#076314" stroke-width="0.5"/>
<circle cx="416.8" cy="688.5" r="2" fill="#0b8a1c" stroke="#076314" stroke-width="0.5"/>
<circle cx="403.9" cy="692" r="2" fill="#0b8a1c" stroke="#076314" stroke-width="0.5"/>
<circle cx="454.8" cy="657.1" r="1.7" fill="#0a7218" stroke="#075211" stroke-width="0.3"/>
<circle cx="449.6" cy="668.2" r="1.7" fill="#0a7218" stroke="#075211" stroke-width="0.3"/>
<circle cx="459.2" cy="674.4" r="2" fill="#0b8a1c" stroke="#076314" stroke-width="0.5"/>
<circle cx="464.5" cy="663" r="2" fill="#0b8a1c" stroke="#076314" stroke-width="0.5"/>
<circle cx="483.5" cy="667.3" r="0.8" fill="#0a5a18" stroke="#074011" stroke-width="0.3"/>
<circle cx="472.3" cy="675.2" r="2" fill="#0b8a1c" stroke="#076314" stroke-width="0.5"/>
<circle cx="478.3" cy="689.4" r="1.2" fill="#0a5a18" stroke="#074011" stroke-width="0.3"/>
<circle cx="518.4" cy="657.1" r="1.8" fill="#0a7218" stroke="#075211" stroke-width="0.5"/>
<circle cx="508.2" cy="660.4" r="1.7" fill="#0a7218" stroke="#075211" stroke-width="0.3"/>
<circle cx="521.8" cy="669.2" r="1.8" fill="#0a7218" stroke="#075211" stroke-width="0.5"/>
<circle cx="511.6" cy="672.7" r="2.2" fill="#0b8a1c" stroke="#076314" stroke-width="0.5"/>
<circle cx="506.5" cy="687.2" r="1.4" fill="#0a7218" stroke="#075211" stroke-width="0.3"/>
<circle cx="306.1" cy="706.7" r="3.2" fill="#0b8a1c" stroke="#076314" stroke-width="0.5"/>
<circle cx="319.9" cy="707.4" r="3.8" fill="#0b8a1c" stroke="#076314" stroke-width="0.5"/>
<circle cx="299.7" cy="716.2" r="2.2" fill="#0b8a1c" stroke="#076314" stroke-width="0.5"/>
<circle cx="313.3" cy="714.3" r="3.8" fill="#0b8a1c" stroke="#076314" stroke-width="0.5"/>
<circle cx="324.2" cy="713.1" r="2.8" fill="#0b8a1c" stroke="#076314" stroke-width="0.5"/>
<circle cx="313" cy="720.9" r="4.2" fill="#0b8a1c" stroke="#076314" stroke-width="0.5"/>
<circle cx="326.8" cy="719.2" r="4.8" fill="#0b8a1c" stroke="#076314" stroke-width="0.5"/>
<circle cx="323.4" cy="724.4" r="3.8" fill="#0b8a1c" stroke="#076314" stroke-width="0.5"/>
<circle cx="312.5" cy="730.9" r="3.8" fill="#0b8a1c" stroke="#076314" stroke-width="0.5"/>
<circle cx="322.5" cy="730.9" r="5.2" fill="#0b8a1c" stroke="#076314" stroke-width="0.5"/>
<circle cx="324.7" cy="739.6" r="2.2" fill="#0b8a1c" stroke="#076314" stroke-width="0.5"/>
<circle cx="312.7" cy="743" r="2.5" fill="#0b8a1c" stroke="#076314" stroke-width="0.5"/>
<circle cx="319.6" cy="755" r="1.8" fill="#0a7218" stroke="#075211" stroke-width="0.5"/>
<circle cx="306.1" cy="757" r="0.8" fill="#0a5a18" stroke="#074011" stroke-width="0.3"/>
<circle cx="375.7" cy="710.2" r="2.2" fill="#0b8a1c" stroke="#076314" stroke-width="0.5"/>
<circle cx="388.7" cy="714" r="0.8" fill="#0a5a18" stroke="#074011" stroke-width="0.3"/>
<circle cx="422.9" cy="703.1" r="0.8" fill="#0a5a18" stroke="#074011" stroke-width="0.3"/>
<circle cx="456.6" cy="722.8" r="0.8" fill="#0a5a18" stroke="#074011" stroke-width="0.3"/>
<circle cx="485.2" cy="702.4" r="0.8" fill="#0a5a18" stroke="#074011" stroke-width="0.3"/>
<circle cx="500.8" cy="701.9" r="0.8" fill="#0a5a18" stroke="#074011" stroke-width="0.3"/>
<circle cx="505.1" cy="727.8" r="2.8" fill="#0b8a1c" stroke="#076314" stroke-width="0.5"/>
<circle cx="513.4" cy="719.7" r="1.8" fill="#0a7218" stroke="#075211" stroke-width="0.5"/>
<circle cx="520.3" cy="728.7" r="2" fill="#0b8a1c" stroke="#076314" stroke-width="0.5"/>
<circle cx="512.9" cy="737.3" r="1.8" fill="#0a7218" stroke="#075211" stroke-width="0.5"/>
<circle cx="465.9" cy="733.9" r="2" fill="#0b8a1c" stroke="#076314" stroke-width="0.5"/>
<circle cx="451.4" cy="767.3" r="1.7" fill="#0a7218" stroke="#075211" stroke-width="0.3"/>
<circle cx="441.5" cy="775.4" r="2.2" fill="#0b8a1c" stroke="#076314" stroke-width="0.5"/>
<circle cx="452.6" cy="776.8" r="3.8" fill="#0b8a1c" stroke="#076314" stroke-width="0.5"/>
<circle cx="450" cy="785.4" r="4.2" fill="#0b8a1c" stroke="#076314" stroke-width="0.5"/>
<circle cx="452.2" cy="794.6" r="2.5" fill="#0b8a1c" stroke="#076314" stroke-width="0.5"/>
<circle cx="464.5" cy="789.2" r="3.2" fill="#0b8a1c" stroke="#076314" stroke-width="0.5"/>
<circle cx="516.7" cy="791.8" r="0.8" fill="#0a5a18" stroke="#074011" stroke-width="0.3"/>
<circle cx="527" cy="782.3" r="1.8" fill="#0a7218" stroke="#075211" stroke-width="0.5"/>
<circle cx="333.4" cy="686.3" r="0.8" fill="#2be27e" stroke="#1ea25a" stroke-width="0.3"/>
<circle cx="333.2" cy="703.1" r="1.1" fill="#2be27e" stroke="#1ea25a" stroke-width="0.3"/>
<circle cx="344.1" cy="714.9" r="1.8" fill="#2be27e" stroke="#1ea25a" stroke-width="0.5"/>
<circle cx="334.9" cy="728.3" r="2.8" fill="#2be27e" stroke="#1ea25a" stroke-width="0.5"/>
<circle cx="344.9" cy="725.7" r="1.7" fill="#2be27e" stroke="#1ea25a" stroke-width="0.3"/>
<circle cx="354.8" cy="728.7" r="4.2" fill="#2be27e" stroke="#1ea25a" stroke-width="0.5"/>
<circle cx="346.3" cy="738.2" r="2.5" fill="#2be27e" stroke="#1ea25a" stroke-width="0.5"/>
<circle cx="360.5" cy="738.2" r="2.5" fill="#2be27e" stroke="#1ea25a" stroke-width="0.5"/>
<circle cx="358.4" cy="745.1" r="2.5" fill="#2be27e" stroke="#1ea25a" stroke-width="0.5"/>
<circle cx="353.1" cy="749.9" r="2.5" fill="#2be27e" stroke="#1ea25a" stroke-width="0.5"/>
<circle cx="368" cy="751" r="2.2" fill="#2be27e" stroke="#1ea25a" stroke-width="0.5"/>
<circle cx="359.6" cy="757.9" r="2.2" fill="#2be27e" stroke="#1ea25a" stroke-width="0.5"/>
<circle cx="363.4" cy="775.4" r="1.7" fill="#2be27e" stroke="#1ea25a" stroke-width="0.3"/>
<circle cx="398.7" cy="775" r="0.8" fill="#2be27e" stroke="#1ea25a" stroke-width="0.3"/>
<circle cx="428.9" cy="779.9" r="1.4" fill="#2be27e" stroke="#1ea25a" stroke-width="0.3"/>
<circle cx="373.6" cy="785.9" r="0.8" fill="#2be27e" stroke="#1ea25a" stroke-width="0.3"/>
<circle cx="410.8" cy="785.4" r="0.8" fill="#2be27e" stroke="#1ea25a" stroke-width="0.3"/>
<circle cx="379.7" cy="791.5" r="0.8" fill="#2be27e" stroke="#1ea25a" stroke-width="0.3"/>
<circle cx="437.5" cy="791.5" r="0.8" fill="#2be27e" stroke="#1ea25a" stroke-width="0.3"/>
<circle cx="489.2" cy="767.3" r="0.8" fill="#2be27e" stroke="#1ea25a" stroke-width="0.3"/>
<circle cx="480.6" cy="778.5" r="0.8" fill="#2be27e" stroke="#1ea25a" stroke-width="0.3"/>
<circle cx="493" cy="782.3" r="0.8" fill="#2be27e" stroke="#1ea25a" stroke-width="0.3"/>
<circle cx="298" cy="697.7" r="1.4" fill="#0f3f7d" stroke="#0a2d5a" stroke-width="0.3"/>
<circle cx="290.9" cy="708.5" r="1.7" fill="#0f3f7d" stroke="#0a2d5a" stroke-width="0.3"/>
<circle cx="466.2" cy="782.8" r="2.8" fill="#0f3f7d" stroke="#0a2d5a" stroke-width="0.5"/>
<circle cx="464.5" cy="797.5" r="2.8" fill="#0f3f7d" stroke="#0a2d5a" stroke-width="0.5"/>
<circle cx="393.5" cy="692" r="1.7" fill="#f26d0d" stroke="#ae4e09" stroke-width="0.3"/>
<circle cx="387.5" cy="698.5" r="2.8" fill="#f26d0d" stroke="#ae4e09" stroke-width="0.5"/>
<circle cx="483.8" cy="715.2" r="1.2" fill="#f26d0d" stroke="#ae4e09" stroke-width="0.3"/>
<circle cx="478.3" cy="729" r="1.8" fill="#f26d0d" stroke="#ae4e09" stroke-width="0.5"/>
<circle cx="491.8" cy="726.6" r="1.8" fill="#f26d0d" stroke="#ae4e09" stroke-width="0.5"/>
<circle cx="368.3" cy="719.2" r="0.8" fill="#f27acb" stroke="#ae5792" stroke-width="0.3"/>
<circle cx="368.1" cy="724.7" r="0.8" fill="#f27acb" stroke="#ae5792" stroke-width="0.3"/>
<circle cx="458.3" cy="746.5" r="0.8" fill="#e03060" stroke="#a12245" stroke-width="0.3"/>
<circle cx="316.5" cy="764.7" r="0.8" fill="#f6b611" stroke="#b1830c" stroke-width="0.3"/>
<circle cx="338.9" cy="769.9" r="0.8" fill="#f6b611" stroke="#b1830c" stroke-width="0.3"/>
<circle cx="310.8" cy="777.6" r="0.8" fill="#f6b611" stroke="#b1830c" stroke-width="0.3"/>
<circle cx="332" cy="781.6" r="0.8" fill="#f6b611" stroke="#b1830c" stroke-width="0.3"/>
<circle cx="304.7" cy="791.5" r="0.8" fill="#f6b611" stroke="#b1830c" stroke-width="0.3"/>
<circle cx="323.9" cy="794" r="0.8" fill="#f6b611" stroke="#b1830c" stroke-width="0.3"/>
<circle cx="298" cy="805.6" r="0.8" fill="#f6b611" stroke="#b1830c" stroke-width="0.3"/>
<circle cx="315.9" cy="806.1" r="0.8" fill="#f6b611" stroke="#b1830c" stroke-width="0.3"/>
<circle cx="530.6" cy="767.3" r="0.8" fill="#f6b611" stroke="#b1830c" stroke-width="0.3"/>
<circle cx="539.1" cy="778.8" r="0.8" fill="#f6b611" stroke="#b1830c" stroke-width="0.3"/>
</g>
<g font-family="Liberation Sans, sans-serif" fill="#2a2a2a" fill-opacity="0.8" stroke="#2a2a2a" stroke-width="0.08" stroke-opacity="0.5" text-rendering="geometricPrecision" text-anchor="middle">
<g font-size="3.5" letter-spacing="-0.078">
<text x="32.3" y="48.3">Bartonella</text>
<text x="47.1" y="51.6">Bartonella</text>
<text x="23.9" y="60.5">Bartonella</text>
<text x="51.1" y="66.4">Bartonella</text>
<text x="28.8" y="72.5">Bartonella</text>
<text x="42.2" y="74.5">Bartonella</text>
<text x="47.1" y="85.2">Gilliamella</text>
<text x="33.6" y="96.2">Gilliamella</text>
<text x="39.4" y="138.3">Gilliamella</text>
<text x="45.8" y="148.8">Gilliamella</text>
<text x="30.5" y="106.8">Lactobacillus</text>
<text x="49.1" y="115.8">Lactobacillus</text>
<text x="88" y="111.2">Lactobacillus</text>
<text x="101" y="94.4">Lactobacillus</text>
<text x="71" y="120.6">Lactobacillus</text>
<text x="32.3" y="125.8">Lactobacillus</text>
<text x="90.8" y="131.4">Lactobacillus</text>
<text x="26" y="142.4">Lactobacillus</text>
<text x="21.9" y="151">Lactobacillus</text>
<text x="43.9" y="156.2">Lactobacillus</text>
<text x="27.7" y="160.5">Lactobacillus</text>
<text x="81.4" y="144.7">Lactobacillus</text>
<text x="58.8" y="166.3">Lactobacillus</text>
<text x="72.7" y="178.9">Lactobacillus</text>
<text x="86.3" y="190.9">Lactobacillus</text>
<text x="68.4" y="198">Lactobacillus</text>
<text x="124.8" y="29.5">Bombilactobacillus</text>
<text x="108.9" y="38">Bombilactobacillus</text>
<text x="126.2" y="49.8">Bombilactobacillus</text>
<text x="131.8" y="58.9">Bombilactobacillus</text>
<text x="117.1" y="65.3">Bombilactobacillus</text>
<text x="126.7" y="76.6">Bombilactobacillus</text>
<text x="118.4" y="82.4">Bombilactobacillus</text>
<text x="144.9" y="53.5">Bombilactobacillus</text>
<text x="157.5" y="62.5">Bombilactobacillus</text>
<text x="150.9" y="68.2">Bombilactobacillus</text>
<text x="139.5" y="87.4">Bombilactobacillus</text>
<text x="152.9" y="92.6">Bombilactobacillus</text>
<text x="100.1" y="154.1">Bombilactobacillus</text>
<text x="78.5" y="160.1">Bombilactobacillus</text>
<text x="89.1" y="168.9">Bombilactobacillus</text>
<text x="90.5" y="175.8">Bombilactobacillus</text>
<text x="117.7" y="159.8">Bombilactobacillus</text>
<text x="125.7" y="147.4">Bombilactobacillus</text>
<text x="126.6" y="171.3">Bombilactobacillus</text>
<text x="138.6" y="162.4">Bombilactobacillus</text>
<text x="159.9" y="44.2">Bifidobacterium</text>
<text x="166.5" y="54.8">Bifidobacterium</text>
<text x="147.6" y="74">Bifidobacterium</text>
<text x="154.7" y="81.5">Bifidobacterium</text>
<text x="148.8" y="131.8">Bifidobacterium</text>
<text x="137.5" y="141.4">Bifidobacterium</text>
<text x="160.4" y="143.1">Bifidobacterium</text>
<text x="155.8" y="155">Bifidobacterium</text>
<text x="197" y="38.2">Lactobacillus</text>
<text x="185.6" y="53.7">Lactobacillus</text>
<text x="183.6" y="62.5">Lactobacillus</text>
<text x="179.6" y="72.7">Lactobacillus</text>
<text x="171.4" y="78.1">Lactobacillus</text>
<text x="198.4" y="81.1">Lactobacillus</text>
<text x="202.4" y="56.4">Lactobacillus</text>
<text x="219.8" y="52">Lactobacillus</text>
<text x="203.9" y="66.9">Lactobacillus</text>
<text x="201.6" y="74.1">Lactobacillus</text>
<text x="168.4" y="88.4">Lactobacillus</text>
<text x="189" y="90.5">Lactobacillus</text>
<text x="171.4" y="94.6">Lactobacillus</text>
<text x="165.2" y="100">Lactobacillus</text>
<text x="188.6" y="100.7">Lactobacillus</text>
<text x="152.2" y="106.1">Lactobacillus</text>
<text x="179" y="107.2">Lactobacillus</text>
<text x="166.6" y="113">Lactobacillus</text>
<text x="194.3" y="114.7">Lactobacillus</text>
<text x="143.9" y="114.7">Lactobacillus</text>
<text x="153.9" y="122.4">Lactobacillus</text>
<text x="180.9" y="121.3">Lactobacillus</text>
<text x="165.2" y="131.9">Lactobacillus</text>
<text x="178.7" y="133.1">Lactobacillus</text>
<text x="205.5" y="93.6">Lactobacillus</text>
<text x="200" y="107.5">Lactobacillus</text>
<text x="239.8" y="86.6">Lactobacillus</text>
<text x="253.7" y="95.5">Lactobacillus</text>
<text x="221.7" y="99.3">Lactobacillus</text>
<text x="238.7" y="103.6">Lactobacillus</text>
<text x="225.5" y="115.2">Lactobacillus</text>
<text x="248.7" y="118.3">Lactobacillus</text>
<text x="202" y="128.8">Lactobacillus</text>
<text x="199.6" y="133">Lactobacillus</text>
<text x="235.3" y="133">Lactobacillus</text>
<text x="188.2" y="139">Lactobacillus</text>
<text x="168.4" y="150.7">Lactobacillus</text>
<text x="186.9" y="165.2">Lactobacillus</text>
<text x="168.9" y="170.4">Lactobacillus</text>
<text x="153.9" y="174.6">Lactobacillus</text>
<text x="155.3" y="182.8">Lactobacillus</text>
<text x="170.6" y="185.6">Lactobacillus</text>
<text x="142.4" y="188.1">Lactobacillus</text>
<text x="157.5" y="200">Lactobacillus</text>
<text x="231" y="57.5">Pantoea</text>
<text x="221.7" y="71.8">Pantoea</text>
<text x="110" y="179.1">Commensalibacter</text>
<text x="249.5" y="28.1">NA</text>
<text x="240.2" y="42.2">NA</text>
<text x="113.2" y="195.6">Commensalibacter</text>
<text x="228.6" y="148.3">Commensalibacter</text>
<text x="221.7" y="164.4">Commensalibacter</text>
</g>
<g font-size="3.08" letter-spacing="-0.068">
<text x="295.1" y="34.7">Lactobacillus</text>
<text x="283.2" y="38.5">Lactobacillus</text>
<text x="299.2" y="47.5">Lactobacillus</text>
<text x="286.8" y="51.3">Lactobacillus</text>
<text x="324.9" y="49.6">Lactobacillus</text>
<text x="312.6" y="57.6">Lactobacillus</text>
<text x="331" y="61.1">Lactobacillus</text>
<text x="324.1" y="70.7">Lactobacillus</text>
<text x="359" y="39.6">Lactobacillus</text>
<text x="364.2" y="28.5">Lactobacillus</text>
<text x="436.4" y="23.8">Lactobacillus</text>
<text x="425.1" y="29">Lactobacillus</text>
<text x="441.5" y="36">Lactobacillus</text>
<text x="429.6" y="41.8">Lactobacillus</text>
<text x="402.9" y="47.5">Lactobacillus</text>
<text x="388.6" y="50.8">Lactobacillus</text>
<text x="420.2" y="53.7">Lactobacillus</text>
<text x="436.6" y="57.6">Lactobacillus</text>
<text x="412.7" y="60.9">Lactobacillus</text>
<text x="396.3" y="66.6">Lactobacillus</text>
<text x="438.9" y="69.8">Lactobacillus</text>
<text x="411.1" y="74.4">Lactobacillus</text>
<text x="429.1" y="73.4">Lactobacillus</text>
<text x="396" y="80.1">Lactobacillus</text>
<text x="412" y="84.8">Lactobacillus</text>
<text x="399.8" y="89.7">Lactobacillus</text>
<text x="441.3" y="84.2">Lactobacillus</text>
<text x="443.5" y="101.7">Lactobacillus</text>
<text x="489.3" y="57.8">Lactobacillus</text>
<text x="504.2" y="61.6">Lactobacillus</text>
<text x="516.8" y="68.3">Lactobacillus</text>
<text x="483.2" y="73.4">Lactobacillus</text>
<text x="455.5" y="75.1">Lactobacillus</text>
<text x="457" y="90.5">Lactobacillus</text>
<text x="476.5" y="88.6">Lactobacillus</text>
<text x="309" y="89.1">Lactobacillus</text>
<text x="322.8" y="97.1">Lactobacillus</text>
<text x="338" y="102">Lactobacillus</text>
<text x="313.8" y="105.8">Lactobacillus</text>
<text x="329" y="109.5">Lactobacillus</text>
<text x="322" y="118.4">Lactobacillus</text>
<text x="485.1" y="152">Lactobacillus</text>
<text x="475.9" y="165.2">Lactobacillus</text>
<text x="478.8" y="24">Bombilactobacillus</text>
<text x="490.2" y="29.8">Bombilactobacillus</text>
<text x="473.1" y="35.5">Bombilactobacillus</text>
<text x="484.1" y="41.8">Bombilactobacillus</text>
<text x="308.9" y="124.6">Bombilactobacillus</text>
<text x="293.5" y="131.9">Bombilactobacillus</text>
<text x="322.5" y="136.4">Bombilactobacillus</text>
<text x="301.2" y="139.6">Bombilactobacillus</text>
<text x="289.7" y="146.6">Bombilactobacillus</text>
<text x="330.6" y="146.1">Bombilactobacillus</text>
<text x="308.2" y="150.2">Bombilactobacillus</text>
<text x="333.6" y="153.2">Bombilactobacillus</text>
<text x="351.4" y="157.6">Bombilactobacillus</text>
<text x="306.1" y="169.9">Bombilactobacillus</text>
<text x="343.7" y="170.2">Bombilactobacillus</text>
<text x="318" y="176.1">Bombilactobacillus</text>
<text x="358.5" y="174.8">Bombilactobacillus</text>
<text x="350.3" y="187.9">Bombilactobacillus</text>
<text x="363" y="163.6">Bombilactobacillus</text>
<text x="365.4" y="192.4">Bombilactobacillus</text>
<text x="383.4" y="94.8">Bombilactobacillus</text>
<text x="408.8" y="95.6">Bombilactobacillus</text>
<text x="396" y="104.1">Bombilactobacillus</text>
<text x="399.3" y="113.6">Bombilactobacillus</text>
<text x="318" y="158.4">Bifidobacterium</text>
<text x="328.2" y="166.3">Bifidobacterium</text>
<text x="332" y="185.1">Bifidobacterium</text>
<text x="319.7" y="190.6">Bifidobacterium</text>
<text x="319.2" y="196">Bifidobacterium</text>
<text x="335.2" y="198.8">Bifidobacterium</text>
<text x="438.1" y="162.8">Bifidobacterium</text>
<text x="450.7" y="156.8">Bifidobacterium</text>
<text x="394" y="152.2">Pantoea</text>
<text x="406.6" y="152.2">Pantoea</text>
<text x="393.2" y="166.1">Pantoea</text>
<text x="406.3" y="166.1">Pantoea</text>
<text x="427.6" y="152.2">Snodgrassella</text>
<text x="422.7" y="166.6">Snodgrassella</text>
<text x="467" y="177.6">Snodgrassella</text>
<text x="379.6" y="74.2">Gilliamella</text>
<text x="364.5" y="77.5">Gilliamella</text>
<text x="515.6" y="52.3">Gilliamella</text>
<text x="529" y="59.4">Gilliamella</text>
<text x="493.5" y="111.1">Bartonella</text>
<text x="515" y="116.8">Bartonella</text>
<text x="501.3" y="122.5">Bartonella</text>
<text x="501.3" y="132.7">Bartonella</text>
<text x="485.1" y="139.4">Bartonella</text>
<text x="508.9" y="145.3">Bartonella</text>
<text x="352.3" y="54.9">Commensalibacter</text>
<text x="345.4" y="69.1">Commensalibacter</text>
<text x="513.1" y="85.1">Commensalibacter</text>
<text x="422.2" y="89.7">Enterobacter</text>
<text x="381" y="175.9">NA</text>
<text x="371.5" y="187.5">NA</text>
<text x="443.5" y="180.2">Pantoea</text>
<text x="509.3" y="100.6">Commensalibacter</text>
</g>
<g font-size="2.87" letter-spacing="-0.064">
<text x="76.1" y="237.3">Bombilactobacillus</text>
<text x="81.8" y="250.4">Bombilactobacillus</text>
<text x="91.3" y="231.5">Bombilactobacillus</text>
<text x="76.9" y="266.4">Bombilactobacillus</text>
<text x="71.5" y="282">Bombilactobacillus</text>
<text x="66.6" y="299.2">Bombilactobacillus</text>
<text x="72" y="329.8">Bombilactobacillus</text>
<text x="82.3" y="335.8">Bombilactobacillus</text>
<text x="60.1" y="339.6">Bombilactobacillus</text>
<text x="72" y="345.3">Bombilactobacillus</text>
<text x="137.3" y="311.2">Bombilactobacillus</text>
<text x="120.4" y="313.8">Bombilactobacillus</text>
<text x="105.4" y="318.1">Bombilactobacillus</text>
<text x="130.4" y="320.8">Bombilactobacillus</text>
<text x="116.1" y="323.9">Bombilactobacillus</text>
<text x="125.1" y="330">Bombilactobacillus</text>
<text x="106.6" y="336.3">Bombilactobacillus</text>
<text x="117.3" y="341.2">Bombilactobacillus</text>
<text x="15.5" y="261.3">Lactobacillus</text>
<text x="19.6" y="266.9">Lactobacillus</text>
<text x="38.8" y="297.5">Lactobacillus</text>
<text x="26.2" y="307.4">Lactobacillus</text>
<text x="79.7" y="303.4">Lactobacillus</text>
<text x="61" y="307">Lactobacillus</text>
<text x="78.6" y="310.3">Lactobacillus</text>
<text x="67.6" y="313.8">Lactobacillus</text>
<text x="78.6" y="319.3">Lactobacillus</text>
<text x="67.1" y="324.4">Lactobacillus</text>
<text x="91.6" y="328.2">Lactobacillus</text>
<text x="94" y="322.9">Lactobacillus</text>
<text x="106.6" y="329.4">Lactobacillus</text>
<text x="95.7" y="340.7">Lactobacillus</text>
<text x="138.9" y="337.7">Lactobacillus</text>
<text x="153.6" y="337.2">Lactobacillus</text>
<text x="147.7" y="349.6">Lactobacillus</text>
<text x="161.9" y="348.8">Lactobacillus</text>
<text x="96.7" y="355.3">Lactobacillus</text>
<text x="91.9" y="305.5">Lactobacillus</text>
<text x="126" y="250.4">Lactobacillus</text>
<text x="116.8" y="261.3">Lactobacillus</text>
<text x="179.1" y="214.4">Lactobacillus</text>
<text x="190.8" y="209.5">Lactobacillus</text>
<text x="195.4" y="220.9">Lactobacillus</text>
<text x="184.1" y="225.5">Lactobacillus</text>
<text x="195" y="235.8">Lactobacillus</text>
<text x="201.4" y="249.5">Lactobacillus</text>
<text x="212.6" y="258.6">Lactobacillus</text>
<text x="200.1" y="264.3">Lactobacillus</text>
<text x="242.6" y="209.5">Lactobacillus</text>
<text x="227.7" y="212.6">Lactobacillus</text>
<text x="239.2" y="215.8">Lactobacillus</text>
<text x="235.4" y="221.3">Lactobacillus</text>
<text x="230.5" y="226.8">Lactobacillus</text>
<text x="248.6" y="226.8">Lactobacillus</text>
<text x="257.4" y="231.7">Lactobacillus</text>
<text x="247.2" y="240.8">Lactobacillus</text>
<text x="261" y="244">Lactobacillus</text>
<text x="260.5" y="250.4">Lactobacillus</text>
<text x="198.3" y="276.7">Lactobacillus</text>
<text x="225.9" y="278.1">Lactobacillus</text>
<text x="183.2" y="284.5">Lactobacillus</text>
<text x="205.5" y="293">Lactobacillus</text>
<text x="190.5" y="300.5">Lactobacillus</text>
<text x="179.5" y="319.6">Lactobacillus</text>
<text x="263.5" y="303">Lactobacillus</text>
<text x="255.9" y="315.2">Lactobacillus</text>
<text x="188.6" y="344">Lactobacillus</text>
<text x="201.4" y="350">Lactobacillus</text>
<text x="189.5" y="358.6">Lactobacillus</text>
<text x="179.5" y="369.8">Lactobacillus</text>
<text x="33.6" y="270.7">Bifidobacterium</text>
<text x="43.9" y="275.1">Bifidobacterium</text>
<text x="25.9" y="278.1">Bifidobacterium</text>
<text x="39" y="283.3">Bifidobacterium</text>
<text x="35.2" y="289.4">Bifidobacterium</text>
<text x="50.7" y="293.5">Bifidobacterium</text>
<text x="102.2" y="209.5">Gilliamella</text>
<text x="96.7" y="223.1">Gilliamella</text>
<text x="107.1" y="272.4">Gilliamella</text>
<text x="98.8" y="283.1">Gilliamella</text>
<text x="248.6" y="328">Gilliamella</text>
<text x="240.5" y="339.8">Gilliamella</text>
<text x="155.1" y="250.4">Commensalibacter</text>
<text x="144" y="258.2">Commensalibacter</text>
<text x="155.9" y="265.1">Commensalibacter</text>
<text x="234.1" y="299.9">Bartonella</text>
<text x="223.7" y="303.9">Bartonella</text>
<text x="241.7" y="308.5">Bartonella</text>
<text x="221.9" y="313.6">Bartonella</text>
<text x="240.1" y="318.5">Bartonella</text>
<text x="229" y="320.9">Bartonella</text>
<text x="55.3" y="354.7">Snodgrassella</text>
<text x="43.9" y="363.3">Snodgrassella</text>
<text x="55.6" y="369.7">Snodgrassella</text>
<text x="213.2" y="340">Arsenophonus</text>
<text x="229.5" y="348.6">Arsenophonus</text>
<text x="221.9" y="360.4">Arsenophonus</text>
<text x="216.8" y="331.8">NA</text>
<text x="160.1" y="279.3">Commensalibacter</text>
</g>
<g font-size="3.4" letter-spacing="-0.076">
<text x="324.2" y="210.7">Lactobacillus</text>
<text x="335.8" y="214.8">Lactobacillus</text>
<text x="332.5" y="219.6">Lactobacillus</text>
<text x="320.8" y="224.5">Lactobacillus</text>
<text x="353.6" y="221.7">Lactobacillus</text>
<text x="363.6" y="214.1">Lactobacillus</text>
<text x="359.6" y="233.5">Lactobacillus</text>
<text x="369.1" y="225.9">Lactobacillus</text>
<text x="305.2" y="249.3">Lactobacillus</text>
<text x="291.1" y="254.2">Lactobacillus</text>
<text x="298.5" y="265.5">Lactobacillus</text>
<text x="412.5" y="245.5">Lactobacillus</text>
<text x="424.2" y="248.7">Lactobacillus</text>
<text x="407" y="252.5">Lactobacillus</text>
<text x="417.7" y="261.6">Lactobacillus</text>
<text x="298.8" y="283.4">Lactobacillus</text>
<text x="329.9" y="282.2">Lactobacillus</text>
<text x="343.2" y="285.2">Lactobacillus</text>
<text x="329.9" y="289.1">Lactobacillus</text>
<text x="356.2" y="288.6">Lactobacillus</text>
<text x="341.8" y="293.1">Lactobacillus</text>
<text x="352.7" y="296.9">Lactobacillus</text>
<text x="336" y="299.2">Lactobacillus</text>
<text x="357.6" y="303.3">Lactobacillus</text>
<text x="328.2" y="306.8">Lactobacillus</text>
<text x="345" y="307.8">Lactobacillus</text>
<text x="334.6" y="324">Lactobacillus</text>
<text x="366.1" y="323.9">Lactobacillus</text>
<text x="404.5" y="323.9">Lactobacillus</text>
<text x="427.5" y="323.9">Lactobacillus</text>
<text x="454.5" y="323.7">Lactobacillus</text>
<text x="463.6" y="286.2">Lactobacillus</text>
<text x="481.4" y="287.9">Lactobacillus</text>
<text x="471.1" y="298.6">Lactobacillus</text>
<text x="483.8" y="304.2">Lactobacillus</text>
<text x="493.2" y="323.9">Lactobacillus</text>
<text x="521.5" y="323.9">Lactobacillus</text>
<text x="445.3" y="328.4">Lactobacillus</text>
<text x="376.2" y="331.9">Lactobacillus</text>
<text x="393.5" y="331.9">Lactobacillus</text>
<text x="409.6" y="336.5">Lactobacillus</text>
<text x="369.6" y="343.7">Lactobacillus</text>
<text x="399.5" y="343.6">Lactobacillus</text>
<text x="427.5" y="343.1">Lactobacillus</text>
<text x="448.8" y="341.9">Lactobacillus</text>
<text x="435.8" y="353.5">Lactobacillus</text>
<text x="442.7" y="370.4">Lactobacillus</text>
<text x="326.3" y="333.6">Lactobacillus</text>
<text x="342.7" y="334.8">Lactobacillus</text>
<text x="360.1" y="336.2">Lactobacillus</text>
<text x="334.1" y="344">Lactobacillus</text>
<text x="303" y="353.5">Lactobacillus</text>
<text x="291.8" y="357.8">Lactobacillus</text>
<text x="306.6" y="366.9">Lactobacillus</text>
<text x="295.4" y="371.1">Lactobacillus</text>
<text x="510.3" y="328.1">Lactobacillus</text>
<text x="460.2" y="337.4">Lactobacillus</text>
<text x="477.5" y="341.7">Lactobacillus</text>
<text x="525" y="337.6">Lactobacillus</text>
<text x="514.6" y="341.7">Lactobacillus</text>
<text x="480.9" y="353.5">Lactobacillus</text>
<text x="478.3" y="370.2">Lactobacillus</text>
<text x="309.2" y="233.1">Bifidobacterium</text>
<text x="318.5" y="244.7">Bifidobacterium</text>
<text x="355.8" y="370.4">Bifidobacterium</text>
<text x="368" y="362.1">Bifidobacterium</text>
<text x="356.5" y="250.7">Bartonella</text>
<text x="353.6" y="265.8">Bartonella</text>
<text x="447.6" y="213.9">Bartonella</text>
<text x="458.4" y="218.5">Bartonella</text>
<text x="443.9" y="228.3">Bartonella</text>
<text x="454.8" y="232.1">Bartonella</text>
<text x="446.2" y="244.7">Bartonella</text>
<text x="441" y="260.6">Bartonella</text>
<text x="414.6" y="210.7">Bombilactobacillus</text>
<text x="400.8" y="214.8">Bombilactobacillus</text>
<text x="387.5" y="220.8">Bombilactobacillus</text>
<text x="410.4" y="223.1">Bombilactobacillus</text>
<text x="399.5" y="227.8">Bombilactobacillus</text>
<text x="424.9" y="226.9">Bombilactobacillus</text>
<text x="409.9" y="233.5">Bombilactobacillus</text>
<text x="396.1" y="238.1">Bombilactobacillus</text>
<text x="510.3" y="282.6">Bombilactobacillus</text>
<text x="502.5" y="289.7">Bombilactobacillus</text>
<text x="518.4" y="293.5">Bombilactobacillus</text>
<text x="509.4" y="302.6">Bombilactobacillus</text>
<text x="328.5" y="353.5">Bombilactobacillus</text>
<text x="357" y="353.5">Bombilactobacillus</text>
<text x="338" y="356.9">Bombilactobacillus</text>
<text x="323.9" y="363">Bombilactobacillus</text>
<text x="331.1" y="369.9">Bombilactobacillus</text>
<text x="483.2" y="245.2">Arsenophonus</text>
<text x="478" y="260.2">Arsenophonus</text>
<text x="306.1" y="294.7">Snodgrassella</text>
<text x="292.8" y="298.1">Snodgrassella</text>
<text x="382.8" y="282.2">Snodgrassella</text>
<text x="375.7" y="293.5">Snodgrassella</text>
<text x="389.5" y="297.8">Snodgrassella</text>
<text x="381.4" y="311.9">Snodgrassella</text>
<text x="403" y="356.9">Snodgrassella</text>
<text x="421.1" y="358.6">Snodgrassella</text>
<text x="403.9" y="370.4">Snodgrassella</text>
<text x="422" y="370.4">Snodgrassella</text>
<text x="416" y="282.2">Gilliamella</text>
<text x="405.9" y="293.1">Gilliamella</text>
<text x="418.5" y="298.3">Gilliamella</text>
<text x="408.2" y="309.9">Gilliamella</text>
<text x="460.2" y="353.5">Gilliamella</text>
<text x="499" y="353.5">Gilliamella</text>
<text x="517.2" y="353.5">Gilliamella</text>
<text x="461" y="370.2">Gilliamella</text>
<text x="498.7" y="370.2">Gilliamella</text>
<text x="517.2" y="370.2">Gilliamella</text>
<text x="448.8" y="298.6">Commensalibacter</text>
<text x="436.3" y="305.5">Commensalibacter</text>
<text x="450.5" y="282.2">Commensalibacter</text>
<text x="437.5" y="288.8">Commensalibacter</text>
<text x="301.8" y="326.3" fill="#a02035">Frischella</text>
<text x="385.7" y="353.5">NA</text>
<text x="385.7" y="370.4">NA</text>
<text x="314.7" y="315.9" fill="#a02035">Frischella</text>
</g>
<g font-size="3.1" letter-spacing="-0.069">
<text x="27.1" y="467.8">Commensalibacter</text>
<text x="15.5" y="476.4">Commensalibacter</text>
<text x="82.9" y="612.5">Commensalibacter</text>
<text x="29" y="483.9">Lactobacillus</text>
<text x="163.9" y="508">Lactobacillus</text>
<text x="149.6" y="512.2">Lactobacillus</text>
<text x="181.5" y="514.9">Lactobacillus</text>
<text x="215.8" y="467.5">Lactobacillus</text>
<text x="243.6" y="467.3">Lactobacillus</text>
<text x="255.5" y="469.5">Lactobacillus</text>
<text x="210.6" y="483">Lactobacillus</text>
<text x="241.3" y="480.8">Lactobacillus</text>
<text x="253.4" y="483.4">Lactobacillus</text>
<text x="204.7" y="495.1">Lactobacillus</text>
<text x="193.3" y="504.9">Lactobacillus</text>
<text x="207.6" y="513.4">Lactobacillus</text>
<text x="198.1" y="520.9">Lactobacillus</text>
<text x="184.5" y="532.5">Lactobacillus</text>
<text x="151.7" y="519.2">Lactobacillus</text>
<text x="159.6" y="525.7">Lactobacillus</text>
<text x="172.9" y="523.1">Lactobacillus</text>
<text x="172.6" y="539">Lactobacillus</text>
<text x="98.6" y="538.5">Lactobacillus</text>
<text x="112.5" y="543.7">Lactobacillus</text>
<text x="123.2" y="551.1">Lactobacillus</text>
<text x="88.9" y="552.3">Lactobacillus</text>
<text x="105.5" y="555.4">Lactobacillus</text>
<text x="116.8" y="563.2">Lactobacillus</text>
<text x="72.2" y="558.9">Lactobacillus</text>
<text x="83.8" y="564.9">Lactobacillus</text>
<text x="67" y="571.2">Lactobacillus</text>
<text x="82.9" y="572.4">Lactobacillus</text>
<text x="81.7" y="595.6">Lactobacillus</text>
<text x="47.5" y="593.3">Lactobacillus</text>
<text x="37.5" y="602.1">Lactobacillus</text>
<text x="54.9" y="604.2">Lactobacillus</text>
<text x="21.6" y="612.3">Lactobacillus</text>
<text x="44.9" y="612.3">Lactobacillus</text>
<text x="30.6" y="617.2">Lactobacillus</text>
<text x="19" y="624.4">Lactobacillus</text>
<text x="30.6" y="628.4">Lactobacillus</text>
<text x="247" y="585.2">Lactobacillus</text>
<text x="259.1" y="594.4">Lactobacillus</text>
<text x="245.3" y="601.3">Lactobacillus</text>
<text x="257.7" y="610.8">Lactobacillus</text>
<text x="39.4" y="498">Bifidobacterium</text>
<text x="50.6" y="503.2">Bifidobacterium</text>
<text x="34.5" y="511.2">Bifidobacterium</text>
<text x="46.3" y="516.9">Bifidobacterium</text>
<text x="43.5" y="533.9">Bifidobacterium</text>
<text x="38.3" y="544.7">Bifidobacterium</text>
<text x="83.8" y="475.1">Bartonella</text>
<text x="89.5" y="487.7">Bartonella</text>
<text x="76" y="493.4">Bartonella</text>
<text x="94.5" y="493.7">Bartonella</text>
<text x="87.6" y="508.4">Bartonella</text>
<text x="101.6" y="475.1">Bartonella</text>
<text x="141.5" y="470.4">Bombilactobacillus</text>
<text x="154.4" y="478.2">Bombilactobacillus</text>
<text x="144.4" y="485.9">Bombilactobacillus</text>
<text x="162" y="490.6">Bombilactobacillus</text>
<text x="151.7" y="498">Bombilactobacillus</text>
<text x="224.9" y="497.2">Bombilactobacillus</text>
<text x="213.7" y="504.9">Bombilactobacillus</text>
<text x="226.6" y="511.8">Bombilactobacillus</text>
<text x="216.3" y="527.3">Bombilactobacillus</text>
<text x="33.7" y="526.6">Bombilactobacillus</text>
<text x="26.8" y="538.2">Bombilactobacillus</text>
<text x="61.8" y="538.2">Bombilactobacillus</text>
<text x="58.7" y="548.5">Bombilactobacillus</text>
<text x="43.2" y="552.9">Bombilactobacillus</text>
<text x="28" y="558.9">Bombilactobacillus</text>
<text x="49.6" y="562.4">Bombilactobacillus</text>
<text x="35.4" y="568.4">Bombilactobacillus</text>
<text x="33.7" y="577.4">Bombilactobacillus</text>
<text x="53.9" y="579.7">Bombilactobacillus</text>
<text x="200.4" y="565.5">Bombilactobacillus</text>
<text x="188.6" y="570.5">Bombilactobacillus</text>
<text x="205" y="578.4">Bombilactobacillus</text>
<text x="192.6" y="583.5">Bombilactobacillus</text>
<text x="218.9" y="585.7">Bombilactobacillus</text>
<text x="233.5" y="591.6">Bombilactobacillus</text>
<text x="245.3" y="496.8">Gilliamella</text>
<text x="259.4" y="498.4">Gilliamella</text>
<text x="76" y="579.2">Gilliamella</text>
<text x="89.8" y="581.4">Gilliamella</text>
<text x="251.7" y="511.8">Snodgrassella</text>
<text x="250.8" y="528.7">Snodgrassella</text>
<text x="203.3" y="536.1">Enterobacter</text>
<text x="208.8" y="552">Enterobacter</text>
<text x="158.6" y="565.8">Pantoea</text>
<text x="147" y="581.8">Pantoea</text>
<text x="158.6" y="580">Pantoea</text>
<text x="169.8" y="582.1">Pantoea</text>
<text x="157.9" y="596.4">NA</text>
<text x="141.3" y="598.7">Arsenophonus</text>
<text x="151.3" y="613.2">NA</text>
<text x="82.9" y="630.1">Commensalibacter</text>
</g>
<g font-size="3.38" letter-spacing="-0.075">
<text x="343.6" y="495.5">Bifidobacterium</text>
<text x="351.9" y="501.2">Bifidobacterium</text>
<text x="465" y="602.8">Bifidobacterium</text>
<text x="477.1" y="600.2">Bifidobacterium</text>
<text x="361.7" y="508.5">Snodgrassella</text>
<text x="403.7" y="475.7">Snodgrassella</text>
<text x="406.3" y="485.7">Snodgrassella</text>
<text x="373.8" y="512.3">Snodgrassella</text>
<text x="456" y="495">Snodgrassella</text>
<text x="464" y="504.6">Snodgrassella</text>
<text x="330.5" y="574.8">Snodgrassella</text>
<text x="331.6" y="590.7">Snodgrassella</text>
<text x="369.5" y="463.1">Gilliamella</text>
<text x="367.4" y="477.4">Gilliamella</text>
<text x="416.7" y="510.2">Gilliamella</text>
<text x="418.2" y="519.3">Gilliamella</text>
<text x="476" y="468.8">Gilliamella</text>
<text x="468.7" y="476.6">Gilliamella</text>
<text x="302.6" y="567.1">Gilliamella</text>
<text x="298" y="573">Gilliamella</text>
<text x="506.3" y="590.3">Gilliamella</text>
<text x="515.1" y="589.8">Gilliamella</text>
<text x="506" y="601">Gilliamella</text>
<text x="515.4" y="599.3">Gilliamella</text>
<text x="371" y="483.7">Lactobacillus</text>
<text x="383" y="469.1">Lactobacillus</text>
<text x="531.3" y="468.2">Lactobacillus</text>
<text x="529.5" y="477.9">Lactobacillus</text>
<text x="527.6" y="488.8">Lactobacillus</text>
<text x="519.6" y="497.3">Lactobacillus</text>
<text x="530.5" y="501.5">Lactobacillus</text>
<text x="536" y="507.3">Lactobacillus</text>
<text x="520" y="510">Lactobacillus</text>
<text x="499.6" y="513.5">Lactobacillus</text>
<text x="531.3" y="515.1">Lactobacillus</text>
<text x="509" y="519.3">Lactobacillus</text>
<text x="497.8" y="522.7">Lactobacillus</text>
<text x="510.6" y="530.2">Lactobacillus</text>
<text x="498.5" y="540.3">Lactobacillus</text>
<text x="507.7" y="546">Lactobacillus</text>
<text x="498.5" y="550.9">Lactobacillus</text>
<text x="508" y="558.1">Lactobacillus</text>
<text x="518.4" y="564.2">Lactobacillus</text>
<text x="504.7" y="569.9">Lactobacillus</text>
<text x="463.6" y="557.6">Lactobacillus</text>
<text x="455.8" y="550.1">Lactobacillus</text>
<text x="455.5" y="561.2">Lactobacillus</text>
<text x="426.8" y="537.9">Lactobacillus</text>
<text x="450.8" y="538.3">Lactobacillus</text>
<text x="441" y="543.1">Lactobacillus</text>
<text x="411.6" y="545.7">Lactobacillus</text>
<text x="370" y="550.9">Lactobacillus</text>
<text x="407.8" y="559.9">Lactobacillus</text>
<text x="341.5" y="558.7">Lactobacillus</text>
<text x="340.3" y="568.5">Lactobacillus</text>
<text x="288" y="568.8">Lactobacillus</text>
<text x="314.2" y="568.8">Lactobacillus</text>
<text x="303.2" y="580.7">Lactobacillus</text>
<text x="321.6" y="581.2">Lactobacillus</text>
<text x="288.5" y="583.8">Lactobacillus</text>
<text x="295.7" y="590.2">Lactobacillus</text>
<text x="313.3" y="592.4">Lactobacillus</text>
<text x="310.1" y="610">Lactobacillus</text>
<text x="315.9" y="618">Lactobacillus</text>
<text x="309.5" y="625.2">Lactobacillus</text>
<text x="402.1" y="576.3">Lactobacillus</text>
<text x="502" y="579.5">Lactobacillus</text>
<text x="389" y="480">Bombilactobacillus</text>
<text x="418.4" y="479.7">Bombilactobacillus</text>
<text x="440.3" y="486.6">Bombilactobacillus</text>
<text x="417.9" y="494.3">Bombilactobacillus</text>
<text x="437.2" y="497.3">Bombilactobacillus</text>
<text x="430.8" y="501.2">Bombilactobacillus</text>
<text x="402" y="500.2">Bombilactobacillus</text>
<text x="442.9" y="505.4">Bombilactobacillus</text>
<text x="437.7" y="513.3">Bombilactobacillus</text>
<text x="454.3" y="510.5">Bombilactobacillus</text>
<text x="480" y="479.7">Bombilactobacillus</text>
<text x="486.4" y="487.9">Bombilactobacillus</text>
<text x="470.5" y="490.2">Bombilactobacillus</text>
<text x="481.8" y="494.6">Bombilactobacillus</text>
<text x="389.8" y="517.5">Bombilactobacillus</text>
<text x="374.5" y="523.2">Bombilactobacillus</text>
<text x="450.8" y="523.6">Bombilactobacillus</text>
<text x="465.4" y="518.9">Bombilactobacillus</text>
<text x="353.2" y="519.3">Bombilactobacillus</text>
<text x="343.7" y="526.5">Bombilactobacillus</text>
<text x="355.3" y="531.4">Bombilactobacillus</text>
<text x="356.5" y="546.4">Bombilactobacillus</text>
<text x="370.6" y="557.8">Bombilactobacillus</text>
<text x="353.2" y="562.8">Bombilactobacillus</text>
<text x="364" y="569.4">Bombilactobacillus</text>
<text x="302.1" y="617.8">Bombilactobacillus</text>
<text x="299.2" y="629.5">Bombilactobacillus</text>
<text x="432.9" y="609.2">Bombilactobacillus</text>
<text x="453.6" y="607.4">Bombilactobacillus</text>
<text x="443.6" y="611.9">Bombilactobacillus</text>
<text x="435.8" y="618.8">Bombilactobacillus</text>
<text x="480" y="589.5">Bombilactobacillus</text>
<text x="470" y="592.1">Bombilactobacillus</text>
<text x="473.1" y="610.5">Bombilactobacillus</text>
<text x="379.5" y="498.1">Commensalibacter</text>
<text x="387.1" y="507.3">Commensalibacter</text>
<text x="389.7" y="489.8">Methylobacterium</text>
<text x="405.6" y="516.7">NA</text>
<text x="393.5" y="531.4">NA</text>
<text x="393.5" y="542.2">NA</text>
<text x="397.5" y="565">NA</text>
<text x="412" y="531.9">Pantoea</text>
<text x="378.3" y="539.7">Pantoea</text>
<text x="386.2" y="552.6">Pantoea</text>
<text x="398.2" y="552.1">Pantoea</text>
<text x="403.3" y="538.8">Bartonella</text>
<text x="497" y="608.5" fill="#a02035">Frischella</text>
<text x="490.4" y="614.9" fill="#a02035">Frischella</text>
<text x="388.3" y="563.7">NA</text>
<text x="404" y="489.8">Methylobacterium</text>
<text x="425" y="551">Corynebacterium</text>
</g>
<g font-size="2.6" letter-spacing="-0.058">
<text x="70.8" y="647.9">Gilliamella</text>
<text x="74.3" y="661.2">Gilliamella</text>
<text x="59.6" y="723.8">Gilliamella</text>
<text x="47" y="719.2">Gilliamella</text>
<text x="118.2" y="736.4">Gilliamella</text>
<text x="123.3" y="750.1">Gilliamella</text>
<text x="258.6" y="684">Gilliamella</text>
<text x="240.4" y="736.4">Gilliamella</text>
<text x="252.5" y="741.1">Gilliamella</text>
<text x="193.5" y="747.7">Gilliamella</text>
<text x="186.9" y="752.3">Gilliamella</text>
<text x="86.4" y="665">Lactobacillus</text>
<text x="77.5" y="675.5">Lactobacillus</text>
<text x="13.5" y="685.4">Lactobacillus</text>
<text x="162.5" y="687.2">Lactobacillus</text>
<text x="157.4" y="700.1">Lactobacillus</text>
<text x="119.4" y="698.1">Lactobacillus</text>
<text x="233.2" y="647.9">Lactobacillus</text>
<text x="223.7" y="653.5">Lactobacillus</text>
<text x="238.2" y="658.1">Lactobacillus</text>
<text x="228.4" y="664.4">Lactobacillus</text>
<text x="220.2" y="675.9">Lactobacillus</text>
<text x="230.6" y="678.2">Lactobacillus</text>
<text x="208.2" y="680.6">Lactobacillus</text>
<text x="218.5" y="687.7">Lactobacillus</text>
<text x="229.2" y="689.7">Lactobacillus</text>
<text x="206.8" y="694.4">Lactobacillus</text>
<text x="111.1" y="708.6">Lactobacillus</text>
<text x="138" y="706">Lactobacillus</text>
<text x="150.4" y="712.6">Lactobacillus</text>
<text x="130.9" y="719.2">Lactobacillus</text>
<text x="161.7" y="720.4">Lactobacillus</text>
<text x="173.8" y="728.7">Lactobacillus</text>
<text x="109" y="742.8">Lactobacillus</text>
<text x="108.1" y="748.9">Lactobacillus</text>
<text x="114.7" y="755.3">Lactobacillus</text>
<text x="110.7" y="760.2">Lactobacillus</text>
<text x="128" y="768.5">Lactobacillus</text>
<text x="115" y="774.5">Lactobacillus</text>
<text x="126.8" y="785.4">Lactobacillus</text>
<text x="175.1" y="768.5">Lactobacillus</text>
<text x="184.6" y="777.1">Lactobacillus</text>
<text x="179.5" y="785.7">Lactobacillus</text>
<text x="173.8" y="793.2">Lactobacillus</text>
<text x="198.7" y="705.2">Lactobacillus</text>
<text x="191.2" y="716.4">Lactobacillus</text>
<text x="220.6" y="728.5">Lactobacillus</text>
<text x="250.5" y="727.8">Lactobacillus</text>
<text x="212.8" y="739.7">Lactobacillus</text>
<text x="230.1" y="742.5">Lactobacillus</text>
<text x="203" y="743.7">Lactobacillus</text>
<text x="90.2" y="678.6">Commensalibacter</text>
<text x="66.2" y="682.6">Commensalibacter</text>
<text x="140.6" y="716.4">Commensalibacter</text>
<text x="143.5" y="726.8">Commensalibacter</text>
<text x="78.9" y="691.3">Bartonella</text>
<text x="73.1" y="697.1">Bombilactobacillus</text>
<text x="61.7" y="702">Bombilactobacillus</text>
<text x="81.5" y="705.2">Bombilactobacillus</text>
<text x="95" y="699">Bombilactobacillus</text>
<text x="98.6" y="686.1">Bombilactobacillus</text>
<text x="29.4" y="661.2">Bombilactobacillus</text>
<text x="34.2" y="670.7">Bombilactobacillus</text>
<text x="15.2" y="674.2">Bombilactobacillus</text>
<text x="28.5" y="690.3">Bombilactobacillus</text>
<text x="32.8" y="697.6">Bombilactobacillus</text>
<text x="43.7" y="754.4">Bombilactobacillus</text>
<text x="27.6" y="761.2">Bombilactobacillus</text>
<text x="42.3" y="771.1">Bombilactobacillus</text>
<text x="28.2" y="775.7">Bombilactobacillus</text>
<text x="198.7" y="759.6">Bombilactobacillus</text>
<text x="210.7" y="764.7">Bombilactobacillus</text>
<text x="222.3" y="766.7">Bombilactobacillus</text>
<text x="195.9" y="771.1">Bombilactobacillus</text>
<text x="214.2" y="773.3">Bombilactobacillus</text>
<text x="219.4" y="779.2">Bombilactobacillus</text>
<text x="203.3" y="781.9">Bombilactobacillus</text>
<text x="207.6" y="787.5">Bombilactobacillus</text>
<text x="17.8" y="665.2">Bifidobacterium</text>
<text x="25.9" y="681.1">Bifidobacterium</text>
<text x="84.6" y="739.4">Bifidobacterium</text>
<text x="79.4" y="748">Bifidobacterium</text>
<text x="250.3" y="692.8">Bifidobacterium</text>
<text x="244.6" y="700.2">Bifidobacterium</text>
<text x="70.3" y="713.1">NA</text>
<text x="175" y="647.9">Snodgrassella</text>
<text x="171.2" y="660.9">Snodgrassella</text>
<text x="166.9" y="673.9">Snodgrassella</text>
<text x="63" y="751">Snodgrassella</text>
<text x="68.2" y="758.2">Snodgrassella</text>
<text x="96.9" y="748.5">Snodgrassella</text>
<text x="99.5" y="761">Snodgrassella</text>
<text x="238.7" y="708.8">Snodgrassella</text>
<text x="234.9" y="715.7">Snodgrassella</text>
<text x="86.4" y="716.9">NA</text>
<text x="98.6" y="716.6">NA</text>
</g>
<g font-size="2.63" letter-spacing="-0.058">
<text x="332" y="672.1">Lactobacillus</text>
<text x="395.2" y="645.7">Lactobacillus</text>
<text x="391.3" y="651.7">Lactobacillus</text>
<text x="385.7" y="657.4">Lactobacillus</text>
<text x="400.8" y="657.8">Lactobacillus</text>
<text x="392.6" y="665.2">Lactobacillus</text>
<text x="391.8" y="682.5">Lactobacillus</text>
<text x="432.4" y="667.8">Lactobacillus</text>
<text x="423.7" y="675.9">Lactobacillus</text>
<text x="439.3" y="678.2">Lactobacillus</text>
<text x="430.1" y="685.8">Lactobacillus</text>
<text x="416.8" y="689.7">Lactobacillus</text>
<text x="403.9" y="693.2">Lactobacillus</text>
<text x="454.8" y="658.3">Lactobacillus</text>
<text x="449.6" y="669.4">Lactobacillus</text>
<text x="459.2" y="675.6">Lactobacillus</text>
<text x="464.5" y="664.2">Lactobacillus</text>
<text x="483.5" y="668.5">Lactobacillus</text>
<text x="472.3" y="676.4">Lactobacillus</text>
<text x="478.3" y="690.6">Lactobacillus</text>
<text x="518.4" y="658.3">Lactobacillus</text>
<text x="508.2" y="661.6">Lactobacillus</text>
<text x="521.8" y="670.4">Lactobacillus</text>
<text x="511.6" y="673.9">Lactobacillus</text>
<text x="506.5" y="688.4">Lactobacillus</text>
<text x="306.1" y="707.9">Lactobacillus</text>
<text x="319.9" y="708.6">Lactobacillus</text>
<text x="299.7" y="717.4">Lactobacillus</text>
<text x="313.3" y="715.5">Lactobacillus</text>
<text x="324.2" y="714.3">Lactobacillus</text>
<text x="313" y="722.1">Lactobacillus</text>
<text x="326.8" y="720.4">Lactobacillus</text>
<text x="323.4" y="725.6">Lactobacillus</text>
<text x="312.5" y="732.1">Lactobacillus</text>
<text x="322.5" y="732.1">Lactobacillus</text>
<text x="324.7" y="740.8">Lactobacillus</text>
<text x="312.7" y="744.2">Lactobacillus</text>
<text x="319.6" y="756.2">Lactobacillus</text>
<text x="306.1" y="758.2">Lactobacillus</text>
<text x="375.7" y="711.4">Lactobacillus</text>
<text x="388.7" y="715.2">Lactobacillus</text>
<text x="422.9" y="704.3">Lactobacillus</text>
<text x="456.6" y="724">Lactobacillus</text>
<text x="485.2" y="703.6">Lactobacillus</text>
<text x="500.8" y="703.1">Lactobacillus</text>
<text x="505.1" y="729">Lactobacillus</text>
<text x="513.4" y="720.9">Lactobacillus</text>
<text x="520.3" y="729.9">Lactobacillus</text>
<text x="512.9" y="738.5">Lactobacillus</text>
<text x="465.9" y="735.1">Lactobacillus</text>
<text x="451.4" y="768.5">Lactobacillus</text>
<text x="441.5" y="776.6">Lactobacillus</text>
<text x="452.6" y="778">Lactobacillus</text>
<text x="450" y="786.6">Lactobacillus</text>
<text x="452.2" y="795.8">Lactobacillus</text>
<text x="464.5" y="790.4">Lactobacillus</text>
<text x="516.7" y="793">Lactobacillus</text>
<text x="527" y="783.5">Lactobacillus</text>
<text x="333.4" y="687.5">Bombilactobacillus</text>
<text x="333.2" y="704.3">Bombilactobacillus</text>
<text x="344.1" y="716.1">Bombilactobacillus</text>
<text x="334.9" y="729.5">Bombilactobacillus</text>
<text x="344.9" y="726.9">Bombilactobacillus</text>
<text x="354.8" y="729.9">Bombilactobacillus</text>
<text x="346.3" y="739.4">Bombilactobacillus</text>
<text x="360.5" y="739.4">Bombilactobacillus</text>
<text x="358.4" y="746.3">Bombilactobacillus</text>
<text x="353.1" y="751.1">Bombilactobacillus</text>
<text x="368" y="752.2">Bombilactobacillus</text>
<text x="359.6" y="759.1">Bombilactobacillus</text>
<text x="363.4" y="776.6">Bombilactobacillus</text>
<text x="398.7" y="776.2">Bombilactobacillus</text>
<text x="428.9" y="781.1">Bombilactobacillus</text>
<text x="373.6" y="787.1">Bombilactobacillus</text>
<text x="410.8" y="786.6">Bombilactobacillus</text>
<text x="379.7" y="792.7">Bombilactobacillus</text>
<text x="437.5" y="792.7">Bombilactobacillus</text>
<text x="489.2" y="768.5">Bombilactobacillus</text>
<text x="480.6" y="779.7">Bombilactobacillus</text>
<text x="493" y="783.5">Bombilactobacillus</text>
<text x="298" y="698.9">Bifidobacterium</text>
<text x="290.9" y="709.7">Bifidobacterium</text>
<text x="466.2" y="784">Bifidobacterium</text>
<text x="464.5" y="798.7">Bifidobacterium</text>
<text x="393.5" y="693.2">Snodgrassella</text>
<text x="387.5" y="699.7">Snodgrassella</text>
<text x="483.8" y="716.4">Snodgrassella</text>
<text x="478.3" y="730.2">Snodgrassella</text>
<text x="491.8" y="727.8">Snodgrassella</text>
<text x="368.3" y="720.4">Commensalibacter</text>
<text x="368.1" y="725.9">Commensalibacter</text>
<text x="458.3" y="747.7" fill="#a02035">Frischella</text>
<text x="316.5" y="765.9">Gilliamella</text>
<text x="338.9" y="771.1">Gilliamella</text>
<text x="310.8" y="778.8">Gilliamella</text>
<text x="332" y="782.8">Gilliamella</text>
<text x="304.7" y="792.7">Gilliamella</text>
<text x="323.9" y="795.2">Gilliamella</text>
<text x="298" y="806.8">Gilliamella</text>
<text x="315.9" y="807.3">Gilliamella</text>
<text x="530.6" y="768.5">Gilliamella</text>
<text x="539.1" y="780">Gilliamella</text>
<text x="449.6" y="759.2" fill="#a02035">Frischella</text>
</g>
</g>

<g stroke="#767676" stroke-width="2" fill="none">
<line x1="274.5" y1="11" x2="274.5" y2="382"/>
<line x1="9.5" y1="203" x2="539" y2="203"/>
<line x1="273.5" y1="444" x2="273.5" y2="816"/>
<line x1="9" y1="636" x2="537.5" y2="636"/>
</g>
<g font-family="Liberation Serif, serif" font-weight="bold" font-size="13.5" fill="#111" stroke="#111" stroke-width="0.2">
<text x="109" y="15">Control t0</text>
<text x="372" y="15">Bactocell ® t0</text>
<text x="102.5" y="389.5">Fumidil ® t0</text>
<text x="396.5" y="390.5">FB t0</text>
<text x="104" y="449">Control t21</text>
<text x="368" y="448.5">Bactocell ® t21</text>
<text x="96.5" y="819.5">Fumidil ® t21</text>
<text x="392.5" y="819">FB t21</text>
<text x="10.2" y="24.8" font-family="Liberation Serif, serif" font-weight="bold" font-size="13" letter-spacing="0.1" fill="#111" stroke="#111" stroke-width="0.2">(a)</text>
<text x="11.3" y="415.2" font-family="Liberation Serif, serif" font-weight="bold" font-size="13" letter-spacing="0.35" fill="#111" stroke="#111" stroke-width="0.2">(b)</text>

</g>
</svg>
</body></html>
